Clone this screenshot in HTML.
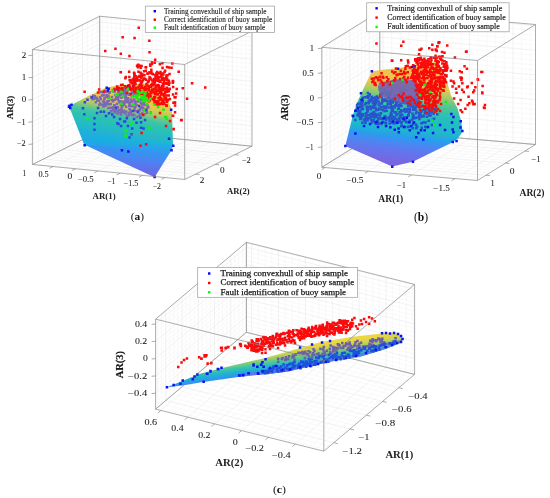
<!DOCTYPE html>
<html><head><meta charset="utf-8"><style>html,body{margin:0;padding:0;background:#fff;overflow:hidden}svg{display:block}</style></head><body>
<svg width="550" height="498" viewBox="0 0 550 498" font-family="&apos;Liberation Serif&apos;, &apos;DejaVu Serif&apos;, serif">
<rect width="550" height="498" fill="#fff"/>
<line x1="97.25" y1="132.41" x2="97.25" y2="17.41" stroke="#f1f1f1" stroke-width="0.4" />
<line x1="97.25" y1="132.41" x2="249.55" y2="147.41" stroke="#f1f1f1" stroke-width="0.4" />
<line x1="92.34" y1="134.84" x2="92.34" y2="19.84" stroke="#f1f1f1" stroke-width="0.4" />
<line x1="92.34" y1="134.84" x2="244.64" y2="149.84" stroke="#f1f1f1" stroke-width="0.4" />
<line x1="87.44" y1="137.27" x2="87.44" y2="22.27" stroke="#f1f1f1" stroke-width="0.4" />
<line x1="87.44" y1="137.27" x2="239.74" y2="152.27" stroke="#f1f1f1" stroke-width="0.4" />
<line x1="77.63" y1="142.12" x2="77.63" y2="27.12" stroke="#f1f1f1" stroke-width="0.4" />
<line x1="77.63" y1="142.12" x2="229.93" y2="157.12" stroke="#f1f1f1" stroke-width="0.4" />
<line x1="72.72" y1="144.55" x2="72.72" y2="29.55" stroke="#f1f1f1" stroke-width="0.4" />
<line x1="72.72" y1="144.55" x2="225.02" y2="159.55" stroke="#f1f1f1" stroke-width="0.4" />
<line x1="67.82" y1="146.98" x2="67.82" y2="31.98" stroke="#f1f1f1" stroke-width="0.4" />
<line x1="67.82" y1="146.98" x2="220.12" y2="161.98" stroke="#f1f1f1" stroke-width="0.4" />
<line x1="58.01" y1="151.83" x2="58.01" y2="36.83" stroke="#f1f1f1" stroke-width="0.4" />
<line x1="58.01" y1="151.83" x2="210.31" y2="166.83" stroke="#f1f1f1" stroke-width="0.4" />
<line x1="53.10" y1="154.26" x2="53.10" y2="39.26" stroke="#f1f1f1" stroke-width="0.4" />
<line x1="53.10" y1="154.26" x2="205.40" y2="169.26" stroke="#f1f1f1" stroke-width="0.4" />
<line x1="48.19" y1="156.68" x2="48.19" y2="41.68" stroke="#f1f1f1" stroke-width="0.4" />
<line x1="48.19" y1="156.68" x2="200.49" y2="171.68" stroke="#f1f1f1" stroke-width="0.4" />
<line x1="38.38" y1="161.54" x2="38.38" y2="46.54" stroke="#f1f1f1" stroke-width="0.4" />
<line x1="38.38" y1="161.54" x2="190.68" y2="176.54" stroke="#f1f1f1" stroke-width="0.4" />
<line x1="33.48" y1="163.97" x2="33.48" y2="48.97" stroke="#f1f1f1" stroke-width="0.4" />
<line x1="33.48" y1="163.97" x2="185.78" y2="178.97" stroke="#f1f1f1" stroke-width="0.4" />
<line x1="32.40" y1="161.84" x2="99.70" y2="128.54" stroke="#f1f1f1" stroke-width="0.4" />
<line x1="99.70" y1="128.54" x2="252.00" y2="143.54" stroke="#f1f1f1" stroke-width="0.4" />
<line x1="32.40" y1="157.40" x2="99.70" y2="124.10" stroke="#f1f1f1" stroke-width="0.4" />
<line x1="99.70" y1="124.10" x2="252.00" y2="139.10" stroke="#f1f1f1" stroke-width="0.4" />
<line x1="32.40" y1="152.96" x2="99.70" y2="119.66" stroke="#f1f1f1" stroke-width="0.4" />
<line x1="99.70" y1="119.66" x2="252.00" y2="134.66" stroke="#f1f1f1" stroke-width="0.4" />
<line x1="32.40" y1="148.52" x2="99.70" y2="115.22" stroke="#f1f1f1" stroke-width="0.4" />
<line x1="99.70" y1="115.22" x2="252.00" y2="130.22" stroke="#f1f1f1" stroke-width="0.4" />
<line x1="32.40" y1="139.64" x2="99.70" y2="106.34" stroke="#f1f1f1" stroke-width="0.4" />
<line x1="99.70" y1="106.34" x2="252.00" y2="121.34" stroke="#f1f1f1" stroke-width="0.4" />
<line x1="32.40" y1="135.19" x2="99.70" y2="101.89" stroke="#f1f1f1" stroke-width="0.4" />
<line x1="99.70" y1="101.89" x2="252.00" y2="116.89" stroke="#f1f1f1" stroke-width="0.4" />
<line x1="32.40" y1="130.75" x2="99.70" y2="97.45" stroke="#f1f1f1" stroke-width="0.4" />
<line x1="99.70" y1="97.45" x2="252.00" y2="112.45" stroke="#f1f1f1" stroke-width="0.4" />
<line x1="32.40" y1="126.31" x2="99.70" y2="93.01" stroke="#f1f1f1" stroke-width="0.4" />
<line x1="99.70" y1="93.01" x2="252.00" y2="108.01" stroke="#f1f1f1" stroke-width="0.4" />
<line x1="32.40" y1="117.43" x2="99.70" y2="84.13" stroke="#f1f1f1" stroke-width="0.4" />
<line x1="99.70" y1="84.13" x2="252.00" y2="99.13" stroke="#f1f1f1" stroke-width="0.4" />
<line x1="32.40" y1="112.99" x2="99.70" y2="79.69" stroke="#f1f1f1" stroke-width="0.4" />
<line x1="99.70" y1="79.69" x2="252.00" y2="94.69" stroke="#f1f1f1" stroke-width="0.4" />
<line x1="32.40" y1="108.55" x2="99.70" y2="75.25" stroke="#f1f1f1" stroke-width="0.4" />
<line x1="99.70" y1="75.25" x2="252.00" y2="90.25" stroke="#f1f1f1" stroke-width="0.4" />
<line x1="32.40" y1="104.11" x2="99.70" y2="70.81" stroke="#f1f1f1" stroke-width="0.4" />
<line x1="99.70" y1="70.81" x2="252.00" y2="85.81" stroke="#f1f1f1" stroke-width="0.4" />
<line x1="32.40" y1="95.23" x2="99.70" y2="61.93" stroke="#f1f1f1" stroke-width="0.4" />
<line x1="99.70" y1="61.93" x2="252.00" y2="76.93" stroke="#f1f1f1" stroke-width="0.4" />
<line x1="32.40" y1="90.79" x2="99.70" y2="57.49" stroke="#f1f1f1" stroke-width="0.4" />
<line x1="99.70" y1="57.49" x2="252.00" y2="72.49" stroke="#f1f1f1" stroke-width="0.4" />
<line x1="32.40" y1="86.35" x2="99.70" y2="53.05" stroke="#f1f1f1" stroke-width="0.4" />
<line x1="99.70" y1="53.05" x2="252.00" y2="68.05" stroke="#f1f1f1" stroke-width="0.4" />
<line x1="32.40" y1="81.91" x2="99.70" y2="48.61" stroke="#f1f1f1" stroke-width="0.4" />
<line x1="99.70" y1="48.61" x2="252.00" y2="63.61" stroke="#f1f1f1" stroke-width="0.4" />
<line x1="32.40" y1="73.03" x2="99.70" y2="39.73" stroke="#f1f1f1" stroke-width="0.4" />
<line x1="99.70" y1="39.73" x2="252.00" y2="54.73" stroke="#f1f1f1" stroke-width="0.4" />
<line x1="32.40" y1="68.59" x2="99.70" y2="35.29" stroke="#f1f1f1" stroke-width="0.4" />
<line x1="99.70" y1="35.29" x2="252.00" y2="50.29" stroke="#f1f1f1" stroke-width="0.4" />
<line x1="32.40" y1="64.15" x2="99.70" y2="30.85" stroke="#f1f1f1" stroke-width="0.4" />
<line x1="99.70" y1="30.85" x2="252.00" y2="45.85" stroke="#f1f1f1" stroke-width="0.4" />
<line x1="32.40" y1="59.71" x2="99.70" y2="26.41" stroke="#f1f1f1" stroke-width="0.4" />
<line x1="99.70" y1="26.41" x2="252.00" y2="41.41" stroke="#f1f1f1" stroke-width="0.4" />
<line x1="32.40" y1="50.83" x2="99.70" y2="17.53" stroke="#f1f1f1" stroke-width="0.4" />
<line x1="99.70" y1="17.53" x2="252.00" y2="32.53" stroke="#f1f1f1" stroke-width="0.4" />
<line x1="250.25" y1="146.03" x2="250.25" y2="31.03" stroke="#f1f1f1" stroke-width="0.4" />
<line x1="182.95" y1="179.33" x2="250.25" y2="146.03" stroke="#f1f1f1" stroke-width="0.4" />
<line x1="245.78" y1="145.59" x2="245.78" y2="30.59" stroke="#f1f1f1" stroke-width="0.4" />
<line x1="178.48" y1="178.89" x2="245.78" y2="145.59" stroke="#f1f1f1" stroke-width="0.4" />
<line x1="241.30" y1="145.15" x2="241.30" y2="30.15" stroke="#f1f1f1" stroke-width="0.4" />
<line x1="174.00" y1="178.45" x2="241.30" y2="145.15" stroke="#f1f1f1" stroke-width="0.4" />
<line x1="236.82" y1="144.70" x2="236.82" y2="29.70" stroke="#f1f1f1" stroke-width="0.4" />
<line x1="169.52" y1="178.00" x2="236.82" y2="144.70" stroke="#f1f1f1" stroke-width="0.4" />
<line x1="227.86" y1="143.82" x2="227.86" y2="28.82" stroke="#f1f1f1" stroke-width="0.4" />
<line x1="160.56" y1="177.12" x2="227.86" y2="143.82" stroke="#f1f1f1" stroke-width="0.4" />
<line x1="223.38" y1="143.38" x2="223.38" y2="28.38" stroke="#f1f1f1" stroke-width="0.4" />
<line x1="156.08" y1="176.68" x2="223.38" y2="143.38" stroke="#f1f1f1" stroke-width="0.4" />
<line x1="218.91" y1="142.94" x2="218.91" y2="27.94" stroke="#f1f1f1" stroke-width="0.4" />
<line x1="151.61" y1="176.24" x2="218.91" y2="142.94" stroke="#f1f1f1" stroke-width="0.4" />
<line x1="214.43" y1="142.50" x2="214.43" y2="27.50" stroke="#f1f1f1" stroke-width="0.4" />
<line x1="147.13" y1="175.80" x2="214.43" y2="142.50" stroke="#f1f1f1" stroke-width="0.4" />
<line x1="205.47" y1="141.62" x2="205.47" y2="26.62" stroke="#f1f1f1" stroke-width="0.4" />
<line x1="138.17" y1="174.92" x2="205.47" y2="141.62" stroke="#f1f1f1" stroke-width="0.4" />
<line x1="200.99" y1="141.18" x2="200.99" y2="26.18" stroke="#f1f1f1" stroke-width="0.4" />
<line x1="133.69" y1="174.48" x2="200.99" y2="141.18" stroke="#f1f1f1" stroke-width="0.4" />
<line x1="196.52" y1="140.74" x2="196.52" y2="25.74" stroke="#f1f1f1" stroke-width="0.4" />
<line x1="129.22" y1="174.04" x2="196.52" y2="140.74" stroke="#f1f1f1" stroke-width="0.4" />
<line x1="192.04" y1="140.29" x2="192.04" y2="25.29" stroke="#f1f1f1" stroke-width="0.4" />
<line x1="124.74" y1="173.59" x2="192.04" y2="140.29" stroke="#f1f1f1" stroke-width="0.4" />
<line x1="183.08" y1="139.41" x2="183.08" y2="24.41" stroke="#f1f1f1" stroke-width="0.4" />
<line x1="115.78" y1="172.71" x2="183.08" y2="139.41" stroke="#f1f1f1" stroke-width="0.4" />
<line x1="178.60" y1="138.97" x2="178.60" y2="23.97" stroke="#f1f1f1" stroke-width="0.4" />
<line x1="111.30" y1="172.27" x2="178.60" y2="138.97" stroke="#f1f1f1" stroke-width="0.4" />
<line x1="174.13" y1="138.53" x2="174.13" y2="23.53" stroke="#f1f1f1" stroke-width="0.4" />
<line x1="106.83" y1="171.83" x2="174.13" y2="138.53" stroke="#f1f1f1" stroke-width="0.4" />
<line x1="169.65" y1="138.09" x2="169.65" y2="23.09" stroke="#f1f1f1" stroke-width="0.4" />
<line x1="102.35" y1="171.39" x2="169.65" y2="138.09" stroke="#f1f1f1" stroke-width="0.4" />
<line x1="160.69" y1="137.21" x2="160.69" y2="22.21" stroke="#f1f1f1" stroke-width="0.4" />
<line x1="93.39" y1="170.51" x2="160.69" y2="137.21" stroke="#f1f1f1" stroke-width="0.4" />
<line x1="156.21" y1="136.77" x2="156.21" y2="21.77" stroke="#f1f1f1" stroke-width="0.4" />
<line x1="88.91" y1="170.07" x2="156.21" y2="136.77" stroke="#f1f1f1" stroke-width="0.4" />
<line x1="151.74" y1="136.32" x2="151.74" y2="21.32" stroke="#f1f1f1" stroke-width="0.4" />
<line x1="84.44" y1="169.62" x2="151.74" y2="136.32" stroke="#f1f1f1" stroke-width="0.4" />
<line x1="147.26" y1="135.88" x2="147.26" y2="20.88" stroke="#f1f1f1" stroke-width="0.4" />
<line x1="79.96" y1="169.18" x2="147.26" y2="135.88" stroke="#f1f1f1" stroke-width="0.4" />
<line x1="138.30" y1="135.00" x2="138.30" y2="20.00" stroke="#f1f1f1" stroke-width="0.4" />
<line x1="71.00" y1="168.30" x2="138.30" y2="135.00" stroke="#f1f1f1" stroke-width="0.4" />
<line x1="133.82" y1="134.56" x2="133.82" y2="19.56" stroke="#f1f1f1" stroke-width="0.4" />
<line x1="66.52" y1="167.86" x2="133.82" y2="134.56" stroke="#f1f1f1" stroke-width="0.4" />
<line x1="129.34" y1="134.12" x2="129.34" y2="19.12" stroke="#f1f1f1" stroke-width="0.4" />
<line x1="62.04" y1="167.42" x2="129.34" y2="134.12" stroke="#f1f1f1" stroke-width="0.4" />
<line x1="124.87" y1="133.68" x2="124.87" y2="18.68" stroke="#f1f1f1" stroke-width="0.4" />
<line x1="57.57" y1="166.98" x2="124.87" y2="133.68" stroke="#f1f1f1" stroke-width="0.4" />
<line x1="115.91" y1="132.80" x2="115.91" y2="17.80" stroke="#f1f1f1" stroke-width="0.4" />
<line x1="48.61" y1="166.10" x2="115.91" y2="132.80" stroke="#f1f1f1" stroke-width="0.4" />
<line x1="111.43" y1="132.36" x2="111.43" y2="17.36" stroke="#f1f1f1" stroke-width="0.4" />
<line x1="44.13" y1="165.66" x2="111.43" y2="132.36" stroke="#f1f1f1" stroke-width="0.4" />
<line x1="106.95" y1="131.91" x2="106.95" y2="16.91" stroke="#f1f1f1" stroke-width="0.4" />
<line x1="39.65" y1="165.21" x2="106.95" y2="131.91" stroke="#f1f1f1" stroke-width="0.4" />
<line x1="102.48" y1="131.47" x2="102.48" y2="16.47" stroke="#f1f1f1" stroke-width="0.4" />
<line x1="35.18" y1="164.77" x2="102.48" y2="131.47" stroke="#f1f1f1" stroke-width="0.4" />
<line x1="43.29" y1="159.11" x2="43.29" y2="44.11" stroke="#e4e4e4" stroke-width="0.5" />
<line x1="43.29" y1="159.11" x2="195.59" y2="174.11" stroke="#e4e4e4" stroke-width="0.5" />
<line x1="62.91" y1="149.40" x2="62.91" y2="34.40" stroke="#e4e4e4" stroke-width="0.5" />
<line x1="62.91" y1="149.40" x2="215.21" y2="164.40" stroke="#e4e4e4" stroke-width="0.5" />
<line x1="82.53" y1="139.69" x2="82.53" y2="24.69" stroke="#e4e4e4" stroke-width="0.5" />
<line x1="82.53" y1="139.69" x2="234.83" y2="154.69" stroke="#e4e4e4" stroke-width="0.5" />
<line x1="32.40" y1="144.08" x2="99.70" y2="110.78" stroke="#e4e4e4" stroke-width="0.5" />
<line x1="99.70" y1="110.78" x2="252.00" y2="125.78" stroke="#e4e4e4" stroke-width="0.5" />
<line x1="32.40" y1="121.87" x2="99.70" y2="88.57" stroke="#e4e4e4" stroke-width="0.5" />
<line x1="99.70" y1="88.57" x2="252.00" y2="103.57" stroke="#e4e4e4" stroke-width="0.5" />
<line x1="32.40" y1="99.67" x2="99.70" y2="66.37" stroke="#e4e4e4" stroke-width="0.5" />
<line x1="99.70" y1="66.37" x2="252.00" y2="81.37" stroke="#e4e4e4" stroke-width="0.5" />
<line x1="32.40" y1="77.47" x2="99.70" y2="44.17" stroke="#e4e4e4" stroke-width="0.5" />
<line x1="99.70" y1="44.17" x2="252.00" y2="59.17" stroke="#e4e4e4" stroke-width="0.5" />
<line x1="32.40" y1="55.27" x2="99.70" y2="21.97" stroke="#e4e4e4" stroke-width="0.5" />
<line x1="99.70" y1="21.97" x2="252.00" y2="36.97" stroke="#e4e4e4" stroke-width="0.5" />
<line x1="120.39" y1="133.24" x2="120.39" y2="18.24" stroke="#e4e4e4" stroke-width="0.5" />
<line x1="53.09" y1="166.54" x2="120.39" y2="133.24" stroke="#e4e4e4" stroke-width="0.5" />
<line x1="142.78" y1="135.44" x2="142.78" y2="20.44" stroke="#e4e4e4" stroke-width="0.5" />
<line x1="75.48" y1="168.74" x2="142.78" y2="135.44" stroke="#e4e4e4" stroke-width="0.5" />
<line x1="165.17" y1="137.65" x2="165.17" y2="22.65" stroke="#e4e4e4" stroke-width="0.5" />
<line x1="97.87" y1="170.95" x2="165.17" y2="137.65" stroke="#e4e4e4" stroke-width="0.5" />
<line x1="187.56" y1="139.85" x2="187.56" y2="24.85" stroke="#e4e4e4" stroke-width="0.5" />
<line x1="120.26" y1="173.15" x2="187.56" y2="139.85" stroke="#e4e4e4" stroke-width="0.5" />
<line x1="209.95" y1="142.06" x2="209.95" y2="27.06" stroke="#e4e4e4" stroke-width="0.5" />
<line x1="142.65" y1="175.36" x2="209.95" y2="142.06" stroke="#e4e4e4" stroke-width="0.5" />
<line x1="232.34" y1="144.26" x2="232.34" y2="29.26" stroke="#e4e4e4" stroke-width="0.5" />
<line x1="165.04" y1="177.56" x2="232.34" y2="144.26" stroke="#e4e4e4" stroke-width="0.5" />
<line x1="99.70" y1="131.20" x2="99.70" y2="16.20" stroke="#8a8a8a" stroke-width="0.7" />
<line x1="32.40" y1="164.50" x2="99.70" y2="131.20" stroke="#8a8a8a" stroke-width="0.7" />
<line x1="99.70" y1="131.20" x2="252.00" y2="146.20" stroke="#8a8a8a" stroke-width="0.7" />
<line x1="377.07" y1="132.99" x2="377.07" y2="12.99" stroke="#f1f1f1" stroke-width="0.4" />
<line x1="377.07" y1="132.99" x2="532.77" y2="146.19" stroke="#f1f1f1" stroke-width="0.4" />
<line x1="373.17" y1="135.41" x2="373.17" y2="15.41" stroke="#f1f1f1" stroke-width="0.4" />
<line x1="373.17" y1="135.41" x2="528.87" y2="148.61" stroke="#f1f1f1" stroke-width="0.4" />
<line x1="365.38" y1="140.25" x2="365.38" y2="20.25" stroke="#f1f1f1" stroke-width="0.4" />
<line x1="365.38" y1="140.25" x2="521.08" y2="153.45" stroke="#f1f1f1" stroke-width="0.4" />
<line x1="361.48" y1="142.67" x2="361.48" y2="22.67" stroke="#f1f1f1" stroke-width="0.4" />
<line x1="361.48" y1="142.67" x2="517.18" y2="155.87" stroke="#f1f1f1" stroke-width="0.4" />
<line x1="357.58" y1="145.09" x2="357.58" y2="25.09" stroke="#f1f1f1" stroke-width="0.4" />
<line x1="357.58" y1="145.09" x2="513.28" y2="158.29" stroke="#f1f1f1" stroke-width="0.4" />
<line x1="353.68" y1="147.51" x2="353.68" y2="27.51" stroke="#f1f1f1" stroke-width="0.4" />
<line x1="353.68" y1="147.51" x2="509.38" y2="160.71" stroke="#f1f1f1" stroke-width="0.4" />
<line x1="345.89" y1="152.35" x2="345.89" y2="32.35" stroke="#f1f1f1" stroke-width="0.4" />
<line x1="345.89" y1="152.35" x2="501.59" y2="165.55" stroke="#f1f1f1" stroke-width="0.4" />
<line x1="341.99" y1="154.77" x2="341.99" y2="34.77" stroke="#f1f1f1" stroke-width="0.4" />
<line x1="341.99" y1="154.77" x2="497.69" y2="167.97" stroke="#f1f1f1" stroke-width="0.4" />
<line x1="338.09" y1="157.19" x2="338.09" y2="37.19" stroke="#f1f1f1" stroke-width="0.4" />
<line x1="338.09" y1="157.19" x2="493.79" y2="170.39" stroke="#f1f1f1" stroke-width="0.4" />
<line x1="334.20" y1="159.61" x2="334.20" y2="39.61" stroke="#f1f1f1" stroke-width="0.4" />
<line x1="334.20" y1="159.61" x2="489.90" y2="172.81" stroke="#f1f1f1" stroke-width="0.4" />
<line x1="326.40" y1="164.45" x2="326.40" y2="44.45" stroke="#f1f1f1" stroke-width="0.4" />
<line x1="326.40" y1="164.45" x2="482.10" y2="177.65" stroke="#f1f1f1" stroke-width="0.4" />
<line x1="322.50" y1="166.86" x2="322.50" y2="46.86" stroke="#f1f1f1" stroke-width="0.4" />
<line x1="322.50" y1="166.86" x2="478.20" y2="180.06" stroke="#f1f1f1" stroke-width="0.4" />
<line x1="321.80" y1="166.81" x2="379.80" y2="130.81" stroke="#f1f1f1" stroke-width="0.4" />
<line x1="379.80" y1="130.81" x2="535.50" y2="144.01" stroke="#f1f1f1" stroke-width="0.4" />
<line x1="321.80" y1="161.87" x2="379.80" y2="125.87" stroke="#f1f1f1" stroke-width="0.4" />
<line x1="379.80" y1="125.87" x2="535.50" y2="139.07" stroke="#f1f1f1" stroke-width="0.4" />
<line x1="321.80" y1="156.93" x2="379.80" y2="120.93" stroke="#f1f1f1" stroke-width="0.4" />
<line x1="379.80" y1="120.93" x2="535.50" y2="134.13" stroke="#f1f1f1" stroke-width="0.4" />
<line x1="321.80" y1="151.99" x2="379.80" y2="115.99" stroke="#f1f1f1" stroke-width="0.4" />
<line x1="379.80" y1="115.99" x2="535.50" y2="129.19" stroke="#f1f1f1" stroke-width="0.4" />
<line x1="321.80" y1="142.11" x2="379.80" y2="106.11" stroke="#f1f1f1" stroke-width="0.4" />
<line x1="379.80" y1="106.11" x2="535.50" y2="119.31" stroke="#f1f1f1" stroke-width="0.4" />
<line x1="321.80" y1="137.18" x2="379.80" y2="101.18" stroke="#f1f1f1" stroke-width="0.4" />
<line x1="379.80" y1="101.18" x2="535.50" y2="114.38" stroke="#f1f1f1" stroke-width="0.4" />
<line x1="321.80" y1="132.24" x2="379.80" y2="96.24" stroke="#f1f1f1" stroke-width="0.4" />
<line x1="379.80" y1="96.24" x2="535.50" y2="109.44" stroke="#f1f1f1" stroke-width="0.4" />
<line x1="321.80" y1="127.30" x2="379.80" y2="91.30" stroke="#f1f1f1" stroke-width="0.4" />
<line x1="379.80" y1="91.30" x2="535.50" y2="104.50" stroke="#f1f1f1" stroke-width="0.4" />
<line x1="321.80" y1="117.42" x2="379.80" y2="81.42" stroke="#f1f1f1" stroke-width="0.4" />
<line x1="379.80" y1="81.42" x2="535.50" y2="94.62" stroke="#f1f1f1" stroke-width="0.4" />
<line x1="321.80" y1="112.49" x2="379.80" y2="76.49" stroke="#f1f1f1" stroke-width="0.4" />
<line x1="379.80" y1="76.49" x2="535.50" y2="89.69" stroke="#f1f1f1" stroke-width="0.4" />
<line x1="321.80" y1="107.55" x2="379.80" y2="71.55" stroke="#f1f1f1" stroke-width="0.4" />
<line x1="379.80" y1="71.55" x2="535.50" y2="84.75" stroke="#f1f1f1" stroke-width="0.4" />
<line x1="321.80" y1="102.61" x2="379.80" y2="66.61" stroke="#f1f1f1" stroke-width="0.4" />
<line x1="379.80" y1="66.61" x2="535.50" y2="79.81" stroke="#f1f1f1" stroke-width="0.4" />
<line x1="321.80" y1="92.73" x2="379.80" y2="56.73" stroke="#f1f1f1" stroke-width="0.4" />
<line x1="379.80" y1="56.73" x2="535.50" y2="69.93" stroke="#f1f1f1" stroke-width="0.4" />
<line x1="321.80" y1="87.79" x2="379.80" y2="51.79" stroke="#f1f1f1" stroke-width="0.4" />
<line x1="379.80" y1="51.79" x2="535.50" y2="64.99" stroke="#f1f1f1" stroke-width="0.4" />
<line x1="321.80" y1="82.86" x2="379.80" y2="46.86" stroke="#f1f1f1" stroke-width="0.4" />
<line x1="379.80" y1="46.86" x2="535.50" y2="60.06" stroke="#f1f1f1" stroke-width="0.4" />
<line x1="321.80" y1="77.92" x2="379.80" y2="41.92" stroke="#f1f1f1" stroke-width="0.4" />
<line x1="379.80" y1="41.92" x2="535.50" y2="55.12" stroke="#f1f1f1" stroke-width="0.4" />
<line x1="321.80" y1="68.04" x2="379.80" y2="32.04" stroke="#f1f1f1" stroke-width="0.4" />
<line x1="379.80" y1="32.04" x2="535.50" y2="45.24" stroke="#f1f1f1" stroke-width="0.4" />
<line x1="321.80" y1="63.10" x2="379.80" y2="27.10" stroke="#f1f1f1" stroke-width="0.4" />
<line x1="379.80" y1="27.10" x2="535.50" y2="40.30" stroke="#f1f1f1" stroke-width="0.4" />
<line x1="321.80" y1="58.16" x2="379.80" y2="22.16" stroke="#f1f1f1" stroke-width="0.4" />
<line x1="379.80" y1="22.16" x2="535.50" y2="35.36" stroke="#f1f1f1" stroke-width="0.4" />
<line x1="321.80" y1="53.23" x2="379.80" y2="17.23" stroke="#f1f1f1" stroke-width="0.4" />
<line x1="379.80" y1="17.23" x2="535.50" y2="30.43" stroke="#f1f1f1" stroke-width="0.4" />
<line x1="530.30" y1="144.06" x2="530.30" y2="24.06" stroke="#f1f1f1" stroke-width="0.4" />
<line x1="472.30" y1="180.06" x2="530.30" y2="144.06" stroke="#f1f1f1" stroke-width="0.4" />
<line x1="521.63" y1="143.32" x2="521.63" y2="23.32" stroke="#f1f1f1" stroke-width="0.4" />
<line x1="463.63" y1="179.32" x2="521.63" y2="143.32" stroke="#f1f1f1" stroke-width="0.4" />
<line x1="504.29" y1="141.85" x2="504.29" y2="21.85" stroke="#f1f1f1" stroke-width="0.4" />
<line x1="446.29" y1="177.85" x2="504.29" y2="141.85" stroke="#f1f1f1" stroke-width="0.4" />
<line x1="495.62" y1="141.12" x2="495.62" y2="21.12" stroke="#f1f1f1" stroke-width="0.4" />
<line x1="437.62" y1="177.12" x2="495.62" y2="141.12" stroke="#f1f1f1" stroke-width="0.4" />
<line x1="486.95" y1="140.38" x2="486.95" y2="20.38" stroke="#f1f1f1" stroke-width="0.4" />
<line x1="428.95" y1="176.38" x2="486.95" y2="140.38" stroke="#f1f1f1" stroke-width="0.4" />
<line x1="478.28" y1="139.65" x2="478.28" y2="19.65" stroke="#f1f1f1" stroke-width="0.4" />
<line x1="420.28" y1="175.65" x2="478.28" y2="139.65" stroke="#f1f1f1" stroke-width="0.4" />
<line x1="460.94" y1="138.18" x2="460.94" y2="18.18" stroke="#f1f1f1" stroke-width="0.4" />
<line x1="402.94" y1="174.18" x2="460.94" y2="138.18" stroke="#f1f1f1" stroke-width="0.4" />
<line x1="452.28" y1="137.44" x2="452.28" y2="17.44" stroke="#f1f1f1" stroke-width="0.4" />
<line x1="394.28" y1="173.44" x2="452.28" y2="137.44" stroke="#f1f1f1" stroke-width="0.4" />
<line x1="443.61" y1="136.71" x2="443.61" y2="16.71" stroke="#f1f1f1" stroke-width="0.4" />
<line x1="385.61" y1="172.71" x2="443.61" y2="136.71" stroke="#f1f1f1" stroke-width="0.4" />
<line x1="434.94" y1="135.97" x2="434.94" y2="15.97" stroke="#f1f1f1" stroke-width="0.4" />
<line x1="376.94" y1="171.97" x2="434.94" y2="135.97" stroke="#f1f1f1" stroke-width="0.4" />
<line x1="417.60" y1="134.50" x2="417.60" y2="14.50" stroke="#f1f1f1" stroke-width="0.4" />
<line x1="359.60" y1="170.50" x2="417.60" y2="134.50" stroke="#f1f1f1" stroke-width="0.4" />
<line x1="408.93" y1="133.77" x2="408.93" y2="13.77" stroke="#f1f1f1" stroke-width="0.4" />
<line x1="350.93" y1="169.77" x2="408.93" y2="133.77" stroke="#f1f1f1" stroke-width="0.4" />
<line x1="400.26" y1="133.03" x2="400.26" y2="13.03" stroke="#f1f1f1" stroke-width="0.4" />
<line x1="342.26" y1="169.03" x2="400.26" y2="133.03" stroke="#f1f1f1" stroke-width="0.4" />
<line x1="391.59" y1="132.30" x2="391.59" y2="12.30" stroke="#f1f1f1" stroke-width="0.4" />
<line x1="333.59" y1="168.30" x2="391.59" y2="132.30" stroke="#f1f1f1" stroke-width="0.4" />
<line x1="330.30" y1="162.03" x2="330.30" y2="42.03" stroke="#e4e4e4" stroke-width="0.5" />
<line x1="330.30" y1="162.03" x2="486.00" y2="175.23" stroke="#e4e4e4" stroke-width="0.5" />
<line x1="349.79" y1="149.93" x2="349.79" y2="29.93" stroke="#e4e4e4" stroke-width="0.5" />
<line x1="349.79" y1="149.93" x2="505.49" y2="163.13" stroke="#e4e4e4" stroke-width="0.5" />
<line x1="369.28" y1="137.83" x2="369.28" y2="17.83" stroke="#e4e4e4" stroke-width="0.5" />
<line x1="369.28" y1="137.83" x2="524.98" y2="151.03" stroke="#e4e4e4" stroke-width="0.5" />
<line x1="321.80" y1="147.05" x2="379.80" y2="111.05" stroke="#e4e4e4" stroke-width="0.5" />
<line x1="379.80" y1="111.05" x2="535.50" y2="124.25" stroke="#e4e4e4" stroke-width="0.5" />
<line x1="321.80" y1="122.36" x2="379.80" y2="86.36" stroke="#e4e4e4" stroke-width="0.5" />
<line x1="379.80" y1="86.36" x2="535.50" y2="99.56" stroke="#e4e4e4" stroke-width="0.5" />
<line x1="321.80" y1="97.67" x2="379.80" y2="61.67" stroke="#e4e4e4" stroke-width="0.5" />
<line x1="379.80" y1="61.67" x2="535.50" y2="74.87" stroke="#e4e4e4" stroke-width="0.5" />
<line x1="321.80" y1="72.98" x2="379.80" y2="36.98" stroke="#e4e4e4" stroke-width="0.5" />
<line x1="379.80" y1="36.98" x2="535.50" y2="50.18" stroke="#e4e4e4" stroke-width="0.5" />
<line x1="321.80" y1="48.29" x2="379.80" y2="12.29" stroke="#e4e4e4" stroke-width="0.5" />
<line x1="379.80" y1="12.29" x2="535.50" y2="25.49" stroke="#e4e4e4" stroke-width="0.5" />
<line x1="382.92" y1="131.56" x2="382.92" y2="11.56" stroke="#e4e4e4" stroke-width="0.5" />
<line x1="324.92" y1="167.56" x2="382.92" y2="131.56" stroke="#e4e4e4" stroke-width="0.5" />
<line x1="426.27" y1="135.24" x2="426.27" y2="15.24" stroke="#e4e4e4" stroke-width="0.5" />
<line x1="368.27" y1="171.24" x2="426.27" y2="135.24" stroke="#e4e4e4" stroke-width="0.5" />
<line x1="469.61" y1="138.91" x2="469.61" y2="18.91" stroke="#e4e4e4" stroke-width="0.5" />
<line x1="411.61" y1="174.91" x2="469.61" y2="138.91" stroke="#e4e4e4" stroke-width="0.5" />
<line x1="512.96" y1="142.59" x2="512.96" y2="22.59" stroke="#e4e4e4" stroke-width="0.5" />
<line x1="454.96" y1="178.59" x2="512.96" y2="142.59" stroke="#e4e4e4" stroke-width="0.5" />
<line x1="379.80" y1="131.30" x2="379.80" y2="11.30" stroke="#8a8a8a" stroke-width="0.7" />
<line x1="321.80" y1="167.30" x2="379.80" y2="131.30" stroke="#8a8a8a" stroke-width="0.7" />
<line x1="379.80" y1="131.30" x2="535.50" y2="144.50" stroke="#8a8a8a" stroke-width="0.7" />
<line x1="157.55" y1="407.45" x2="157.55" y2="317.45" stroke="#f1f1f1" stroke-width="0.4" />
<line x1="157.55" y1="407.45" x2="325.75" y2="449.55" stroke="#f1f1f1" stroke-width="0.4" />
<line x1="161.62" y1="404.01" x2="161.62" y2="314.01" stroke="#f1f1f1" stroke-width="0.4" />
<line x1="161.62" y1="404.01" x2="329.82" y2="446.11" stroke="#f1f1f1" stroke-width="0.4" />
<line x1="169.74" y1="397.14" x2="169.74" y2="307.14" stroke="#f1f1f1" stroke-width="0.4" />
<line x1="169.74" y1="397.14" x2="337.94" y2="439.24" stroke="#f1f1f1" stroke-width="0.4" />
<line x1="173.81" y1="393.70" x2="173.81" y2="303.70" stroke="#f1f1f1" stroke-width="0.4" />
<line x1="173.81" y1="393.70" x2="342.01" y2="435.80" stroke="#f1f1f1" stroke-width="0.4" />
<line x1="177.87" y1="390.26" x2="177.87" y2="300.26" stroke="#f1f1f1" stroke-width="0.4" />
<line x1="177.87" y1="390.26" x2="346.07" y2="432.36" stroke="#f1f1f1" stroke-width="0.4" />
<line x1="186.00" y1="383.39" x2="186.00" y2="293.39" stroke="#f1f1f1" stroke-width="0.4" />
<line x1="186.00" y1="383.39" x2="354.20" y2="425.49" stroke="#f1f1f1" stroke-width="0.4" />
<line x1="190.07" y1="379.95" x2="190.07" y2="289.95" stroke="#f1f1f1" stroke-width="0.4" />
<line x1="190.07" y1="379.95" x2="358.27" y2="422.05" stroke="#f1f1f1" stroke-width="0.4" />
<line x1="194.13" y1="376.51" x2="194.13" y2="286.51" stroke="#f1f1f1" stroke-width="0.4" />
<line x1="194.13" y1="376.51" x2="362.33" y2="418.61" stroke="#f1f1f1" stroke-width="0.4" />
<line x1="202.26" y1="369.63" x2="202.26" y2="279.63" stroke="#f1f1f1" stroke-width="0.4" />
<line x1="202.26" y1="369.63" x2="370.46" y2="411.73" stroke="#f1f1f1" stroke-width="0.4" />
<line x1="206.32" y1="366.20" x2="206.32" y2="276.20" stroke="#f1f1f1" stroke-width="0.4" />
<line x1="206.32" y1="366.20" x2="374.52" y2="408.30" stroke="#f1f1f1" stroke-width="0.4" />
<line x1="210.39" y1="362.76" x2="210.39" y2="272.76" stroke="#f1f1f1" stroke-width="0.4" />
<line x1="210.39" y1="362.76" x2="378.59" y2="404.86" stroke="#f1f1f1" stroke-width="0.4" />
<line x1="218.52" y1="355.88" x2="218.52" y2="265.88" stroke="#f1f1f1" stroke-width="0.4" />
<line x1="218.52" y1="355.88" x2="386.72" y2="397.98" stroke="#f1f1f1" stroke-width="0.4" />
<line x1="222.58" y1="352.45" x2="222.58" y2="262.45" stroke="#f1f1f1" stroke-width="0.4" />
<line x1="222.58" y1="352.45" x2="390.78" y2="394.55" stroke="#f1f1f1" stroke-width="0.4" />
<line x1="226.65" y1="349.01" x2="226.65" y2="259.01" stroke="#f1f1f1" stroke-width="0.4" />
<line x1="226.65" y1="349.01" x2="394.85" y2="391.11" stroke="#f1f1f1" stroke-width="0.4" />
<line x1="234.78" y1="342.13" x2="234.78" y2="252.13" stroke="#f1f1f1" stroke-width="0.4" />
<line x1="234.78" y1="342.13" x2="402.98" y2="384.23" stroke="#f1f1f1" stroke-width="0.4" />
<line x1="238.84" y1="338.69" x2="238.84" y2="248.69" stroke="#f1f1f1" stroke-width="0.4" />
<line x1="238.84" y1="338.69" x2="407.04" y2="380.79" stroke="#f1f1f1" stroke-width="0.4" />
<line x1="242.90" y1="335.26" x2="242.90" y2="245.26" stroke="#f1f1f1" stroke-width="0.4" />
<line x1="242.90" y1="335.26" x2="411.10" y2="377.36" stroke="#f1f1f1" stroke-width="0.4" />
<line x1="155.60" y1="406.24" x2="246.40" y2="329.44" stroke="#f1f1f1" stroke-width="0.4" />
<line x1="246.40" y1="329.44" x2="414.60" y2="371.54" stroke="#f1f1f1" stroke-width="0.4" />
<line x1="155.60" y1="401.92" x2="246.40" y2="325.12" stroke="#f1f1f1" stroke-width="0.4" />
<line x1="246.40" y1="325.12" x2="414.60" y2="367.22" stroke="#f1f1f1" stroke-width="0.4" />
<line x1="155.60" y1="397.59" x2="246.40" y2="320.79" stroke="#f1f1f1" stroke-width="0.4" />
<line x1="246.40" y1="320.79" x2="414.60" y2="362.89" stroke="#f1f1f1" stroke-width="0.4" />
<line x1="155.60" y1="388.94" x2="246.40" y2="312.14" stroke="#f1f1f1" stroke-width="0.4" />
<line x1="246.40" y1="312.14" x2="414.60" y2="354.24" stroke="#f1f1f1" stroke-width="0.4" />
<line x1="155.60" y1="384.61" x2="246.40" y2="307.81" stroke="#f1f1f1" stroke-width="0.4" />
<line x1="246.40" y1="307.81" x2="414.60" y2="349.91" stroke="#f1f1f1" stroke-width="0.4" />
<line x1="155.60" y1="380.28" x2="246.40" y2="303.48" stroke="#f1f1f1" stroke-width="0.4" />
<line x1="246.40" y1="303.48" x2="414.60" y2="345.58" stroke="#f1f1f1" stroke-width="0.4" />
<line x1="155.60" y1="371.63" x2="246.40" y2="294.83" stroke="#f1f1f1" stroke-width="0.4" />
<line x1="246.40" y1="294.83" x2="414.60" y2="336.93" stroke="#f1f1f1" stroke-width="0.4" />
<line x1="155.60" y1="367.30" x2="246.40" y2="290.50" stroke="#f1f1f1" stroke-width="0.4" />
<line x1="246.40" y1="290.50" x2="414.60" y2="332.60" stroke="#f1f1f1" stroke-width="0.4" />
<line x1="155.60" y1="362.98" x2="246.40" y2="286.18" stroke="#f1f1f1" stroke-width="0.4" />
<line x1="246.40" y1="286.18" x2="414.60" y2="328.27" stroke="#f1f1f1" stroke-width="0.4" />
<line x1="155.60" y1="354.32" x2="246.40" y2="277.52" stroke="#f1f1f1" stroke-width="0.4" />
<line x1="246.40" y1="277.52" x2="414.60" y2="319.62" stroke="#f1f1f1" stroke-width="0.4" />
<line x1="155.60" y1="349.99" x2="246.40" y2="273.19" stroke="#f1f1f1" stroke-width="0.4" />
<line x1="246.40" y1="273.19" x2="414.60" y2="315.29" stroke="#f1f1f1" stroke-width="0.4" />
<line x1="155.60" y1="345.67" x2="246.40" y2="268.87" stroke="#f1f1f1" stroke-width="0.4" />
<line x1="246.40" y1="268.87" x2="414.60" y2="310.97" stroke="#f1f1f1" stroke-width="0.4" />
<line x1="155.60" y1="337.01" x2="246.40" y2="260.21" stroke="#f1f1f1" stroke-width="0.4" />
<line x1="246.40" y1="260.21" x2="414.60" y2="302.31" stroke="#f1f1f1" stroke-width="0.4" />
<line x1="155.60" y1="332.69" x2="246.40" y2="255.89" stroke="#f1f1f1" stroke-width="0.4" />
<line x1="246.40" y1="255.89" x2="414.60" y2="297.99" stroke="#f1f1f1" stroke-width="0.4" />
<line x1="155.60" y1="328.36" x2="246.40" y2="251.56" stroke="#f1f1f1" stroke-width="0.4" />
<line x1="246.40" y1="251.56" x2="414.60" y2="293.66" stroke="#f1f1f1" stroke-width="0.4" />
<line x1="155.60" y1="319.71" x2="246.40" y2="242.91" stroke="#f1f1f1" stroke-width="0.4" />
<line x1="246.40" y1="242.91" x2="414.60" y2="285.01" stroke="#f1f1f1" stroke-width="0.4" />
<line x1="412.99" y1="374.00" x2="412.99" y2="284.00" stroke="#f1f1f1" stroke-width="0.4" />
<line x1="322.19" y1="450.80" x2="412.99" y2="374.00" stroke="#f1f1f1" stroke-width="0.4" />
<line x1="406.26" y1="372.31" x2="406.26" y2="282.31" stroke="#f1f1f1" stroke-width="0.4" />
<line x1="315.46" y1="449.11" x2="406.26" y2="372.31" stroke="#f1f1f1" stroke-width="0.4" />
<line x1="399.54" y1="370.63" x2="399.54" y2="280.63" stroke="#f1f1f1" stroke-width="0.4" />
<line x1="308.74" y1="447.43" x2="399.54" y2="370.63" stroke="#f1f1f1" stroke-width="0.4" />
<line x1="392.82" y1="368.95" x2="392.82" y2="278.95" stroke="#f1f1f1" stroke-width="0.4" />
<line x1="302.02" y1="445.75" x2="392.82" y2="368.95" stroke="#f1f1f1" stroke-width="0.4" />
<line x1="379.37" y1="365.58" x2="379.37" y2="275.58" stroke="#f1f1f1" stroke-width="0.4" />
<line x1="288.57" y1="442.38" x2="379.37" y2="365.58" stroke="#f1f1f1" stroke-width="0.4" />
<line x1="372.65" y1="363.90" x2="372.65" y2="273.90" stroke="#f1f1f1" stroke-width="0.4" />
<line x1="281.85" y1="440.70" x2="372.65" y2="363.90" stroke="#f1f1f1" stroke-width="0.4" />
<line x1="365.93" y1="362.22" x2="365.93" y2="272.22" stroke="#f1f1f1" stroke-width="0.4" />
<line x1="275.13" y1="439.02" x2="365.93" y2="362.22" stroke="#f1f1f1" stroke-width="0.4" />
<line x1="352.48" y1="358.85" x2="352.48" y2="268.85" stroke="#f1f1f1" stroke-width="0.4" />
<line x1="261.68" y1="435.65" x2="352.48" y2="358.85" stroke="#f1f1f1" stroke-width="0.4" />
<line x1="345.76" y1="357.17" x2="345.76" y2="267.17" stroke="#f1f1f1" stroke-width="0.4" />
<line x1="254.96" y1="433.97" x2="345.76" y2="357.17" stroke="#f1f1f1" stroke-width="0.4" />
<line x1="339.04" y1="355.49" x2="339.04" y2="265.49" stroke="#f1f1f1" stroke-width="0.4" />
<line x1="248.24" y1="432.29" x2="339.04" y2="355.49" stroke="#f1f1f1" stroke-width="0.4" />
<line x1="325.59" y1="352.12" x2="325.59" y2="262.12" stroke="#f1f1f1" stroke-width="0.4" />
<line x1="234.79" y1="428.92" x2="325.59" y2="352.12" stroke="#f1f1f1" stroke-width="0.4" />
<line x1="318.87" y1="350.44" x2="318.87" y2="260.44" stroke="#f1f1f1" stroke-width="0.4" />
<line x1="228.07" y1="427.24" x2="318.87" y2="350.44" stroke="#f1f1f1" stroke-width="0.4" />
<line x1="312.15" y1="348.76" x2="312.15" y2="258.76" stroke="#f1f1f1" stroke-width="0.4" />
<line x1="221.35" y1="425.56" x2="312.15" y2="348.76" stroke="#f1f1f1" stroke-width="0.4" />
<line x1="298.70" y1="345.39" x2="298.70" y2="255.39" stroke="#f1f1f1" stroke-width="0.4" />
<line x1="207.90" y1="422.19" x2="298.70" y2="345.39" stroke="#f1f1f1" stroke-width="0.4" />
<line x1="291.98" y1="343.71" x2="291.98" y2="253.71" stroke="#f1f1f1" stroke-width="0.4" />
<line x1="201.18" y1="420.51" x2="291.98" y2="343.71" stroke="#f1f1f1" stroke-width="0.4" />
<line x1="285.26" y1="342.03" x2="285.26" y2="252.03" stroke="#f1f1f1" stroke-width="0.4" />
<line x1="194.46" y1="418.83" x2="285.26" y2="342.03" stroke="#f1f1f1" stroke-width="0.4" />
<line x1="271.81" y1="338.66" x2="271.81" y2="248.66" stroke="#f1f1f1" stroke-width="0.4" />
<line x1="181.01" y1="415.46" x2="271.81" y2="338.66" stroke="#f1f1f1" stroke-width="0.4" />
<line x1="265.09" y1="336.98" x2="265.09" y2="246.98" stroke="#f1f1f1" stroke-width="0.4" />
<line x1="174.29" y1="413.78" x2="265.09" y2="336.98" stroke="#f1f1f1" stroke-width="0.4" />
<line x1="258.37" y1="335.30" x2="258.37" y2="245.30" stroke="#f1f1f1" stroke-width="0.4" />
<line x1="167.57" y1="412.10" x2="258.37" y2="335.30" stroke="#f1f1f1" stroke-width="0.4" />
<line x1="165.68" y1="400.57" x2="165.68" y2="310.57" stroke="#e4e4e4" stroke-width="0.5" />
<line x1="165.68" y1="400.57" x2="333.88" y2="442.67" stroke="#e4e4e4" stroke-width="0.5" />
<line x1="181.94" y1="386.82" x2="181.94" y2="296.82" stroke="#e4e4e4" stroke-width="0.5" />
<line x1="181.94" y1="386.82" x2="350.14" y2="428.92" stroke="#e4e4e4" stroke-width="0.5" />
<line x1="198.20" y1="373.07" x2="198.20" y2="283.07" stroke="#e4e4e4" stroke-width="0.5" />
<line x1="198.20" y1="373.07" x2="366.40" y2="415.17" stroke="#e4e4e4" stroke-width="0.5" />
<line x1="214.45" y1="359.32" x2="214.45" y2="269.32" stroke="#e4e4e4" stroke-width="0.5" />
<line x1="214.45" y1="359.32" x2="382.65" y2="401.42" stroke="#e4e4e4" stroke-width="0.5" />
<line x1="230.71" y1="345.57" x2="230.71" y2="255.57" stroke="#e4e4e4" stroke-width="0.5" />
<line x1="230.71" y1="345.57" x2="398.91" y2="387.67" stroke="#e4e4e4" stroke-width="0.5" />
<line x1="155.60" y1="393.26" x2="246.40" y2="316.46" stroke="#e4e4e4" stroke-width="0.5" />
<line x1="246.40" y1="316.46" x2="414.60" y2="358.56" stroke="#e4e4e4" stroke-width="0.5" />
<line x1="155.60" y1="375.96" x2="246.40" y2="299.16" stroke="#e4e4e4" stroke-width="0.5" />
<line x1="246.40" y1="299.16" x2="414.60" y2="341.26" stroke="#e4e4e4" stroke-width="0.5" />
<line x1="155.60" y1="358.65" x2="246.40" y2="281.85" stroke="#e4e4e4" stroke-width="0.5" />
<line x1="246.40" y1="281.85" x2="414.60" y2="323.95" stroke="#e4e4e4" stroke-width="0.5" />
<line x1="155.60" y1="341.34" x2="246.40" y2="264.54" stroke="#e4e4e4" stroke-width="0.5" />
<line x1="246.40" y1="264.54" x2="414.60" y2="306.64" stroke="#e4e4e4" stroke-width="0.5" />
<line x1="155.60" y1="324.03" x2="246.40" y2="247.23" stroke="#e4e4e4" stroke-width="0.5" />
<line x1="246.40" y1="247.23" x2="414.60" y2="289.33" stroke="#e4e4e4" stroke-width="0.5" />
<line x1="251.64" y1="333.61" x2="251.64" y2="243.61" stroke="#e4e4e4" stroke-width="0.5" />
<line x1="160.84" y1="410.41" x2="251.64" y2="333.61" stroke="#e4e4e4" stroke-width="0.5" />
<line x1="278.53" y1="340.34" x2="278.53" y2="250.34" stroke="#e4e4e4" stroke-width="0.5" />
<line x1="187.73" y1="417.14" x2="278.53" y2="340.34" stroke="#e4e4e4" stroke-width="0.5" />
<line x1="305.42" y1="347.07" x2="305.42" y2="257.07" stroke="#e4e4e4" stroke-width="0.5" />
<line x1="214.62" y1="423.87" x2="305.42" y2="347.07" stroke="#e4e4e4" stroke-width="0.5" />
<line x1="332.32" y1="353.80" x2="332.32" y2="263.80" stroke="#e4e4e4" stroke-width="0.5" />
<line x1="241.52" y1="430.60" x2="332.32" y2="353.80" stroke="#e4e4e4" stroke-width="0.5" />
<line x1="359.21" y1="360.53" x2="359.21" y2="270.53" stroke="#e4e4e4" stroke-width="0.5" />
<line x1="268.41" y1="437.33" x2="359.21" y2="360.53" stroke="#e4e4e4" stroke-width="0.5" />
<line x1="386.10" y1="367.27" x2="386.10" y2="277.27" stroke="#e4e4e4" stroke-width="0.5" />
<line x1="295.30" y1="444.07" x2="386.10" y2="367.27" stroke="#e4e4e4" stroke-width="0.5" />
<line x1="246.40" y1="332.30" x2="246.40" y2="242.30" stroke="#8a8a8a" stroke-width="0.7" />
<line x1="155.60" y1="409.10" x2="246.40" y2="332.30" stroke="#8a8a8a" stroke-width="0.7" />
<line x1="246.40" y1="332.30" x2="414.60" y2="374.40" stroke="#8a8a8a" stroke-width="0.7" />
<defs><linearGradient id="ga" gradientUnits="userSpaceOnUse" x1="120.00" y1="96.00" x2="109.71" y2="153.15"><stop offset="0.0000" stop-color="#f0c648"/><stop offset="0.1186" stop-color="#e2c84e"/><stop offset="0.2034" stop-color="#b0cb64"/><stop offset="0.2712" stop-color="#6cc88a"/><stop offset="0.3390" stop-color="#40c4a8"/><stop offset="0.4237" stop-color="#2cc2b2"/><stop offset="0.5763" stop-color="#22bcc4"/><stop offset="0.7119" stop-color="#1cb2da"/><stop offset="0.8475" stop-color="#1aaae6"/><stop offset="1.0000" stop-color="#22a4ec"/></linearGradient><linearGradient id="ga2" gradientUnits="userSpaceOnUse" x1="128.00" y1="143.00" x2="123.98" y2="176.52"><stop offset="0.0000" stop-color="#24a8ea"/><stop offset="0.2059" stop-color="#3494f0"/><stop offset="0.4412" stop-color="#4a84f2"/><stop offset="0.6765" stop-color="#5e72ec"/><stop offset="1.0000" stop-color="#7062dc"/></linearGradient></defs>
<polygon points="69.0,106.3 76.0,102.5 90.0,95.0 98.0,91.8 106.0,87.6 118.0,85.4 131.0,84.2 145.0,83.5 158.0,87.0 166.0,96.0 169.5,104.0 172.0,110.0 172.5,128.0 173.0,145.5 84.5,145.6" fill="url(#ga)" />
<polygon points="84.5,144.8 173.0,144.7 171.5,150.2 154.6,177.2" fill="url(#ga2)" />
<path fill="#7c68b4" d="M113.4 87.4h2.5v2.5h-2.5zM122.5 87.3h2.5v2.5h-2.5zM103.8 89.6h2.5v2.5h-2.5zM112.5 88.7h2.5v2.5h-2.5zM115.4 88.4h2.5v2.5h-2.5zM119.2 89.4h2.5v2.5h-2.5zM121.4 88.6h2.5v2.5h-2.5zM122.8 88.2h2.5v2.5h-2.5zM125.0 88.6h2.5v2.5h-2.5zM126.6 89.0h2.5v2.5h-2.5zM99.0 90.8h2.5v2.5h-2.5zM100.3 90.8h2.5v2.5h-2.5zM102.7 90.4h2.5v2.5h-2.5zM105.5 90.8h2.5v2.5h-2.5zM108.5 91.1h2.5v2.5h-2.5zM112.2 90.2h2.5v2.5h-2.5zM113.6 90.2h2.5v2.5h-2.5zM117.3 90.3h2.5v2.5h-2.5zM120.8 90.7h2.5v2.5h-2.5zM121.1 89.7h2.5v2.5h-2.5zM123.5 90.4h2.5v2.5h-2.5zM130.9 90.7h2.5v2.5h-2.5zM133.6 91.4h2.5v2.5h-2.5zM108.1 91.5h2.5v2.5h-2.5zM117.0 92.4h2.5v2.5h-2.5zM119.6 92.8h2.5v2.5h-2.5zM120.3 92.5h2.5v2.5h-2.5zM123.0 92.4h2.5v2.5h-2.5zM125.3 92.9h2.5v2.5h-2.5zM127.5 92.4h2.5v2.5h-2.5zM130.2 91.9h2.5v2.5h-2.5zM132.0 91.8h2.5v2.5h-2.5zM133.0 93.2h2.5v2.5h-2.5zM135.1 92.2h2.5v2.5h-2.5zM92.0 94.6h2.5v2.5h-2.5zM93.6 95.1h2.5v2.5h-2.5zM100.8 94.2h2.5v2.5h-2.5zM102.4 93.4h2.5v2.5h-2.5zM105.2 94.0h2.5v2.5h-2.5zM107.2 94.5h2.5v2.5h-2.5zM114.1 93.8h2.5v2.5h-2.5zM115.5 94.2h2.5v2.5h-2.5zM118.0 94.1h2.5v2.5h-2.5zM119.3 93.4h2.5v2.5h-2.5zM122.5 95.0h2.5v2.5h-2.5zM124.7 95.1h2.5v2.5h-2.5zM128.1 93.6h2.5v2.5h-2.5zM130.5 95.1h2.5v2.5h-2.5zM131.9 94.8h2.5v2.5h-2.5zM134.7 94.9h2.5v2.5h-2.5zM90.3 96.3h2.5v2.5h-2.5zM95.3 96.4h2.5v2.5h-2.5zM98.9 96.1h2.5v2.5h-2.5zM103.2 96.4h2.5v2.5h-2.5zM105.3 95.8h2.5v2.5h-2.5zM107.3 96.2h2.5v2.5h-2.5zM110.8 95.8h2.5v2.5h-2.5zM114.9 96.3h2.5v2.5h-2.5zM117.2 95.6h2.5v2.5h-2.5zM120.1 96.6h2.5v2.5h-2.5zM124.0 96.7h2.5v2.5h-2.5zM127.0 97.1h2.5v2.5h-2.5zM140.4 96.8h2.5v2.5h-2.5zM91.3 98.0h2.5v2.5h-2.5zM93.2 97.6h2.5v2.5h-2.5zM96.1 97.8h2.5v2.5h-2.5zM99.6 98.0h2.5v2.5h-2.5zM103.2 97.7h2.5v2.5h-2.5zM111.8 98.7h2.5v2.5h-2.5zM113.7 98.4h2.5v2.5h-2.5zM115.8 97.6h2.5v2.5h-2.5zM116.8 97.8h2.5v2.5h-2.5zM124.8 97.0h2.5v2.5h-2.5zM125.6 98.8h2.5v2.5h-2.5zM130.0 98.3h2.5v2.5h-2.5zM133.0 98.3h2.5v2.5h-2.5zM137.9 98.6h2.5v2.5h-2.5zM138.6 98.3h2.5v2.5h-2.5zM141.3 98.6h2.5v2.5h-2.5zM96.1 99.2h2.5v2.5h-2.5zM97.6 99.4h2.5v2.5h-2.5zM102.0 100.2h2.5v2.5h-2.5zM103.1 100.7h2.5v2.5h-2.5zM106.2 99.9h2.5v2.5h-2.5zM107.4 99.5h2.5v2.5h-2.5zM110.5 98.9h2.5v2.5h-2.5zM111.9 99.9h2.5v2.5h-2.5zM117.4 99.4h2.5v2.5h-2.5zM118.8 100.1h2.5v2.5h-2.5zM121.2 100.6h2.5v2.5h-2.5zM123.8 99.7h2.5v2.5h-2.5zM126.1 100.4h2.5v2.5h-2.5zM127.2 99.2h2.5v2.5h-2.5zM130.4 100.3h2.5v2.5h-2.5zM131.0 100.1h2.5v2.5h-2.5zM133.8 100.2h2.5v2.5h-2.5zM136.6 100.2h2.5v2.5h-2.5zM138.2 98.9h2.5v2.5h-2.5zM140.7 100.3h2.5v2.5h-2.5zM143.0 100.5h2.5v2.5h-2.5zM144.0 98.9h2.5v2.5h-2.5zM94.6 100.9h2.5v2.5h-2.5zM99.0 102.2h2.5v2.5h-2.5zM104.7 102.1h2.5v2.5h-2.5zM106.7 102.6h2.5v2.5h-2.5zM115.7 102.7h2.5v2.5h-2.5zM118.1 101.1h2.5v2.5h-2.5zM121.7 101.9h2.5v2.5h-2.5zM123.9 101.1h2.5v2.5h-2.5zM125.6 101.0h2.5v2.5h-2.5zM127.9 101.8h2.5v2.5h-2.5zM129.9 100.8h2.5v2.5h-2.5zM134.3 101.5h2.5v2.5h-2.5zM139.5 102.0h2.5v2.5h-2.5zM140.7 101.3h2.5v2.5h-2.5zM142.6 101.8h2.5v2.5h-2.5zM98.1 103.5h2.5v2.5h-2.5zM100.9 103.5h2.5v2.5h-2.5zM103.2 103.1h2.5v2.5h-2.5zM105.0 103.1h2.5v2.5h-2.5zM107.5 102.9h2.5v2.5h-2.5zM109.6 102.7h2.5v2.5h-2.5zM113.1 103.9h2.5v2.5h-2.5zM119.6 103.5h2.5v2.5h-2.5zM120.3 103.4h2.5v2.5h-2.5zM123.1 103.4h2.5v2.5h-2.5zM128.0 104.5h2.5v2.5h-2.5zM128.6 103.3h2.5v2.5h-2.5zM133.4 102.7h2.5v2.5h-2.5zM135.3 103.8h2.5v2.5h-2.5zM140.9 103.3h2.5v2.5h-2.5zM143.4 103.8h2.5v2.5h-2.5zM146.4 104.4h2.5v2.5h-2.5zM102.2 105.3h2.5v2.5h-2.5zM104.3 104.6h2.5v2.5h-2.5zM109.4 106.4h2.5v2.5h-2.5zM112.2 106.0h2.5v2.5h-2.5zM113.4 105.5h2.5v2.5h-2.5zM115.1 106.1h2.5v2.5h-2.5zM116.7 105.9h2.5v2.5h-2.5zM121.1 105.1h2.5v2.5h-2.5zM124.9 105.6h2.5v2.5h-2.5zM128.8 104.6h2.5v2.5h-2.5zM131.2 105.1h2.5v2.5h-2.5zM134.1 105.9h2.5v2.5h-2.5zM139.4 106.3h2.5v2.5h-2.5zM140.9 105.9h2.5v2.5h-2.5zM146.3 106.3h2.5v2.5h-2.5zM147.1 106.3h2.5v2.5h-2.5zM107.2 106.8h2.5v2.5h-2.5zM110.9 106.5h2.5v2.5h-2.5zM112.0 108.0h2.5v2.5h-2.5zM120.3 106.6h2.5v2.5h-2.5zM128.2 107.5h2.5v2.5h-2.5zM133.4 106.5h2.5v2.5h-2.5zM138.9 108.2h2.5v2.5h-2.5zM139.8 106.4h2.5v2.5h-2.5zM142.1 107.0h2.5v2.5h-2.5zM109.8 110.0h2.5v2.5h-2.5zM111.5 109.0h2.5v2.5h-2.5zM114.0 109.2h2.5v2.5h-2.5zM116.1 109.2h2.5v2.5h-2.5zM118.5 108.7h2.5v2.5h-2.5zM120.3 109.0h2.5v2.5h-2.5zM122.3 109.5h2.5v2.5h-2.5zM128.9 108.3h2.5v2.5h-2.5zM129.7 109.7h2.5v2.5h-2.5zM133.2 109.0h2.5v2.5h-2.5zM135.4 109.9h2.5v2.5h-2.5zM137.5 108.8h2.5v2.5h-2.5zM138.8 109.1h2.5v2.5h-2.5zM142.2 109.1h2.5v2.5h-2.5zM143.3 108.7h2.5v2.5h-2.5zM145.3 108.5h2.5v2.5h-2.5zM113.3 110.7h2.5v2.5h-2.5zM113.6 111.1h2.5v2.5h-2.5zM116.5 110.6h2.5v2.5h-2.5zM119.1 111.4h2.5v2.5h-2.5zM121.6 111.0h2.5v2.5h-2.5zM123.8 111.0h2.5v2.5h-2.5zM124.8 110.2h2.5v2.5h-2.5zM127.5 111.4h2.5v2.5h-2.5zM129.6 112.0h2.5v2.5h-2.5zM136.7 110.8h2.5v2.5h-2.5zM145.3 110.8h2.5v2.5h-2.5zM145.8 111.6h2.5v2.5h-2.5zM116.3 112.2h2.5v2.5h-2.5zM119.6 113.2h2.5v2.5h-2.5zM123.8 112.3h2.5v2.5h-2.5zM129.9 113.1h2.5v2.5h-2.5zM132.9 113.4h2.5v2.5h-2.5zM139.0 113.3h2.5v2.5h-2.5zM140.9 112.1h2.5v2.5h-2.5zM143.1 112.9h2.5v2.5h-2.5zM125.9 114.8h2.5v2.5h-2.5zM127.6 114.1h2.5v2.5h-2.5zM131.3 114.0h2.5v2.5h-2.5zM135.5 115.7h2.5v2.5h-2.5zM137.8 114.4h2.5v2.5h-2.5z"/>
<path fill="#0a14f0" d="M67.7 105.5h2.5v2.5h-2.5zM68.3 104.4h2.5v2.5h-2.5zM70.3 103.6h2.5v2.5h-2.5zM69.0 106.8h2.5v2.5h-2.5zM120.7 148.9h2.5v2.5h-2.5zM127.1 150.2h2.5v2.5h-2.5zM167.8 137.4h2.5v2.5h-2.5zM172.0 144.4h2.5v2.5h-2.5zM170.3 148.9h2.5v2.5h-2.5zM169.9 108.6h2.5v2.5h-2.5zM83.4 144.1h2.5v2.5h-2.5zM153.4 175.8h2.5v2.5h-2.5zM105.5 86.6h2.5v2.5h-2.5zM107.4 87.4h2.5v2.5h-2.5zM106.6 89.3h2.5v2.5h-2.5zM126.8 84.8h2.5v2.5h-2.5zM132.2 84.4h2.5v2.5h-2.5z"/>
<path fill="#2a48dc" d="M86.2 98.5h2.5v2.5h-2.5zM83.6 101.1h2.5v2.5h-2.5zM90.6 96.0h2.5v2.5h-2.5zM81.7 107.1h2.5v2.5h-2.5zM83.0 112.9h2.5v2.5h-2.5zM93.2 117.0h2.5v2.5h-2.5zM93.2 122.7h2.5v2.5h-2.5zM93.2 128.4h2.5v2.5h-2.5zM99.5 110.4h2.5v2.5h-2.5zM102.7 110.4h2.5v2.5h-2.5zM107.8 112.1h2.5v2.5h-2.5zM111.0 113.2h2.5v2.5h-2.5zM116.1 122.1h2.5v2.5h-2.5zM117.3 122.7h2.5v2.5h-2.5zM123.1 120.2h2.5v2.5h-2.5zM125.6 117.0h2.5v2.5h-2.5zM123.9 120.3h2.5v2.5h-2.5zM130.9 127.3h2.5v2.5h-2.5zM130.3 133.0h2.5v2.5h-2.5zM128.3 136.2h2.5v2.5h-2.5zM135.3 121.5h2.5v2.5h-2.5zM139.8 120.9h2.5v2.5h-2.5zM139.8 126.6h2.5v2.5h-2.5zM142.3 127.3h2.5v2.5h-2.5zM139.2 116.4h2.5v2.5h-2.5zM118.8 117.8h2.5v2.5h-2.5zM112.8 115.8h2.5v2.5h-2.5zM104.8 114.8h2.5v2.5h-2.5zM96.8 106.8h2.5v2.5h-2.5zM95.8 111.8h2.5v2.5h-2.5zM136.8 110.8h2.5v2.5h-2.5zM131.8 109.8h2.5v2.5h-2.5zM119.8 124.8h2.5v2.5h-2.5zM126.8 124.8h2.5v2.5h-2.5zM132.8 117.8h2.5v2.5h-2.5zM143.8 118.8h2.5v2.5h-2.5zM144.8 108.8h2.5v2.5h-2.5zM137.8 104.8h2.5v2.5h-2.5zM114.8 106.8h2.5v2.5h-2.5z"/>
<path fill="#fa0a0a" d="M153.4 61.5h2.5v2.5h-2.5zM148.9 63.2h2.5v2.5h-2.5zM158.6 63.0h2.5v2.5h-2.5zM161.2 62.1h2.5v2.5h-2.5zM135.8 64.8h2.5v2.5h-2.5zM138.9 64.5h2.5v2.5h-2.5zM140.3 64.7h2.5v2.5h-2.5zM149.1 64.6h2.5v2.5h-2.5zM136.7 66.1h2.5v2.5h-2.5zM144.8 66.1h2.5v2.5h-2.5zM142.9 69.9h2.5v2.5h-2.5zM144.5 69.4h2.5v2.5h-2.5zM150.1 68.6h2.5v2.5h-2.5zM132.8 71.5h2.5v2.5h-2.5zM137.2 70.5h2.5v2.5h-2.5zM139.4 71.4h2.5v2.5h-2.5zM159.3 70.7h2.5v2.5h-2.5zM146.8 72.4h2.5v2.5h-2.5zM156.9 75.5h2.5v2.5h-2.5zM124.1 77.0h2.5v2.5h-2.5zM131.5 78.3h2.5v2.5h-2.5zM142.5 77.2h2.5v2.5h-2.5zM152.7 77.7h2.5v2.5h-2.5zM156.1 76.4h2.5v2.5h-2.5zM161.4 76.5h2.5v2.5h-2.5zM164.9 77.0h2.5v2.5h-2.5zM138.6 79.3h2.5v2.5h-2.5zM159.2 80.6h2.5v2.5h-2.5zM165.5 79.1h2.5v2.5h-2.5zM140.6 81.0h2.5v2.5h-2.5zM150.7 82.4h2.5v2.5h-2.5zM162.9 82.2h2.5v2.5h-2.5zM132.3 86.1h2.5v2.5h-2.5zM143.5 88.9h2.5v2.5h-2.5zM175.5 87.7h2.5v2.5h-2.5zM121.1 89.0h2.5v2.5h-2.5zM133.5 90.7h2.5v2.5h-2.5zM138.5 90.2h2.5v2.5h-2.5zM153.1 91.1h2.5v2.5h-2.5zM160.1 90.6h2.5v2.5h-2.5zM125.6 91.4h2.5v2.5h-2.5zM129.5 93.1h2.5v2.5h-2.5zM137.3 93.0h2.5v2.5h-2.5zM154.0 91.6h2.5v2.5h-2.5zM142.1 93.5h2.5v2.5h-2.5zM171.8 93.3h2.5v2.5h-2.5zM141.3 97.2h2.5v2.5h-2.5zM146.4 96.4h2.5v2.5h-2.5zM153.2 96.8h2.5v2.5h-2.5zM173.3 96.1h2.5v2.5h-2.5zM142.1 97.9h2.5v2.5h-2.5zM166.3 99.2h2.5v2.5h-2.5zM168.6 97.8h2.5v2.5h-2.5zM147.7 100.0h2.5v2.5h-2.5zM153.6 101.5h2.5v2.5h-2.5zM156.0 100.2h2.5v2.5h-2.5zM155.1 103.1h2.5v2.5h-2.5zM162.0 102.8h2.5v2.5h-2.5zM172.2 101.5h2.5v2.5h-2.5zM173.4 101.6h2.5v2.5h-2.5zM165.4 104.5h2.5v2.5h-2.5z"/>
<path fill="#fa0a0a" d="M148.2 70.9h2.5v2.5h-2.5zM150.1 71.1h2.5v2.5h-2.5zM156.0 70.8h2.5v2.5h-2.5zM140.4 72.8h2.5v2.5h-2.5zM146.1 72.3h2.5v2.5h-2.5zM149.4 71.8h2.5v2.5h-2.5zM151.1 72.4h2.5v2.5h-2.5zM155.1 72.2h2.5v2.5h-2.5zM157.4 71.9h2.5v2.5h-2.5zM159.6 72.7h2.5v2.5h-2.5zM161.5 72.2h2.5v2.5h-2.5zM133.1 73.9h2.5v2.5h-2.5zM138.1 74.8h2.5v2.5h-2.5zM139.7 74.3h2.5v2.5h-2.5zM141.9 73.4h2.5v2.5h-2.5zM143.2 73.9h2.5v2.5h-2.5zM151.8 73.0h2.5v2.5h-2.5zM154.0 74.0h2.5v2.5h-2.5zM155.9 74.6h2.5v2.5h-2.5zM160.8 73.6h2.5v2.5h-2.5zM162.1 73.3h2.5v2.5h-2.5zM165.2 74.3h2.5v2.5h-2.5zM132.9 76.4h2.5v2.5h-2.5zM134.8 74.9h2.5v2.5h-2.5zM135.9 76.2h2.5v2.5h-2.5zM138.1 75.5h2.5v2.5h-2.5zM140.8 75.0h2.5v2.5h-2.5zM148.3 75.9h2.5v2.5h-2.5zM154.5 75.9h2.5v2.5h-2.5zM157.6 76.1h2.5v2.5h-2.5zM159.5 76.1h2.5v2.5h-2.5zM165.0 76.2h2.5v2.5h-2.5zM133.5 77.9h2.5v2.5h-2.5zM135.8 77.5h2.5v2.5h-2.5zM140.1 76.8h2.5v2.5h-2.5zM143.8 77.4h2.5v2.5h-2.5zM149.4 77.2h2.5v2.5h-2.5zM152.7 77.9h2.5v2.5h-2.5zM153.9 77.6h2.5v2.5h-2.5zM157.1 77.0h2.5v2.5h-2.5zM161.1 78.4h2.5v2.5h-2.5zM162.9 77.3h2.5v2.5h-2.5zM165.4 77.6h2.5v2.5h-2.5zM166.1 78.3h2.5v2.5h-2.5zM130.1 79.3h2.5v2.5h-2.5zM132.5 79.9h2.5v2.5h-2.5zM133.7 80.0h2.5v2.5h-2.5zM135.9 79.4h2.5v2.5h-2.5zM137.9 78.8h2.5v2.5h-2.5zM140.7 80.0h2.5v2.5h-2.5zM141.8 79.0h2.5v2.5h-2.5zM144.9 78.5h2.5v2.5h-2.5zM147.5 79.9h2.5v2.5h-2.5zM148.1 78.6h2.5v2.5h-2.5zM151.0 79.3h2.5v2.5h-2.5zM153.7 79.7h2.5v2.5h-2.5zM154.5 79.0h2.5v2.5h-2.5zM156.6 79.6h2.5v2.5h-2.5zM158.7 79.3h2.5v2.5h-2.5zM162.8 79.2h2.5v2.5h-2.5zM165.7 78.6h2.5v2.5h-2.5zM167.6 79.5h2.5v2.5h-2.5zM129.3 81.3h2.5v2.5h-2.5zM130.9 81.9h2.5v2.5h-2.5zM133.2 81.1h2.5v2.5h-2.5zM139.7 81.8h2.5v2.5h-2.5zM146.7 81.1h2.5v2.5h-2.5zM152.3 80.4h2.5v2.5h-2.5zM153.7 81.1h2.5v2.5h-2.5zM158.4 80.4h2.5v2.5h-2.5zM162.7 81.6h2.5v2.5h-2.5zM164.9 82.1h2.5v2.5h-2.5zM166.0 82.1h2.5v2.5h-2.5zM168.2 81.4h2.5v2.5h-2.5zM127.9 84.0h2.5v2.5h-2.5zM132.5 82.6h2.5v2.5h-2.5zM134.3 82.6h2.5v2.5h-2.5zM138.6 83.7h2.5v2.5h-2.5zM139.6 82.2h2.5v2.5h-2.5zM145.2 82.8h2.5v2.5h-2.5zM149.7 83.9h2.5v2.5h-2.5zM151.2 83.8h2.5v2.5h-2.5zM153.1 83.0h2.5v2.5h-2.5zM156.5 83.7h2.5v2.5h-2.5zM161.5 82.3h2.5v2.5h-2.5zM163.6 82.2h2.5v2.5h-2.5zM165.9 82.5h2.5v2.5h-2.5zM167.7 83.6h2.5v2.5h-2.5zM128.6 85.5h2.5v2.5h-2.5zM133.1 84.2h2.5v2.5h-2.5zM138.2 84.9h2.5v2.5h-2.5zM140.9 84.4h2.5v2.5h-2.5zM144.0 85.5h2.5v2.5h-2.5zM146.2 84.2h2.5v2.5h-2.5zM147.3 85.3h2.5v2.5h-2.5zM149.8 85.6h2.5v2.5h-2.5zM151.8 84.0h2.5v2.5h-2.5zM154.7 84.3h2.5v2.5h-2.5zM155.9 85.1h2.5v2.5h-2.5zM157.8 84.2h2.5v2.5h-2.5zM160.9 85.0h2.5v2.5h-2.5zM162.2 84.8h2.5v2.5h-2.5zM129.4 87.3h2.5v2.5h-2.5zM132.2 87.0h2.5v2.5h-2.5zM134.9 87.1h2.5v2.5h-2.5zM136.5 86.3h2.5v2.5h-2.5zM140.0 86.4h2.5v2.5h-2.5zM142.3 86.9h2.5v2.5h-2.5zM144.4 87.1h2.5v2.5h-2.5zM147.4 86.8h2.5v2.5h-2.5zM153.2 87.4h2.5v2.5h-2.5zM154.5 86.2h2.5v2.5h-2.5zM157.6 86.3h2.5v2.5h-2.5zM158.7 86.6h2.5v2.5h-2.5zM161.2 87.2h2.5v2.5h-2.5zM163.6 87.4h2.5v2.5h-2.5zM165.6 86.6h2.5v2.5h-2.5zM168.2 87.6h2.5v2.5h-2.5zM127.3 87.8h2.5v2.5h-2.5zM129.9 88.5h2.5v2.5h-2.5zM130.7 87.7h2.5v2.5h-2.5zM135.1 89.2h2.5v2.5h-2.5zM136.9 88.9h2.5v2.5h-2.5zM138.7 87.7h2.5v2.5h-2.5zM143.6 88.1h2.5v2.5h-2.5zM145.2 87.9h2.5v2.5h-2.5zM147.8 89.1h2.5v2.5h-2.5zM150.7 88.6h2.5v2.5h-2.5zM151.3 88.2h2.5v2.5h-2.5zM154.9 89.0h2.5v2.5h-2.5zM156.4 88.4h2.5v2.5h-2.5zM159.1 88.6h2.5v2.5h-2.5zM160.9 88.2h2.5v2.5h-2.5zM162.1 88.4h2.5v2.5h-2.5zM165.1 88.2h2.5v2.5h-2.5zM167.3 88.9h2.5v2.5h-2.5zM168.5 87.7h2.5v2.5h-2.5zM132.9 89.4h2.5v2.5h-2.5zM136.5 91.1h2.5v2.5h-2.5zM137.9 89.5h2.5v2.5h-2.5zM140.7 90.6h2.5v2.5h-2.5zM144.1 89.8h2.5v2.5h-2.5zM149.4 90.8h2.5v2.5h-2.5zM151.6 90.8h2.5v2.5h-2.5zM152.5 90.3h2.5v2.5h-2.5zM154.9 90.7h2.5v2.5h-2.5zM157.2 89.5h2.5v2.5h-2.5zM159.7 90.3h2.5v2.5h-2.5zM163.5 90.4h2.5v2.5h-2.5zM165.8 90.6h2.5v2.5h-2.5zM167.6 89.9h2.5v2.5h-2.5zM140.1 92.7h2.5v2.5h-2.5zM141.8 92.1h2.5v2.5h-2.5zM143.3 92.1h2.5v2.5h-2.5zM145.7 91.3h2.5v2.5h-2.5zM147.2 92.7h2.5v2.5h-2.5zM149.9 92.1h2.5v2.5h-2.5zM154.7 92.2h2.5v2.5h-2.5zM156.5 92.8h2.5v2.5h-2.5zM158.6 91.4h2.5v2.5h-2.5zM159.7 91.5h2.5v2.5h-2.5zM162.0 92.9h2.5v2.5h-2.5zM163.8 92.7h2.5v2.5h-2.5zM142.9 94.1h2.5v2.5h-2.5zM144.1 94.2h2.5v2.5h-2.5zM146.1 94.2h2.5v2.5h-2.5zM148.7 94.5h2.5v2.5h-2.5zM153.7 93.1h2.5v2.5h-2.5zM155.8 93.3h2.5v2.5h-2.5zM159.9 93.2h2.5v2.5h-2.5zM162.4 93.7h2.5v2.5h-2.5zM162.8 94.3h2.5v2.5h-2.5zM165.9 94.2h2.5v2.5h-2.5zM167.5 94.3h2.5v2.5h-2.5zM143.0 95.6h2.5v2.5h-2.5zM145.6 95.9h2.5v2.5h-2.5zM147.9 96.2h2.5v2.5h-2.5zM149.4 95.2h2.5v2.5h-2.5zM152.9 96.0h2.5v2.5h-2.5zM153.9 96.0h2.5v2.5h-2.5zM158.6 95.2h2.5v2.5h-2.5zM163.3 95.0h2.5v2.5h-2.5zM163.8 96.7h2.5v2.5h-2.5zM147.7 97.0h2.5v2.5h-2.5zM151.4 98.0h2.5v2.5h-2.5zM152.3 97.5h2.5v2.5h-2.5zM157.3 96.9h2.5v2.5h-2.5zM159.8 97.1h2.5v2.5h-2.5zM161.2 98.5h2.5v2.5h-2.5zM163.4 97.3h2.5v2.5h-2.5zM164.8 96.9h2.5v2.5h-2.5zM166.9 98.5h2.5v2.5h-2.5zM148.5 98.9h2.5v2.5h-2.5zM152.8 98.8h2.5v2.5h-2.5zM154.5 99.9h2.5v2.5h-2.5zM155.3 100.0h2.5v2.5h-2.5zM158.4 98.6h2.5v2.5h-2.5zM161.1 99.6h2.5v2.5h-2.5zM162.2 98.7h2.5v2.5h-2.5zM164.9 98.8h2.5v2.5h-2.5zM153.5 101.3h2.5v2.5h-2.5zM156.0 100.9h2.5v2.5h-2.5zM157.2 100.7h2.5v2.5h-2.5zM160.3 101.7h2.5v2.5h-2.5zM162.2 100.5h2.5v2.5h-2.5zM162.7 101.8h2.5v2.5h-2.5zM165.6 100.5h2.5v2.5h-2.5zM156.8 103.3h2.5v2.5h-2.5zM158.0 103.0h2.5v2.5h-2.5zM160.4 102.4h2.5v2.5h-2.5zM163.0 102.4h2.5v2.5h-2.5zM165.1 103.9h2.5v2.5h-2.5z"/>
<path fill="#fa0a0a" d="M121.4 83.5h2.5v2.5h-2.5zM115.9 85.3h2.5v2.5h-2.5zM119.9 83.7h2.5v2.5h-2.5zM123.7 85.0h2.5v2.5h-2.5zM115.9 87.5h2.5v2.5h-2.5zM117.8 86.8h2.5v2.5h-2.5zM120.9 87.1h2.5v2.5h-2.5zM124.9 86.5h2.5v2.5h-2.5zM125.2 86.3h2.5v2.5h-2.5zM112.2 89.3h2.5v2.5h-2.5zM113.2 88.2h2.5v2.5h-2.5zM117.1 88.9h2.5v2.5h-2.5zM120.2 87.8h2.5v2.5h-2.5z"/>
<path fill="#fa0a0a" d="M137.5 26.5h2.5v2.5h-2.5zM121.4 36.1h2.5v2.5h-2.5zM133.3 36.7h2.5v2.5h-2.5zM148.1 39.6h2.5v2.5h-2.5zM114.2 47.5h2.5v2.5h-2.5zM104.0 49.8h2.5v2.5h-2.5zM119.6 52.6h2.5v2.5h-2.5zM128.2 54.8h2.5v2.5h-2.5zM148.3 51.0h2.5v2.5h-2.5zM153.9 58.6h2.5v2.5h-2.5zM150.7 60.9h2.5v2.5h-2.5zM150.7 62.8h2.5v2.5h-2.5zM137.1 63.4h2.5v2.5h-2.5zM139.4 66.4h2.5v2.5h-2.5zM144.5 66.0h2.5v2.5h-2.5zM161.3 66.6h2.5v2.5h-2.5zM119.6 71.1h2.5v2.5h-2.5zM127.9 70.4h2.5v2.5h-2.5zM171.1 62.3h2.5v2.5h-2.5zM161.3 66.7h2.5v2.5h-2.5zM165.8 65.7h2.5v2.5h-2.5zM167.7 66.3h2.5v2.5h-2.5zM170.3 66.5h2.5v2.5h-2.5zM163.9 69.5h2.5v2.5h-2.5zM163.3 70.8h2.5v2.5h-2.5zM177.5 70.5h2.5v2.5h-2.5zM168.3 72.7h2.5v2.5h-2.5zM166.4 74.0h2.5v2.5h-2.5zM160.1 74.6h2.5v2.5h-2.5zM171.5 79.7h2.5v2.5h-2.5zM171.5 81.6h2.5v2.5h-2.5zM190.9 82.0h2.5v2.5h-2.5zM204.0 86.3h2.5v2.5h-2.5zM181.5 87.1h2.5v2.5h-2.5zM177.4 70.6h2.5v2.5h-2.5zM190.8 82.1h2.5v2.5h-2.5zM181.6 87.1h2.5v2.5h-2.5zM185.8 97.5h2.5v2.5h-2.5zM174.9 92.3h2.5v2.5h-2.5zM174.3 95.9h2.5v2.5h-2.5zM171.9 80.2h2.5v2.5h-2.5zM171.9 85.7h2.5v2.5h-2.5zM173.8 101.3h2.5v2.5h-2.5zM173.8 104.3h2.5v2.5h-2.5zM173.8 111.0h2.5v2.5h-2.5zM171.9 114.6h2.5v2.5h-2.5zM180.4 118.8h2.5v2.5h-2.5zM172.5 127.8h2.5v2.5h-2.5zM83.4 90.6h2.5v2.5h-2.5zM97.9 88.2h2.5v2.5h-2.5zM96.8 91.3h2.5v2.5h-2.5zM102.8 90.4h2.5v2.5h-2.5zM119.4 71.0h2.5v2.5h-2.5zM127.9 70.6h2.5v2.5h-2.5zM124.6 75.7h2.5v2.5h-2.5zM128.1 75.7h2.5v2.5h-2.5zM128.4 79.0h2.5v2.5h-2.5zM136.6 63.7h2.5v2.5h-2.5zM133.3 72.4h2.5v2.5h-2.5zM132.8 76.8h2.5v2.5h-2.5zM140.4 131.7h2.5v2.5h-2.5zM139.2 144.4h2.5v2.5h-2.5zM144.9 142.9h2.5v2.5h-2.5zM171.6 114.5h2.5v2.5h-2.5zM173.8 111.1h2.5v2.5h-2.5zM179.9 119.0h2.5v2.5h-2.5zM172.3 127.9h2.5v2.5h-2.5zM164.8 124.8h2.5v2.5h-2.5zM168.8 119.8h2.5v2.5h-2.5zM158.8 111.8h2.5v2.5h-2.5zM153.8 115.8h2.5v2.5h-2.5zM141.8 113.8h2.5v2.5h-2.5z"/>
<path fill="#14f014" d="M144.2 90.9h2.5v2.5h-2.5zM131.0 95.3h2.5v2.5h-2.5zM144.5 98.6h2.5v2.5h-2.5zM136.4 89.7h2.5v2.5h-2.5zM141.2 91.3h2.5v2.5h-2.5zM143.6 97.0h2.5v2.5h-2.5zM141.5 97.0h2.5v2.5h-2.5zM138.9 91.4h2.5v2.5h-2.5zM144.5 96.9h2.5v2.5h-2.5zM140.4 96.7h2.5v2.5h-2.5zM140.9 90.8h2.5v2.5h-2.5zM136.3 95.1h2.5v2.5h-2.5zM141.6 95.7h2.5v2.5h-2.5zM145.4 96.7h2.5v2.5h-2.5zM140.2 95.1h2.5v2.5h-2.5zM135.7 94.5h2.5v2.5h-2.5zM144.8 97.2h2.5v2.5h-2.5zM143.1 99.8h2.5v2.5h-2.5zM143.1 95.2h2.5v2.5h-2.5zM143.8 92.5h2.5v2.5h-2.5zM145.8 99.2h2.5v2.5h-2.5zM136.9 90.8h2.5v2.5h-2.5zM141.3 100.0h2.5v2.5h-2.5zM142.7 97.8h2.5v2.5h-2.5zM143.2 94.6h2.5v2.5h-2.5zM147.7 99.5h2.5v2.5h-2.5zM149.1 97.6h2.5v2.5h-2.5zM137.2 98.4h2.5v2.5h-2.5zM142.5 97.8h2.5v2.5h-2.5zM137.1 90.9h2.5v2.5h-2.5z"/>
<path fill="#14f014" d="M86.2 117.0h2.5v2.5h-2.5zM125.0 129.7h2.5v2.5h-2.5zM124.3 134.4h2.5v2.5h-2.5zM130.9 121.5h2.5v2.5h-2.5zM129.6 123.4h2.5v2.5h-2.5zM124.5 129.8h2.5v2.5h-2.5zM124.5 134.3h2.5v2.5h-2.5zM148.1 126.6h2.5v2.5h-2.5zM149.3 112.0h2.5v2.5h-2.5zM165.3 117.7h2.5v2.5h-2.5zM164.0 115.8h2.5v2.5h-2.5zM111.5 89.9h2.5v2.5h-2.5zM114.8 93.7h2.5v2.5h-2.5zM120.2 90.4h2.5v2.5h-2.5zM121.9 94.8h2.5v2.5h-2.5zM108.2 97.0h2.5v2.5h-2.5zM120.2 102.4h2.5v2.5h-2.5zM133.3 94.8h2.5v2.5h-2.5zM135.5 97.0h2.5v2.5h-2.5zM137.7 93.7h2.5v2.5h-2.5zM132.2 103.5h2.5v2.5h-2.5zM126.6 88.1h2.5v2.5h-2.5zM116.4 93.2h2.5v2.5h-2.5zM111.3 89.3h2.5v2.5h-2.5zM131.8 103.3h2.5v2.5h-2.5zM153.3 103.3h2.5v2.5h-2.5zM149.5 111.0h2.5v2.5h-2.5zM162.3 108.4h2.5v2.5h-2.5zM164.8 116.1h2.5v2.5h-2.5zM156.8 105.8h2.5v2.5h-2.5zM142.8 108.8h2.5v2.5h-2.5zM145.8 102.8h2.5v2.5h-2.5z"/>
<g opacity="0.35">
<line x1="99.70" y1="131.20" x2="99.70" y2="16.20" stroke="#8a8a8a" stroke-width="0.7" />
<line x1="32.40" y1="164.50" x2="99.70" y2="131.20" stroke="#8a8a8a" stroke-width="0.7" />
<line x1="99.70" y1="131.20" x2="252.00" y2="146.20" stroke="#8a8a8a" stroke-width="0.7" />
</g>
<defs><linearGradient id="gb" gradientUnits="userSpaceOnUse" x1="400.00" y1="70.00" x2="388.41" y2="166.61"><stop offset="0.0000" stop-color="#f0c24c"/><stop offset="0.1429" stop-color="#e8c852"/><stop offset="0.2245" stop-color="#a8cb66"/><stop offset="0.3061" stop-color="#58c88e"/><stop offset="0.3878" stop-color="#34c2ac"/><stop offset="0.4694" stop-color="#22bec0"/><stop offset="0.5816" stop-color="#20bac8"/><stop offset="0.6327" stop-color="#1cb0dc"/><stop offset="0.6837" stop-color="#2a9cee"/><stop offset="0.7449" stop-color="#4888f2"/><stop offset="0.8265" stop-color="#6276ee"/><stop offset="0.9286" stop-color="#7468e2"/><stop offset="1.0000" stop-color="#7a64dc"/></linearGradient><linearGradient id="gbp" gradientUnits="userSpaceOnUse" x1="400.00" y1="80.00" x2="397.62" y2="103.76"><stop offset="0.0000" stop-color="#7866a8"/><stop offset="0.3333" stop-color="#6e62aa"/><stop offset="0.6667" stop-color="#5a62b6"/><stop offset="1.0000" stop-color="#3e5ec4"/></linearGradient></defs>
<polygon points="371.8,71.2 385.0,69.5 397.3,68.3 410.0,66.0 425.0,63.0 437.0,62.0 443.0,70.0 447.0,81.8 451.0,95.6 457.6,108.4 461.1,121.1 462.6,131.6 458.3,138.0 452.7,142.2 412.7,161.8 392.2,166.6 345.3,145.9 352.7,116.0 356.5,104.5 361.0,93.7" fill="url(#gb)" />
<path fill="#2452d0" d="M366.7 91.8h2.5v2.5h-2.5zM368.5 93.0h2.5v2.5h-2.5zM379.1 93.0h2.5v2.5h-2.5zM380.4 93.2h2.5v2.5h-2.5zM367.7 94.8h2.5v2.5h-2.5zM375.6 95.2h2.5v2.5h-2.5zM361.5 96.6h2.5v2.5h-2.5zM370.8 96.6h2.5v2.5h-2.5zM387.1 96.5h2.5v2.5h-2.5zM391.0 96.7h2.5v2.5h-2.5zM370.4 99.0h2.5v2.5h-2.5zM373.0 99.7h2.5v2.5h-2.5zM374.9 97.9h2.5v2.5h-2.5zM389.0 99.2h2.5v2.5h-2.5zM390.3 98.3h2.5v2.5h-2.5zM360.6 101.3h2.5v2.5h-2.5zM364.8 101.8h2.5v2.5h-2.5zM373.0 100.5h2.5v2.5h-2.5zM391.8 100.4h2.5v2.5h-2.5zM395.3 101.2h2.5v2.5h-2.5zM395.8 100.7h2.5v2.5h-2.5zM403.2 100.1h2.5v2.5h-2.5zM413.1 101.3h2.5v2.5h-2.5zM414.4 100.1h2.5v2.5h-2.5zM424.4 101.5h2.5v2.5h-2.5zM356.6 102.6h2.5v2.5h-2.5zM360.8 103.3h2.5v2.5h-2.5zM367.4 102.1h2.5v2.5h-2.5zM372.6 101.9h2.5v2.5h-2.5zM377.8 102.8h2.5v2.5h-2.5zM386.5 102.7h2.5v2.5h-2.5zM399.4 102.2h2.5v2.5h-2.5zM355.8 104.2h2.5v2.5h-2.5zM382.3 105.2h2.5v2.5h-2.5zM385.3 105.2h2.5v2.5h-2.5zM394.1 104.1h2.5v2.5h-2.5zM421.3 104.4h2.5v2.5h-2.5zM367.3 106.3h2.5v2.5h-2.5zM371.0 105.7h2.5v2.5h-2.5zM377.6 107.6h2.5v2.5h-2.5zM384.8 106.5h2.5v2.5h-2.5zM397.0 107.7h2.5v2.5h-2.5zM408.8 107.6h2.5v2.5h-2.5zM411.9 105.9h2.5v2.5h-2.5zM413.0 107.2h2.5v2.5h-2.5zM419.0 105.7h2.5v2.5h-2.5zM423.8 106.2h2.5v2.5h-2.5zM427.8 107.8h2.5v2.5h-2.5zM431.7 107.2h2.5v2.5h-2.5zM366.5 109.0h2.5v2.5h-2.5zM391.5 109.0h2.5v2.5h-2.5zM399.8 108.9h2.5v2.5h-2.5zM406.3 107.9h2.5v2.5h-2.5zM412.6 107.9h2.5v2.5h-2.5zM414.3 108.3h2.5v2.5h-2.5zM423.3 107.7h2.5v2.5h-2.5zM426.3 107.9h2.5v2.5h-2.5zM430.8 108.0h2.5v2.5h-2.5zM434.1 107.9h2.5v2.5h-2.5zM358.0 111.2h2.5v2.5h-2.5zM390.1 111.6h2.5v2.5h-2.5zM393.3 111.3h2.5v2.5h-2.5zM398.4 110.9h2.5v2.5h-2.5zM404.2 110.4h2.5v2.5h-2.5zM429.6 111.1h2.5v2.5h-2.5zM356.9 113.3h2.5v2.5h-2.5zM359.7 112.9h2.5v2.5h-2.5zM361.9 113.0h2.5v2.5h-2.5zM369.3 112.8h2.5v2.5h-2.5zM371.7 113.0h2.5v2.5h-2.5zM373.9 112.5h2.5v2.5h-2.5zM376.0 113.4h2.5v2.5h-2.5zM389.6 112.7h2.5v2.5h-2.5zM396.0 113.0h2.5v2.5h-2.5zM407.5 112.0h2.5v2.5h-2.5zM418.2 112.2h2.5v2.5h-2.5zM419.3 112.5h2.5v2.5h-2.5zM432.4 112.4h2.5v2.5h-2.5zM436.0 113.0h2.5v2.5h-2.5zM365.1 114.8h2.5v2.5h-2.5zM372.2 114.4h2.5v2.5h-2.5zM375.0 115.4h2.5v2.5h-2.5zM383.9 114.9h2.5v2.5h-2.5zM389.1 115.0h2.5v2.5h-2.5zM390.4 114.2h2.5v2.5h-2.5zM399.1 113.9h2.5v2.5h-2.5zM407.2 114.2h2.5v2.5h-2.5zM420.7 115.1h2.5v2.5h-2.5zM422.4 114.6h2.5v2.5h-2.5zM428.3 114.1h2.5v2.5h-2.5zM429.1 114.1h2.5v2.5h-2.5zM359.1 117.5h2.5v2.5h-2.5zM366.1 117.3h2.5v2.5h-2.5zM371.1 115.8h2.5v2.5h-2.5zM376.9 117.0h2.5v2.5h-2.5zM380.3 117.6h2.5v2.5h-2.5zM385.3 116.7h2.5v2.5h-2.5zM388.0 117.2h2.5v2.5h-2.5zM392.3 116.2h2.5v2.5h-2.5zM393.7 116.6h2.5v2.5h-2.5zM400.8 116.7h2.5v2.5h-2.5zM403.2 115.9h2.5v2.5h-2.5zM413.1 117.1h2.5v2.5h-2.5zM415.0 116.4h2.5v2.5h-2.5zM417.6 115.8h2.5v2.5h-2.5zM432.8 117.5h2.5v2.5h-2.5zM354.1 118.8h2.5v2.5h-2.5zM363.8 117.9h2.5v2.5h-2.5zM376.1 119.7h2.5v2.5h-2.5zM384.9 118.7h2.5v2.5h-2.5zM393.2 118.1h2.5v2.5h-2.5zM395.8 118.3h2.5v2.5h-2.5zM398.7 119.7h2.5v2.5h-2.5zM427.4 119.6h2.5v2.5h-2.5zM431.3 118.6h2.5v2.5h-2.5zM361.1 121.4h2.5v2.5h-2.5zM364.2 121.5h2.5v2.5h-2.5zM372.2 119.9h2.5v2.5h-2.5zM391.0 121.2h2.5v2.5h-2.5zM397.2 119.8h2.5v2.5h-2.5zM398.6 120.3h2.5v2.5h-2.5zM400.4 120.9h2.5v2.5h-2.5zM405.0 120.7h2.5v2.5h-2.5zM412.1 121.5h2.5v2.5h-2.5zM422.1 121.2h2.5v2.5h-2.5zM424.3 121.2h2.5v2.5h-2.5zM374.7 122.4h2.5v2.5h-2.5zM377.1 122.4h2.5v2.5h-2.5zM380.1 122.7h2.5v2.5h-2.5zM411.9 123.0h2.5v2.5h-2.5zM414.9 123.4h2.5v2.5h-2.5zM420.2 122.1h2.5v2.5h-2.5zM430.6 123.8h2.5v2.5h-2.5zM399.9 125.0h2.5v2.5h-2.5zM400.6 124.3h2.5v2.5h-2.5zM403.5 125.7h2.5v2.5h-2.5zM407.7 125.4h2.5v2.5h-2.5zM415.9 125.6h2.5v2.5h-2.5zM424.0 125.5h2.5v2.5h-2.5zM406.6 125.8h2.5v2.5h-2.5zM411.4 126.9h2.5v2.5h-2.5zM414.8 126.8h2.5v2.5h-2.5zM415.2 126.9h2.5v2.5h-2.5zM420.5 126.6h2.5v2.5h-2.5zM425.1 125.9h2.5v2.5h-2.5z"/>
<path fill="#2a54cc" d="M363.9 96.0h2.5v2.5h-2.5zM366.3 95.0h2.5v2.5h-2.5zM370.4 95.5h2.5v2.5h-2.5zM373.8 96.2h2.5v2.5h-2.5zM377.3 96.5h2.5v2.5h-2.5zM380.5 95.7h2.5v2.5h-2.5zM361.0 98.0h2.5v2.5h-2.5zM366.7 96.6h2.5v2.5h-2.5zM368.5 98.2h2.5v2.5h-2.5zM371.9 97.0h2.5v2.5h-2.5zM374.4 98.5h2.5v2.5h-2.5zM376.0 98.1h2.5v2.5h-2.5zM381.2 98.3h2.5v2.5h-2.5zM382.8 98.2h2.5v2.5h-2.5zM385.0 98.4h2.5v2.5h-2.5zM359.7 98.8h2.5v2.5h-2.5zM367.4 100.1h2.5v2.5h-2.5zM368.6 100.3h2.5v2.5h-2.5zM370.4 98.9h2.5v2.5h-2.5zM374.4 99.4h2.5v2.5h-2.5zM374.8 98.9h2.5v2.5h-2.5zM383.1 99.4h2.5v2.5h-2.5zM385.0 99.7h2.5v2.5h-2.5zM385.9 99.8h2.5v2.5h-2.5zM388.6 100.1h2.5v2.5h-2.5zM390.7 99.5h2.5v2.5h-2.5zM397.4 100.0h2.5v2.5h-2.5zM359.2 101.8h2.5v2.5h-2.5zM361.5 100.5h2.5v2.5h-2.5zM368.0 100.5h2.5v2.5h-2.5zM371.5 101.7h2.5v2.5h-2.5zM374.7 101.4h2.5v2.5h-2.5zM377.4 100.6h2.5v2.5h-2.5zM378.3 102.0h2.5v2.5h-2.5zM381.0 100.5h2.5v2.5h-2.5zM389.7 101.1h2.5v2.5h-2.5zM391.6 101.3h2.5v2.5h-2.5zM395.0 101.9h2.5v2.5h-2.5zM398.6 101.3h2.5v2.5h-2.5zM410.3 102.3h2.5v2.5h-2.5zM359.3 104.1h2.5v2.5h-2.5zM363.9 103.1h2.5v2.5h-2.5zM374.0 103.6h2.5v2.5h-2.5zM377.5 103.6h2.5v2.5h-2.5zM380.7 102.3h2.5v2.5h-2.5zM387.0 102.4h2.5v2.5h-2.5zM389.5 103.2h2.5v2.5h-2.5zM398.0 104.0h2.5v2.5h-2.5zM407.3 103.1h2.5v2.5h-2.5zM410.2 103.3h2.5v2.5h-2.5zM412.1 104.1h2.5v2.5h-2.5zM414.8 103.4h2.5v2.5h-2.5zM359.0 105.6h2.5v2.5h-2.5zM361.2 104.4h2.5v2.5h-2.5zM365.5 105.6h2.5v2.5h-2.5zM368.5 105.2h2.5v2.5h-2.5zM370.9 105.4h2.5v2.5h-2.5zM372.8 104.3h2.5v2.5h-2.5zM378.7 104.8h2.5v2.5h-2.5zM380.3 106.1h2.5v2.5h-2.5zM384.3 105.7h2.5v2.5h-2.5zM384.8 105.7h2.5v2.5h-2.5zM390.3 105.7h2.5v2.5h-2.5zM391.8 105.2h2.5v2.5h-2.5zM396.0 104.5h2.5v2.5h-2.5zM399.3 104.5h2.5v2.5h-2.5zM400.3 104.8h2.5v2.5h-2.5zM406.9 105.0h2.5v2.5h-2.5zM409.7 105.0h2.5v2.5h-2.5zM414.9 105.8h2.5v2.5h-2.5zM415.5 104.7h2.5v2.5h-2.5zM418.2 105.1h2.5v2.5h-2.5zM422.5 104.9h2.5v2.5h-2.5zM424.6 106.2h2.5v2.5h-2.5zM356.5 106.9h2.5v2.5h-2.5zM360.4 107.1h2.5v2.5h-2.5zM361.8 107.4h2.5v2.5h-2.5zM365.9 107.6h2.5v2.5h-2.5zM371.8 106.4h2.5v2.5h-2.5zM374.3 106.6h2.5v2.5h-2.5zM378.4 107.5h2.5v2.5h-2.5zM379.3 107.9h2.5v2.5h-2.5zM383.2 106.8h2.5v2.5h-2.5zM387.9 106.3h2.5v2.5h-2.5zM390.7 107.1h2.5v2.5h-2.5zM393.4 106.2h2.5v2.5h-2.5zM397.7 106.8h2.5v2.5h-2.5zM404.0 107.8h2.5v2.5h-2.5zM407.7 108.1h2.5v2.5h-2.5zM424.0 106.6h2.5v2.5h-2.5zM426.3 107.0h2.5v2.5h-2.5zM355.5 108.9h2.5v2.5h-2.5zM356.2 109.5h2.5v2.5h-2.5zM358.4 109.5h2.5v2.5h-2.5zM360.4 108.1h2.5v2.5h-2.5zM366.1 109.0h2.5v2.5h-2.5zM369.4 108.1h2.5v2.5h-2.5zM374.8 109.0h2.5v2.5h-2.5zM376.7 108.6h2.5v2.5h-2.5zM381.7 109.1h2.5v2.5h-2.5zM383.5 109.8h2.5v2.5h-2.5zM385.3 109.6h2.5v2.5h-2.5zM390.5 109.2h2.5v2.5h-2.5zM391.8 109.6h2.5v2.5h-2.5zM401.5 109.7h2.5v2.5h-2.5zM402.9 108.4h2.5v2.5h-2.5zM405.7 109.9h2.5v2.5h-2.5zM408.4 110.0h2.5v2.5h-2.5zM408.8 109.8h2.5v2.5h-2.5zM412.1 108.6h2.5v2.5h-2.5zM421.2 109.1h2.5v2.5h-2.5zM422.9 108.8h2.5v2.5h-2.5zM424.2 109.7h2.5v2.5h-2.5zM428.1 108.9h2.5v2.5h-2.5zM428.7 109.3h2.5v2.5h-2.5zM356.7 110.1h2.5v2.5h-2.5zM359.0 110.1h2.5v2.5h-2.5zM364.8 111.9h2.5v2.5h-2.5zM366.2 110.6h2.5v2.5h-2.5zM372.2 110.9h2.5v2.5h-2.5zM372.6 110.7h2.5v2.5h-2.5zM379.7 111.9h2.5v2.5h-2.5zM394.8 111.1h2.5v2.5h-2.5zM399.4 111.1h2.5v2.5h-2.5zM408.7 110.6h2.5v2.5h-2.5zM415.3 110.5h2.5v2.5h-2.5zM417.9 111.8h2.5v2.5h-2.5zM419.9 110.4h2.5v2.5h-2.5zM424.1 110.7h2.5v2.5h-2.5zM426.0 111.4h2.5v2.5h-2.5zM431.2 110.8h2.5v2.5h-2.5zM356.3 113.7h2.5v2.5h-2.5zM359.0 112.5h2.5v2.5h-2.5zM361.8 113.2h2.5v2.5h-2.5zM365.4 113.4h2.5v2.5h-2.5zM371.4 112.0h2.5v2.5h-2.5zM377.0 113.8h2.5v2.5h-2.5zM378.4 112.5h2.5v2.5h-2.5zM389.9 113.3h2.5v2.5h-2.5zM401.0 113.5h2.5v2.5h-2.5zM411.3 112.6h2.5v2.5h-2.5zM414.8 111.9h2.5v2.5h-2.5zM417.9 113.1h2.5v2.5h-2.5zM423.5 112.1h2.5v2.5h-2.5zM425.5 112.3h2.5v2.5h-2.5zM427.8 112.3h2.5v2.5h-2.5zM428.8 113.9h2.5v2.5h-2.5zM357.6 114.8h2.5v2.5h-2.5zM359.3 115.1h2.5v2.5h-2.5zM361.6 114.2h2.5v2.5h-2.5zM364.5 115.7h2.5v2.5h-2.5zM367.8 114.0h2.5v2.5h-2.5zM369.5 115.0h2.5v2.5h-2.5zM374.2 114.7h2.5v2.5h-2.5zM378.7 115.0h2.5v2.5h-2.5zM383.5 114.9h2.5v2.5h-2.5zM392.0 115.2h2.5v2.5h-2.5zM395.2 114.1h2.5v2.5h-2.5zM399.1 115.6h2.5v2.5h-2.5zM406.7 114.4h2.5v2.5h-2.5zM411.8 115.3h2.5v2.5h-2.5zM412.5 114.4h2.5v2.5h-2.5zM418.1 114.5h2.5v2.5h-2.5zM420.2 115.6h2.5v2.5h-2.5zM422.4 114.9h2.5v2.5h-2.5zM425.6 115.6h2.5v2.5h-2.5zM428.6 114.5h2.5v2.5h-2.5zM359.6 116.9h2.5v2.5h-2.5zM360.6 115.8h2.5v2.5h-2.5zM366.1 116.8h2.5v2.5h-2.5zM368.7 116.9h2.5v2.5h-2.5zM373.3 116.3h2.5v2.5h-2.5zM378.8 116.3h2.5v2.5h-2.5zM381.9 117.3h2.5v2.5h-2.5zM383.9 116.4h2.5v2.5h-2.5zM384.7 117.1h2.5v2.5h-2.5zM388.1 115.9h2.5v2.5h-2.5zM389.3 116.7h2.5v2.5h-2.5zM397.9 116.7h2.5v2.5h-2.5zM401.9 116.9h2.5v2.5h-2.5zM411.6 115.9h2.5v2.5h-2.5zM359.3 117.7h2.5v2.5h-2.5zM362.7 118.8h2.5v2.5h-2.5zM366.4 119.1h2.5v2.5h-2.5zM370.0 118.8h2.5v2.5h-2.5zM370.6 119.0h2.5v2.5h-2.5zM372.5 119.0h2.5v2.5h-2.5zM377.9 117.8h2.5v2.5h-2.5zM389.8 117.8h2.5v2.5h-2.5zM391.1 118.0h2.5v2.5h-2.5zM396.1 118.9h2.5v2.5h-2.5zM398.2 118.4h2.5v2.5h-2.5zM402.8 119.3h2.5v2.5h-2.5zM404.4 118.8h2.5v2.5h-2.5zM408.3 119.6h2.5v2.5h-2.5zM410.9 118.6h2.5v2.5h-2.5zM418.2 117.7h2.5v2.5h-2.5zM363.8 120.0h2.5v2.5h-2.5zM370.8 121.0h2.5v2.5h-2.5zM375.3 121.5h2.5v2.5h-2.5zM376.8 121.2h2.5v2.5h-2.5zM381.7 120.6h2.5v2.5h-2.5zM384.2 121.4h2.5v2.5h-2.5zM388.4 119.6h2.5v2.5h-2.5zM393.9 120.8h2.5v2.5h-2.5zM397.0 120.3h2.5v2.5h-2.5zM406.6 121.0h2.5v2.5h-2.5zM374.1 121.5h2.5v2.5h-2.5zM378.0 121.9h2.5v2.5h-2.5zM384.8 122.1h2.5v2.5h-2.5zM388.5 122.3h2.5v2.5h-2.5zM392.6 122.3h2.5v2.5h-2.5zM395.2 121.8h2.5v2.5h-2.5zM399.8 121.6h2.5v2.5h-2.5z"/>
<polygon points="382.0,82.0 395.0,79.5 408.0,79.0 417.0,81.0 421.0,90.0 420.0,102.0 414.0,106.0 402.0,104.0 390.0,100.0 381.0,96.0 378.0,89.0" fill="url(#gbp)" opacity="0.92"/>
<path fill="#7c68b4" d="M401.4 77.5h2.5v2.5h-2.5zM394.4 79.6h2.5v2.5h-2.5zM399.0 78.9h2.5v2.5h-2.5zM402.8 79.4h2.5v2.5h-2.5zM386.7 81.1h2.5v2.5h-2.5zM406.4 80.9h2.5v2.5h-2.5zM409.3 81.1h2.5v2.5h-2.5zM412.2 80.4h2.5v2.5h-2.5zM413.2 81.2h2.5v2.5h-2.5zM378.8 82.5h2.5v2.5h-2.5zM381.3 83.5h2.5v2.5h-2.5zM390.3 83.8h2.5v2.5h-2.5zM394.2 81.8h2.5v2.5h-2.5zM417.5 83.6h2.5v2.5h-2.5zM377.9 85.5h2.5v2.5h-2.5zM383.5 85.7h2.5v2.5h-2.5zM385.5 83.9h2.5v2.5h-2.5zM388.8 84.4h2.5v2.5h-2.5zM401.0 84.2h2.5v2.5h-2.5zM414.2 84.2h2.5v2.5h-2.5zM415.6 84.7h2.5v2.5h-2.5zM392.3 86.5h2.5v2.5h-2.5zM394.5 87.2h2.5v2.5h-2.5zM405.7 86.6h2.5v2.5h-2.5zM419.5 86.4h2.5v2.5h-2.5zM380.3 89.8h2.5v2.5h-2.5zM385.7 88.1h2.5v2.5h-2.5zM388.4 88.0h2.5v2.5h-2.5zM394.7 87.9h2.5v2.5h-2.5zM396.8 88.8h2.5v2.5h-2.5zM407.7 88.3h2.5v2.5h-2.5zM413.1 88.7h2.5v2.5h-2.5zM416.4 87.9h2.5v2.5h-2.5zM393.0 90.5h2.5v2.5h-2.5zM395.3 90.9h2.5v2.5h-2.5zM396.6 90.1h2.5v2.5h-2.5zM404.5 91.5h2.5v2.5h-2.5zM407.1 91.5h2.5v2.5h-2.5zM409.6 90.0h2.5v2.5h-2.5zM412.4 91.2h2.5v2.5h-2.5zM422.8 90.7h2.5v2.5h-2.5zM391.8 92.4h2.5v2.5h-2.5zM394.7 91.8h2.5v2.5h-2.5zM405.9 92.5h2.5v2.5h-2.5zM409.9 93.2h2.5v2.5h-2.5zM412.5 93.7h2.5v2.5h-2.5zM418.3 92.1h2.5v2.5h-2.5zM380.1 94.7h2.5v2.5h-2.5zM383.0 94.5h2.5v2.5h-2.5zM390.4 95.7h2.5v2.5h-2.5zM391.5 94.6h2.5v2.5h-2.5zM396.4 95.0h2.5v2.5h-2.5zM398.7 94.3h2.5v2.5h-2.5zM400.6 94.6h2.5v2.5h-2.5zM411.7 95.5h2.5v2.5h-2.5zM415.4 95.6h2.5v2.5h-2.5zM419.2 95.7h2.5v2.5h-2.5zM385.0 96.0h2.5v2.5h-2.5zM390.1 95.9h2.5v2.5h-2.5zM399.3 97.5h2.5v2.5h-2.5zM407.0 96.1h2.5v2.5h-2.5zM418.2 97.2h2.5v2.5h-2.5zM396.0 98.2h2.5v2.5h-2.5zM400.8 98.6h2.5v2.5h-2.5zM399.2 100.2h2.5v2.5h-2.5zM420.0 101.0h2.5v2.5h-2.5zM412.6 101.9h2.5v2.5h-2.5zM416.6 102.6h2.5v2.5h-2.5z"/>
<path fill="#0a14f0" d="M370.6 70.0h2.5v2.5h-2.5zM359.7 91.9h2.5v2.5h-2.5zM354.1 109.6h2.5v2.5h-2.5zM351.9 115.1h2.5v2.5h-2.5zM354.1 132.3h2.5v2.5h-2.5zM351.5 114.5h2.5v2.5h-2.5zM344.1 144.7h2.5v2.5h-2.5zM391.0 165.4h2.5v2.5h-2.5zM375.1 120.8h2.5v2.5h-2.5zM380.8 121.5h2.5v2.5h-2.5zM382.7 117.1h2.5v2.5h-2.5zM389.1 126.0h2.5v2.5h-2.5zM393.5 128.5h2.5v2.5h-2.5zM397.3 127.3h2.5v2.5h-2.5zM397.6 131.1h2.5v2.5h-2.5zM391.6 120.3h2.5v2.5h-2.5zM396.1 121.5h2.5v2.5h-2.5zM402.4 117.7h2.5v2.5h-2.5zM405.6 116.4h2.5v2.5h-2.5zM408.2 120.9h2.5v2.5h-2.5zM459.5 119.9h2.5v2.5h-2.5zM459.2 126.2h2.5v2.5h-2.5zM461.1 129.7h2.5v2.5h-2.5zM451.5 140.7h2.5v2.5h-2.5zM455.3 139.8h2.5v2.5h-2.5zM411.7 160.4h2.5v2.5h-2.5zM450.8 121.3h2.5v2.5h-2.5zM451.5 128.3h2.5v2.5h-2.5zM452.2 131.1h2.5v2.5h-2.5zM450.1 112.8h2.5v2.5h-2.5zM452.2 115.7h2.5v2.5h-2.5zM412.8 121.3h2.5v2.5h-2.5zM408.6 129.0h2.5v2.5h-2.5zM415.0 136.1h2.5v2.5h-2.5zM422.0 138.2h2.5v2.5h-2.5zM417.1 131.8h2.5v2.5h-2.5zM423.4 129.0h2.5v2.5h-2.5zM419.8 129.0h2.5v2.5h-2.5zM410.0 124.8h2.5v2.5h-2.5zM426.8 125.8h2.5v2.5h-2.5zM431.8 131.8h2.5v2.5h-2.5zM438.8 123.8h2.5v2.5h-2.5zM443.8 128.8h2.5v2.5h-2.5zM402.8 125.8h2.5v2.5h-2.5zM384.8 124.8h2.5v2.5h-2.5zM376.8 125.8h2.5v2.5h-2.5zM368.8 122.8h2.5v2.5h-2.5zM362.8 124.8h2.5v2.5h-2.5zM396.8 67.6h2.5v2.5h-2.5zM410.8 65.7h2.5v2.5h-2.5zM413.3 65.1h2.5v2.5h-2.5zM423.3 63.2h2.5v2.5h-2.5zM360.8 98.8h2.5v2.5h-2.5zM356.8 106.8h2.5v2.5h-2.5z"/>
<path fill="#fa0a0a" d="M404.6 65.1h2.5v2.5h-2.5zM406.4 64.4h2.5v2.5h-2.5zM394.7 67.2h2.5v2.5h-2.5zM404.1 67.5h2.5v2.5h-2.5zM408.6 66.2h2.5v2.5h-2.5zM399.6 69.6h2.5v2.5h-2.5zM391.0 70.3h2.5v2.5h-2.5zM392.7 71.7h2.5v2.5h-2.5zM394.1 71.0h2.5v2.5h-2.5zM402.9 70.6h2.5v2.5h-2.5zM406.5 70.9h2.5v2.5h-2.5zM396.7 73.2h2.5v2.5h-2.5zM400.9 72.7h2.5v2.5h-2.5zM404.0 72.2h2.5v2.5h-2.5zM411.6 73.4h2.5v2.5h-2.5zM395.4 74.0h2.5v2.5h-2.5zM403.0 75.8h2.5v2.5h-2.5zM410.7 75.2h2.5v2.5h-2.5zM394.0 76.9h2.5v2.5h-2.5zM398.8 77.8h2.5v2.5h-2.5zM402.3 77.0h2.5v2.5h-2.5zM406.8 76.6h2.5v2.5h-2.5zM410.0 76.6h2.5v2.5h-2.5zM392.8 79.3h2.5v2.5h-2.5zM393.8 78.8h2.5v2.5h-2.5zM404.7 78.6h2.5v2.5h-2.5zM413.3 79.6h2.5v2.5h-2.5zM405.5 80.9h2.5v2.5h-2.5z"/>
<path fill="#fa0a0a" d="M434.3 54.6h2.5v2.5h-2.5zM429.5 56.0h2.5v2.5h-2.5zM434.9 56.2h2.5v2.5h-2.5zM437.7 55.5h2.5v2.5h-2.5zM417.3 57.1h2.5v2.5h-2.5zM419.6 56.5h2.5v2.5h-2.5zM423.1 57.5h2.5v2.5h-2.5zM427.2 58.1h2.5v2.5h-2.5zM429.4 57.1h2.5v2.5h-2.5zM432.3 56.6h2.5v2.5h-2.5zM434.7 57.1h2.5v2.5h-2.5zM435.4 57.1h2.5v2.5h-2.5zM438.7 57.3h2.5v2.5h-2.5zM439.8 58.0h2.5v2.5h-2.5zM414.1 59.2h2.5v2.5h-2.5zM415.7 59.2h2.5v2.5h-2.5zM417.7 59.1h2.5v2.5h-2.5zM420.4 58.4h2.5v2.5h-2.5zM423.2 59.1h2.5v2.5h-2.5zM424.6 59.5h2.5v2.5h-2.5zM426.0 60.0h2.5v2.5h-2.5zM430.2 59.1h2.5v2.5h-2.5zM434.2 59.5h2.5v2.5h-2.5zM436.4 60.1h2.5v2.5h-2.5zM439.9 58.4h2.5v2.5h-2.5zM441.1 59.3h2.5v2.5h-2.5zM443.3 60.1h2.5v2.5h-2.5zM415.3 61.3h2.5v2.5h-2.5zM416.3 60.9h2.5v2.5h-2.5zM419.1 61.8h2.5v2.5h-2.5zM420.7 61.8h2.5v2.5h-2.5zM423.4 61.5h2.5v2.5h-2.5zM426.1 61.8h2.5v2.5h-2.5zM427.4 60.1h2.5v2.5h-2.5zM429.4 61.3h2.5v2.5h-2.5zM435.8 61.0h2.5v2.5h-2.5zM437.5 60.7h2.5v2.5h-2.5zM445.1 60.9h2.5v2.5h-2.5zM416.5 63.1h2.5v2.5h-2.5zM420.0 63.7h2.5v2.5h-2.5zM423.8 62.8h2.5v2.5h-2.5zM426.7 62.2h2.5v2.5h-2.5zM428.8 63.4h2.5v2.5h-2.5zM430.4 62.9h2.5v2.5h-2.5zM431.9 62.9h2.5v2.5h-2.5zM435.1 63.2h2.5v2.5h-2.5zM436.4 63.3h2.5v2.5h-2.5zM441.1 62.3h2.5v2.5h-2.5zM443.1 63.1h2.5v2.5h-2.5zM445.2 62.6h2.5v2.5h-2.5zM412.0 64.0h2.5v2.5h-2.5zM417.7 65.6h2.5v2.5h-2.5zM421.0 64.2h2.5v2.5h-2.5zM423.0 65.6h2.5v2.5h-2.5zM425.0 64.6h2.5v2.5h-2.5zM426.6 63.9h2.5v2.5h-2.5zM429.8 63.9h2.5v2.5h-2.5zM435.9 65.6h2.5v2.5h-2.5zM437.7 64.7h2.5v2.5h-2.5zM442.4 65.4h2.5v2.5h-2.5zM444.5 65.5h2.5v2.5h-2.5zM445.9 64.7h2.5v2.5h-2.5zM413.1 67.0h2.5v2.5h-2.5zM416.9 67.3h2.5v2.5h-2.5zM418.7 66.2h2.5v2.5h-2.5zM419.5 65.9h2.5v2.5h-2.5zM421.5 65.8h2.5v2.5h-2.5zM423.9 66.7h2.5v2.5h-2.5zM426.4 66.1h2.5v2.5h-2.5zM429.4 67.0h2.5v2.5h-2.5zM430.9 66.1h2.5v2.5h-2.5zM431.9 67.1h2.5v2.5h-2.5zM435.2 66.5h2.5v2.5h-2.5zM437.7 65.8h2.5v2.5h-2.5zM439.2 66.9h2.5v2.5h-2.5zM444.1 66.5h2.5v2.5h-2.5zM446.2 66.8h2.5v2.5h-2.5zM411.6 69.3h2.5v2.5h-2.5zM413.7 68.5h2.5v2.5h-2.5zM414.4 69.3h2.5v2.5h-2.5zM416.3 69.0h2.5v2.5h-2.5zM423.6 68.5h2.5v2.5h-2.5zM424.7 68.4h2.5v2.5h-2.5zM428.9 68.8h2.5v2.5h-2.5zM432.4 67.6h2.5v2.5h-2.5zM433.0 68.3h2.5v2.5h-2.5zM435.2 68.6h2.5v2.5h-2.5zM437.4 69.0h2.5v2.5h-2.5zM439.4 69.0h2.5v2.5h-2.5zM442.4 69.0h2.5v2.5h-2.5zM444.1 68.1h2.5v2.5h-2.5zM445.6 68.2h2.5v2.5h-2.5zM411.5 69.6h2.5v2.5h-2.5zM413.9 69.9h2.5v2.5h-2.5zM416.1 70.9h2.5v2.5h-2.5zM419.8 70.6h2.5v2.5h-2.5zM422.4 69.3h2.5v2.5h-2.5zM424.2 70.4h2.5v2.5h-2.5zM425.9 69.7h2.5v2.5h-2.5zM428.3 70.8h2.5v2.5h-2.5zM429.9 70.7h2.5v2.5h-2.5zM432.7 71.0h2.5v2.5h-2.5zM436.8 69.7h2.5v2.5h-2.5zM438.3 70.3h2.5v2.5h-2.5zM442.0 69.3h2.5v2.5h-2.5zM444.2 69.4h2.5v2.5h-2.5zM445.4 69.3h2.5v2.5h-2.5zM412.0 71.6h2.5v2.5h-2.5zM414.2 71.8h2.5v2.5h-2.5zM416.7 72.7h2.5v2.5h-2.5zM419.3 71.9h2.5v2.5h-2.5zM421.1 71.7h2.5v2.5h-2.5zM422.6 71.8h2.5v2.5h-2.5zM426.0 71.9h2.5v2.5h-2.5zM428.9 72.0h2.5v2.5h-2.5zM432.1 71.9h2.5v2.5h-2.5zM434.2 71.1h2.5v2.5h-2.5zM435.5 71.3h2.5v2.5h-2.5zM437.6 71.6h2.5v2.5h-2.5zM440.6 72.9h2.5v2.5h-2.5zM441.7 71.7h2.5v2.5h-2.5zM411.5 73.6h2.5v2.5h-2.5zM414.4 74.7h2.5v2.5h-2.5zM416.1 73.3h2.5v2.5h-2.5zM417.4 73.2h2.5v2.5h-2.5zM420.8 73.1h2.5v2.5h-2.5zM422.7 73.8h2.5v2.5h-2.5zM425.1 73.5h2.5v2.5h-2.5zM429.2 73.9h2.5v2.5h-2.5zM430.9 73.8h2.5v2.5h-2.5zM433.2 73.9h2.5v2.5h-2.5zM439.5 73.0h2.5v2.5h-2.5zM443.9 73.7h2.5v2.5h-2.5zM445.3 74.3h2.5v2.5h-2.5zM413.0 75.4h2.5v2.5h-2.5zM414.1 76.1h2.5v2.5h-2.5zM416.6 75.8h2.5v2.5h-2.5zM418.3 75.2h2.5v2.5h-2.5zM422.1 75.8h2.5v2.5h-2.5zM422.6 74.8h2.5v2.5h-2.5zM427.5 75.0h2.5v2.5h-2.5zM429.7 76.3h2.5v2.5h-2.5zM432.3 76.4h2.5v2.5h-2.5zM434.6 76.4h2.5v2.5h-2.5zM436.4 76.2h2.5v2.5h-2.5zM438.6 76.1h2.5v2.5h-2.5zM439.6 76.3h2.5v2.5h-2.5zM442.1 76.0h2.5v2.5h-2.5zM445.1 75.3h2.5v2.5h-2.5zM412.0 76.6h2.5v2.5h-2.5zM414.1 76.7h2.5v2.5h-2.5zM416.3 77.9h2.5v2.5h-2.5zM417.4 77.8h2.5v2.5h-2.5zM420.3 77.1h2.5v2.5h-2.5zM421.7 77.1h2.5v2.5h-2.5zM424.0 77.0h2.5v2.5h-2.5zM426.2 76.8h2.5v2.5h-2.5zM430.2 77.5h2.5v2.5h-2.5zM433.1 77.2h2.5v2.5h-2.5zM437.3 77.4h2.5v2.5h-2.5zM438.3 77.7h2.5v2.5h-2.5zM441.2 76.9h2.5v2.5h-2.5zM443.4 78.1h2.5v2.5h-2.5zM412.3 78.9h2.5v2.5h-2.5zM414.1 79.4h2.5v2.5h-2.5zM418.0 79.6h2.5v2.5h-2.5zM420.1 80.2h2.5v2.5h-2.5zM423.0 78.4h2.5v2.5h-2.5zM428.4 80.2h2.5v2.5h-2.5zM429.4 79.6h2.5v2.5h-2.5zM430.8 79.0h2.5v2.5h-2.5zM434.6 79.8h2.5v2.5h-2.5zM435.8 79.6h2.5v2.5h-2.5zM438.8 79.4h2.5v2.5h-2.5zM440.7 80.2h2.5v2.5h-2.5zM442.7 78.7h2.5v2.5h-2.5zM444.0 79.3h2.5v2.5h-2.5zM414.2 80.9h2.5v2.5h-2.5zM418.8 80.8h2.5v2.5h-2.5zM420.8 82.0h2.5v2.5h-2.5zM423.1 81.2h2.5v2.5h-2.5zM426.8 81.9h2.5v2.5h-2.5zM429.3 81.2h2.5v2.5h-2.5zM430.4 81.6h2.5v2.5h-2.5zM433.6 81.8h2.5v2.5h-2.5zM434.4 81.0h2.5v2.5h-2.5zM437.2 80.4h2.5v2.5h-2.5zM438.5 81.4h2.5v2.5h-2.5zM440.6 82.0h2.5v2.5h-2.5zM443.2 80.4h2.5v2.5h-2.5zM444.8 80.9h2.5v2.5h-2.5zM414.8 83.9h2.5v2.5h-2.5zM416.8 83.4h2.5v2.5h-2.5zM419.5 82.4h2.5v2.5h-2.5zM421.0 83.6h2.5v2.5h-2.5zM425.3 83.4h2.5v2.5h-2.5zM427.6 82.7h2.5v2.5h-2.5zM430.0 83.6h2.5v2.5h-2.5zM433.3 83.5h2.5v2.5h-2.5zM435.5 83.4h2.5v2.5h-2.5zM438.5 83.9h2.5v2.5h-2.5zM440.3 82.2h2.5v2.5h-2.5zM442.4 83.0h2.5v2.5h-2.5zM418.0 84.2h2.5v2.5h-2.5zM419.5 84.8h2.5v2.5h-2.5zM425.0 85.6h2.5v2.5h-2.5zM426.5 85.0h2.5v2.5h-2.5zM429.4 84.1h2.5v2.5h-2.5zM430.4 85.7h2.5v2.5h-2.5zM432.2 84.7h2.5v2.5h-2.5zM434.3 85.3h2.5v2.5h-2.5zM438.9 84.2h2.5v2.5h-2.5zM440.4 84.9h2.5v2.5h-2.5zM443.1 85.2h2.5v2.5h-2.5zM415.8 85.7h2.5v2.5h-2.5zM416.7 87.5h2.5v2.5h-2.5zM418.7 87.1h2.5v2.5h-2.5zM423.8 87.5h2.5v2.5h-2.5zM425.7 86.2h2.5v2.5h-2.5zM427.9 85.8h2.5v2.5h-2.5zM429.1 87.0h2.5v2.5h-2.5zM432.2 87.3h2.5v2.5h-2.5zM434.7 86.2h2.5v2.5h-2.5zM435.3 87.0h2.5v2.5h-2.5zM438.7 86.6h2.5v2.5h-2.5zM442.9 85.7h2.5v2.5h-2.5zM414.5 89.3h2.5v2.5h-2.5zM416.3 89.1h2.5v2.5h-2.5zM418.0 88.9h2.5v2.5h-2.5zM420.4 89.0h2.5v2.5h-2.5zM421.8 88.5h2.5v2.5h-2.5zM424.1 87.9h2.5v2.5h-2.5zM427.0 89.3h2.5v2.5h-2.5zM427.8 88.7h2.5v2.5h-2.5zM430.4 88.6h2.5v2.5h-2.5zM434.9 88.2h2.5v2.5h-2.5zM436.5 87.8h2.5v2.5h-2.5zM439.4 87.8h2.5v2.5h-2.5zM441.4 89.1h2.5v2.5h-2.5zM418.0 90.5h2.5v2.5h-2.5zM419.0 89.8h2.5v2.5h-2.5zM423.8 89.5h2.5v2.5h-2.5zM426.1 90.5h2.5v2.5h-2.5zM431.3 89.4h2.5v2.5h-2.5zM433.1 89.7h2.5v2.5h-2.5zM436.7 89.4h2.5v2.5h-2.5zM442.5 89.6h2.5v2.5h-2.5zM419.0 92.1h2.5v2.5h-2.5zM420.6 92.0h2.5v2.5h-2.5zM422.2 91.6h2.5v2.5h-2.5zM424.8 92.0h2.5v2.5h-2.5zM426.4 91.7h2.5v2.5h-2.5zM428.0 91.5h2.5v2.5h-2.5zM433.5 91.6h2.5v2.5h-2.5zM435.4 92.0h2.5v2.5h-2.5zM438.9 91.4h2.5v2.5h-2.5zM415.8 93.2h2.5v2.5h-2.5zM420.0 93.1h2.5v2.5h-2.5zM422.1 93.9h2.5v2.5h-2.5zM423.1 94.5h2.5v2.5h-2.5zM425.9 94.9h2.5v2.5h-2.5zM428.4 93.4h2.5v2.5h-2.5zM430.0 93.0h2.5v2.5h-2.5zM432.2 94.7h2.5v2.5h-2.5zM434.7 94.0h2.5v2.5h-2.5zM435.7 93.9h2.5v2.5h-2.5zM438.6 94.2h2.5v2.5h-2.5zM417.6 95.2h2.5v2.5h-2.5zM420.6 96.2h2.5v2.5h-2.5zM421.6 94.9h2.5v2.5h-2.5zM424.7 96.1h2.5v2.5h-2.5zM427.3 95.5h2.5v2.5h-2.5zM427.9 95.5h2.5v2.5h-2.5zM431.1 95.9h2.5v2.5h-2.5zM433.6 95.3h2.5v2.5h-2.5zM434.4 96.0h2.5v2.5h-2.5zM438.9 95.9h2.5v2.5h-2.5zM417.4 96.8h2.5v2.5h-2.5zM418.7 96.7h2.5v2.5h-2.5zM420.6 97.5h2.5v2.5h-2.5zM423.7 97.0h2.5v2.5h-2.5zM427.4 97.2h2.5v2.5h-2.5zM429.3 98.2h2.5v2.5h-2.5zM432.6 96.7h2.5v2.5h-2.5zM433.1 98.5h2.5v2.5h-2.5zM438.4 98.4h2.5v2.5h-2.5zM424.2 98.5h2.5v2.5h-2.5zM426.4 98.6h2.5v2.5h-2.5zM428.6 99.8h2.5v2.5h-2.5zM432.0 100.2h2.5v2.5h-2.5zM435.5 99.8h2.5v2.5h-2.5zM437.0 100.2h2.5v2.5h-2.5zM424.0 101.3h2.5v2.5h-2.5zM426.0 102.1h2.5v2.5h-2.5zM427.5 100.9h2.5v2.5h-2.5zM433.2 100.3h2.5v2.5h-2.5zM436.3 101.3h2.5v2.5h-2.5zM424.7 102.3h2.5v2.5h-2.5zM427.4 103.2h2.5v2.5h-2.5zM428.3 103.7h2.5v2.5h-2.5zM431.2 103.0h2.5v2.5h-2.5zM432.4 102.2h2.5v2.5h-2.5zM434.0 103.3h2.5v2.5h-2.5zM428.1 105.1h2.5v2.5h-2.5zM429.0 104.1h2.5v2.5h-2.5zM432.0 104.6h2.5v2.5h-2.5zM434.7 105.6h2.5v2.5h-2.5zM428.1 106.0h2.5v2.5h-2.5z"/>
<path fill="#fa0a0a" d="M374.8 76.0h2.5v2.5h-2.5zM378.6 75.4h2.5v2.5h-2.5zM381.4 75.6h2.5v2.5h-2.5zM385.4 76.1h2.5v2.5h-2.5zM370.6 77.4h2.5v2.5h-2.5zM372.8 77.2h2.5v2.5h-2.5zM376.2 76.7h2.5v2.5h-2.5zM382.1 76.5h2.5v2.5h-2.5zM387.1 77.9h2.5v2.5h-2.5zM372.1 80.1h2.5v2.5h-2.5zM377.1 79.0h2.5v2.5h-2.5zM379.1 78.6h2.5v2.5h-2.5zM386.0 79.9h2.5v2.5h-2.5zM371.1 80.7h2.5v2.5h-2.5zM373.9 81.7h2.5v2.5h-2.5zM380.3 80.5h2.5v2.5h-2.5zM382.1 82.2h2.5v2.5h-2.5zM390.2 81.1h2.5v2.5h-2.5zM373.3 83.1h2.5v2.5h-2.5zM374.4 83.7h2.5v2.5h-2.5zM381.9 83.8h2.5v2.5h-2.5zM388.7 83.2h2.5v2.5h-2.5z"/>
<path fill="#fa0a0a" d="M437.4 41.8h2.5v2.5h-2.5zM431.1 43.4h2.5v2.5h-2.5zM446.0 44.3h2.5v2.5h-2.5zM418.3 48.4h2.5v2.5h-2.5zM420.2 47.5h2.5v2.5h-2.5zM428.0 47.1h2.5v2.5h-2.5zM431.1 48.5h2.5v2.5h-2.5zM419.1 48.6h2.5v2.5h-2.5zM441.3 54.9h2.5v2.5h-2.5zM438.7 56.0h2.5v2.5h-2.5zM439.5 55.5h2.5v2.5h-2.5zM418.4 57.9h2.5v2.5h-2.5z"/>
<path fill="#fa0a0a" d="M449.7 69.6h2.5v2.5h-2.5zM460.5 71.0h2.5v2.5h-2.5zM460.6 76.7h2.5v2.5h-2.5zM452.2 80.2h2.5v2.5h-2.5zM461.1 82.0h2.5v2.5h-2.5zM470.6 81.7h2.5v2.5h-2.5zM474.1 86.0h2.5v2.5h-2.5zM481.4 84.8h2.5v2.5h-2.5zM454.8 87.5h2.5v2.5h-2.5zM472.0 90.9h2.5v2.5h-2.5zM473.4 102.7h2.5v2.5h-2.5zM466.4 103.7h2.5v2.5h-2.5zM483.7 103.8h2.5v2.5h-2.5zM464.1 107.5h2.5v2.5h-2.5z"/>
<path fill="#fa0a0a" d="M402.4 92.6h2.5v2.5h-2.5zM397.5 94.1h2.5v2.5h-2.5zM400.6 94.9h2.5v2.5h-2.5zM409.3 95.7h2.5v2.5h-2.5zM399.2 95.8h2.5v2.5h-2.5zM401.6 97.4h2.5v2.5h-2.5zM405.4 96.6h2.5v2.5h-2.5zM406.8 96.2h2.5v2.5h-2.5zM411.0 97.5h2.5v2.5h-2.5zM401.8 99.3h2.5v2.5h-2.5zM408.8 99.5h2.5v2.5h-2.5zM412.6 98.9h2.5v2.5h-2.5zM406.4 101.6h2.5v2.5h-2.5zM417.1 101.2h2.5v2.5h-2.5zM419.2 101.2h2.5v2.5h-2.5zM413.4 101.8h2.5v2.5h-2.5zM415.8 102.9h2.5v2.5h-2.5zM417.4 103.6h2.5v2.5h-2.5zM418.8 102.3h2.5v2.5h-2.5zM420.9 105.0h2.5v2.5h-2.5zM423.7 104.9h2.5v2.5h-2.5zM424.8 105.2h2.5v2.5h-2.5zM418.0 105.9h2.5v2.5h-2.5zM423.5 107.5h2.5v2.5h-2.5zM426.5 106.2h2.5v2.5h-2.5zM430.6 106.0h2.5v2.5h-2.5zM428.6 109.6h2.5v2.5h-2.5zM431.6 108.2h2.5v2.5h-2.5zM435.3 109.6h2.5v2.5h-2.5zM434.1 110.6h2.5v2.5h-2.5z"/>
<path fill="#fa0a0a" d="M375.2 42.2h2.5v2.5h-2.5zM402.1 40.5h2.5v2.5h-2.5zM400.0 44.5h2.5v2.5h-2.5zM417.8 53.0h2.5v2.5h-2.5zM391.1 59.6h2.5v2.5h-2.5zM400.0 59.1h2.5v2.5h-2.5zM406.7 59.3h2.5v2.5h-2.5zM407.0 61.3h2.5v2.5h-2.5zM414.0 58.1h2.5v2.5h-2.5zM416.5 57.4h2.5v2.5h-2.5zM421.0 59.3h2.5v2.5h-2.5zM422.3 61.3h2.5v2.5h-2.5zM435.0 48.5h2.5v2.5h-2.5zM436.3 45.3h2.5v2.5h-2.5zM437.5 40.9h2.5v2.5h-2.5zM380.3 72.1h2.5v2.5h-2.5zM438.1 41.0h2.5v2.5h-2.5zM436.0 45.0h2.5v2.5h-2.5zM434.4 48.2h2.5v2.5h-2.5zM435.5 49.8h2.5v2.5h-2.5zM440.8 50.7h2.5v2.5h-2.5zM443.2 51.5h2.5v2.5h-2.5zM465.4 50.3h2.5v2.5h-2.5zM453.7 56.3h2.5v2.5h-2.5zM463.3 65.1h2.5v2.5h-2.5zM465.7 67.5h2.5v2.5h-2.5zM458.5 69.9h2.5v2.5h-2.5zM459.3 76.3h2.5v2.5h-2.5zM460.1 78.8h2.5v2.5h-2.5zM466.5 85.2h2.5v2.5h-2.5zM457.7 85.2h2.5v2.5h-2.5zM460.9 88.4h2.5v2.5h-2.5zM462.5 90.8h2.5v2.5h-2.5zM472.9 89.2h2.5v2.5h-2.5zM481.0 70.7h2.5v2.5h-2.5zM476.5 77.9h2.5v2.5h-2.5zM481.0 91.3h2.5v2.5h-2.5zM483.4 106.8h2.5v2.5h-2.5zM467.3 95.6h2.5v2.5h-2.5zM470.8 99.6h2.5v2.5h-2.5zM468.1 102.0h2.5v2.5h-2.5zM472.1 103.1h2.5v2.5h-2.5zM459.3 98.8h2.5v2.5h-2.5zM456.9 102.8h2.5v2.5h-2.5zM460.9 110.8h2.5v2.5h-2.5zM452.9 97.2h2.5v2.5h-2.5zM455.3 91.6h2.5v2.5h-2.5zM451.3 85.2h2.5v2.5h-2.5zM452.9 82.0h2.5v2.5h-2.5zM449.7 79.5h2.5v2.5h-2.5zM390.6 59.3h2.5v2.5h-2.5zM417.8 53.2h2.5v2.5h-2.5zM464.8 50.6h2.5v2.5h-2.5zM480.1 70.7h2.5v2.5h-2.5zM476.8 78.5h2.5v2.5h-2.5zM481.2 92.1h2.5v2.5h-2.5zM482.7 106.3h2.5v2.5h-2.5zM471.4 100.8h2.5v2.5h-2.5zM465.9 86.0h2.5v2.5h-2.5zM459.4 109.1h2.5v2.5h-2.5zM434.8 104.8h2.5v2.5h-2.5zM436.8 107.8h2.5v2.5h-2.5zM438.8 109.8h2.5v2.5h-2.5zM433.8 101.8h2.5v2.5h-2.5zM439.8 102.8h2.5v2.5h-2.5zM402.8 71.8h2.5v2.5h-2.5zM398.8 72.8h2.5v2.5h-2.5zM378.8 94.8h2.5v2.5h-2.5zM393.8 97.8h2.5v2.5h-2.5zM418.8 108.8h2.5v2.5h-2.5zM424.8 111.8h2.5v2.5h-2.5zM408.8 102.8h2.5v2.5h-2.5z"/>
<path fill="#14f014" d="M431.1 119.2h2.5v2.5h-2.5zM433.2 123.8h2.5v2.5h-2.5zM391.0 81.7h2.5v2.5h-2.5zM401.2 78.5h2.5v2.5h-2.5zM423.8 83.8h2.5v2.5h-2.5zM428.8 90.8h2.5v2.5h-2.5zM418.8 93.8h2.5v2.5h-2.5zM444.8 100.8h2.5v2.5h-2.5z"/>
<g opacity="0.35">
<line x1="379.80" y1="131.30" x2="379.80" y2="11.30" stroke="#8a8a8a" stroke-width="0.7" />
<line x1="321.80" y1="167.30" x2="379.80" y2="131.30" stroke="#8a8a8a" stroke-width="0.7" />
<line x1="379.80" y1="131.30" x2="535.50" y2="144.50" stroke="#8a8a8a" stroke-width="0.7" />
</g>
<defs><linearGradient id="gc" gradientUnits="userSpaceOnUse" x1="300.00" y1="347.00" x2="304.53" y2="379.37"><stop offset="0.0000" stop-color="#ecd644"/><stop offset="0.1515" stop-color="#c8d24e"/><stop offset="0.2727" stop-color="#7ccc7c"/><stop offset="0.3788" stop-color="#3cc4a8"/><stop offset="0.4848" stop-color="#1fb4d2"/><stop offset="0.5909" stop-color="#2a9cea"/><stop offset="0.6970" stop-color="#4784f0"/><stop offset="0.8182" stop-color="#5e72ec"/><stop offset="1.0000" stop-color="#6e68e4"/></linearGradient></defs>
<polygon points="166.4,387.4 185.4,379.8 200.0,373.7 221.0,368.2 238.2,364.2 264.3,358.2 288.2,351.5 320.0,342.2 352.7,336.8 382.2,333.6 396.9,333.6 401.8,336.0 402.8,339.3 401.8,342.5 385.5,349.1 360.9,356.5 336.4,360.6 320.0,364.0 288.2,371.5 270.0,373.7 238.2,376.9 200.0,382.6 185.4,385.0" fill="url(#gc)" />
<polygon points="401.8,342.5 385.5,349.1 360.9,356.5 336.4,360.6 320.0,364.0 288.2,371.5 270.0,373.7 238.2,376.9 238.2,373.7 270.0,370.5 288.2,368.3 320.0,360.8 336.4,357.4 360.9,353.3 385.5,345.9 401.8,339.3" fill="#6670e8" opacity="0.75"/>
<path fill="#6c60a8" d="M377.2 337.3h2.5v2.5h-2.5zM378.1 337.7h2.5v2.5h-2.5zM381.1 337.5h2.5v2.5h-2.5zM394.3 337.1h2.5v2.5h-2.5zM369.0 339.5h2.5v2.5h-2.5zM371.3 337.9h2.5v2.5h-2.5zM373.3 339.0h2.5v2.5h-2.5zM375.4 338.9h2.5v2.5h-2.5zM378.6 338.6h2.5v2.5h-2.5zM380.6 339.2h2.5v2.5h-2.5zM348.4 341.3h2.5v2.5h-2.5zM354.3 341.0h2.5v2.5h-2.5zM356.2 339.7h2.5v2.5h-2.5zM359.8 341.4h2.5v2.5h-2.5zM370.9 340.8h2.5v2.5h-2.5zM371.5 340.0h2.5v2.5h-2.5zM375.0 340.0h2.5v2.5h-2.5zM379.3 341.1h2.5v2.5h-2.5zM382.7 340.9h2.5v2.5h-2.5zM392.5 340.0h2.5v2.5h-2.5zM336.6 343.1h2.5v2.5h-2.5zM337.4 343.4h2.5v2.5h-2.5zM341.0 341.8h2.5v2.5h-2.5zM345.0 342.0h2.5v2.5h-2.5zM346.5 342.9h2.5v2.5h-2.5zM348.5 343.2h2.5v2.5h-2.5zM353.6 343.5h2.5v2.5h-2.5zM357.9 342.8h2.5v2.5h-2.5zM368.3 342.6h2.5v2.5h-2.5zM380.6 341.7h2.5v2.5h-2.5zM383.0 343.1h2.5v2.5h-2.5zM387.4 342.5h2.5v2.5h-2.5zM388.7 342.2h2.5v2.5h-2.5zM390.7 341.7h2.5v2.5h-2.5zM329.4 344.3h2.5v2.5h-2.5zM338.3 344.3h2.5v2.5h-2.5zM342.3 345.0h2.5v2.5h-2.5zM344.1 344.4h2.5v2.5h-2.5zM349.5 344.6h2.5v2.5h-2.5zM353.2 344.8h2.5v2.5h-2.5zM356.2 344.8h2.5v2.5h-2.5zM358.1 345.3h2.5v2.5h-2.5zM361.8 345.2h2.5v2.5h-2.5zM363.6 345.4h2.5v2.5h-2.5zM365.5 344.9h2.5v2.5h-2.5zM368.0 344.5h2.5v2.5h-2.5zM369.5 343.8h2.5v2.5h-2.5zM372.2 343.8h2.5v2.5h-2.5zM377.4 344.6h2.5v2.5h-2.5zM322.6 345.8h2.5v2.5h-2.5zM331.9 345.7h2.5v2.5h-2.5zM334.1 346.6h2.5v2.5h-2.5zM336.4 346.7h2.5v2.5h-2.5zM339.3 346.8h2.5v2.5h-2.5zM341.9 346.8h2.5v2.5h-2.5zM347.1 346.5h2.5v2.5h-2.5zM350.0 346.5h2.5v2.5h-2.5zM351.1 345.4h2.5v2.5h-2.5zM362.9 346.7h2.5v2.5h-2.5zM363.9 346.4h2.5v2.5h-2.5zM371.6 345.8h2.5v2.5h-2.5zM312.3 348.1h2.5v2.5h-2.5zM319.2 347.5h2.5v2.5h-2.5zM321.9 348.2h2.5v2.5h-2.5zM328.7 347.6h2.5v2.5h-2.5zM332.1 347.9h2.5v2.5h-2.5zM336.4 347.6h2.5v2.5h-2.5zM346.1 348.6h2.5v2.5h-2.5zM348.6 347.4h2.5v2.5h-2.5zM353.7 349.1h2.5v2.5h-2.5zM356.1 347.6h2.5v2.5h-2.5zM360.2 347.8h2.5v2.5h-2.5zM301.2 350.8h2.5v2.5h-2.5zM304.1 350.5h2.5v2.5h-2.5zM307.3 350.1h2.5v2.5h-2.5zM308.9 351.1h2.5v2.5h-2.5zM313.2 349.7h2.5v2.5h-2.5zM322.8 350.4h2.5v2.5h-2.5zM325.7 349.4h2.5v2.5h-2.5zM329.0 350.7h2.5v2.5h-2.5zM332.0 350.3h2.5v2.5h-2.5zM334.2 349.2h2.5v2.5h-2.5zM335.2 349.9h2.5v2.5h-2.5zM294.5 353.0h2.5v2.5h-2.5zM297.3 351.5h2.5v2.5h-2.5zM299.7 351.8h2.5v2.5h-2.5zM302.2 352.4h2.5v2.5h-2.5zM303.0 351.5h2.5v2.5h-2.5zM312.0 351.9h2.5v2.5h-2.5zM315.9 353.0h2.5v2.5h-2.5zM317.3 352.2h2.5v2.5h-2.5zM321.2 352.7h2.5v2.5h-2.5zM323.4 351.3h2.5v2.5h-2.5zM287.8 355.0h2.5v2.5h-2.5zM291.7 354.3h2.5v2.5h-2.5zM294.0 353.5h2.5v2.5h-2.5zM305.4 353.0h2.5v2.5h-2.5zM306.8 353.3h2.5v2.5h-2.5zM311.3 353.5h2.5v2.5h-2.5zM313.0 353.7h2.5v2.5h-2.5zM319.6 354.4h2.5v2.5h-2.5zM324.0 353.8h2.5v2.5h-2.5zM281.3 356.7h2.5v2.5h-2.5zM284.7 356.1h2.5v2.5h-2.5zM291.2 356.3h2.5v2.5h-2.5zM292.6 355.5h2.5v2.5h-2.5zM307.8 355.5h2.5v2.5h-2.5zM310.8 356.2h2.5v2.5h-2.5zM276.9 357.6h2.5v2.5h-2.5zM280.6 357.8h2.5v2.5h-2.5zM283.9 358.6h2.5v2.5h-2.5zM284.5 358.5h2.5v2.5h-2.5zM287.0 357.7h2.5v2.5h-2.5zM293.6 358.5h2.5v2.5h-2.5zM303.6 357.0h2.5v2.5h-2.5zM276.9 360.6h2.5v2.5h-2.5zM293.1 359.2h2.5v2.5h-2.5z"/>
<path fill="#1f50dc" d="M392.1 341.4h2.5v2.5h-2.5zM394.2 340.1h2.5v2.5h-2.5zM382.4 343.1h2.5v2.5h-2.5zM384.1 342.6h2.5v2.5h-2.5zM388.5 342.0h2.5v2.5h-2.5zM391.5 342.0h2.5v2.5h-2.5zM393.1 342.4h2.5v2.5h-2.5zM372.8 345.1h2.5v2.5h-2.5zM374.3 344.9h2.5v2.5h-2.5zM378.9 344.5h2.5v2.5h-2.5zM380.1 344.0h2.5v2.5h-2.5zM382.7 343.6h2.5v2.5h-2.5zM358.0 347.1h2.5v2.5h-2.5zM362.8 346.8h2.5v2.5h-2.5zM363.5 346.3h2.5v2.5h-2.5zM367.9 347.0h2.5v2.5h-2.5zM370.4 345.5h2.5v2.5h-2.5zM373.7 346.7h2.5v2.5h-2.5zM374.8 346.2h2.5v2.5h-2.5zM377.7 346.6h2.5v2.5h-2.5zM383.7 345.8h2.5v2.5h-2.5zM349.1 349.2h2.5v2.5h-2.5zM352.7 349.1h2.5v2.5h-2.5zM360.3 349.1h2.5v2.5h-2.5zM363.5 347.7h2.5v2.5h-2.5zM368.9 347.6h2.5v2.5h-2.5zM372.1 348.9h2.5v2.5h-2.5zM374.4 348.9h2.5v2.5h-2.5zM378.1 348.3h2.5v2.5h-2.5zM348.7 349.8h2.5v2.5h-2.5zM350.7 349.7h2.5v2.5h-2.5zM353.2 351.0h2.5v2.5h-2.5zM355.7 350.6h2.5v2.5h-2.5zM358.1 350.0h2.5v2.5h-2.5zM366.1 349.6h2.5v2.5h-2.5zM370.2 349.8h2.5v2.5h-2.5zM372.0 350.0h2.5v2.5h-2.5zM329.7 352.8h2.5v2.5h-2.5zM333.9 353.1h2.5v2.5h-2.5zM335.8 351.7h2.5v2.5h-2.5zM341.1 351.7h2.5v2.5h-2.5zM343.6 351.5h2.5v2.5h-2.5zM352.5 352.3h2.5v2.5h-2.5zM354.7 352.8h2.5v2.5h-2.5zM356.6 352.3h2.5v2.5h-2.5zM357.7 351.6h2.5v2.5h-2.5zM322.4 355.0h2.5v2.5h-2.5zM327.5 353.4h2.5v2.5h-2.5zM331.3 354.1h2.5v2.5h-2.5zM333.0 354.0h2.5v2.5h-2.5zM335.2 353.6h2.5v2.5h-2.5zM340.5 353.9h2.5v2.5h-2.5zM345.3 354.7h2.5v2.5h-2.5zM346.7 353.3h2.5v2.5h-2.5zM347.8 353.8h2.5v2.5h-2.5zM352.3 354.6h2.5v2.5h-2.5zM356.1 353.5h2.5v2.5h-2.5zM315.0 356.3h2.5v2.5h-2.5zM317.8 355.3h2.5v2.5h-2.5zM318.4 355.0h2.5v2.5h-2.5zM321.4 355.7h2.5v2.5h-2.5zM328.2 356.7h2.5v2.5h-2.5zM329.6 355.4h2.5v2.5h-2.5zM331.8 356.1h2.5v2.5h-2.5zM334.7 356.3h2.5v2.5h-2.5zM337.3 355.8h2.5v2.5h-2.5zM339.1 356.3h2.5v2.5h-2.5zM342.0 355.0h2.5v2.5h-2.5zM343.3 355.7h2.5v2.5h-2.5zM348.1 356.3h2.5v2.5h-2.5zM307.6 357.9h2.5v2.5h-2.5zM308.6 357.5h2.5v2.5h-2.5zM310.6 357.7h2.5v2.5h-2.5zM315.5 358.7h2.5v2.5h-2.5zM317.4 357.0h2.5v2.5h-2.5zM323.1 357.9h2.5v2.5h-2.5zM324.8 358.2h2.5v2.5h-2.5zM326.0 358.2h2.5v2.5h-2.5zM331.6 357.1h2.5v2.5h-2.5zM335.7 357.9h2.5v2.5h-2.5zM339.4 357.9h2.5v2.5h-2.5zM342.9 357.2h2.5v2.5h-2.5zM299.9 360.2h2.5v2.5h-2.5zM301.5 360.6h2.5v2.5h-2.5zM304.4 360.2h2.5v2.5h-2.5zM305.8 360.4h2.5v2.5h-2.5zM309.0 360.0h2.5v2.5h-2.5zM313.3 360.1h2.5v2.5h-2.5zM313.9 360.2h2.5v2.5h-2.5zM320.0 360.4h2.5v2.5h-2.5zM321.4 359.9h2.5v2.5h-2.5zM323.6 359.4h2.5v2.5h-2.5zM327.2 360.5h2.5v2.5h-2.5zM288.7 362.4h2.5v2.5h-2.5zM291.4 362.0h2.5v2.5h-2.5zM293.2 360.9h2.5v2.5h-2.5zM298.1 362.5h2.5v2.5h-2.5zM300.4 361.1h2.5v2.5h-2.5zM302.4 362.5h2.5v2.5h-2.5zM304.8 361.6h2.5v2.5h-2.5zM307.0 362.3h2.5v2.5h-2.5zM308.9 362.6h2.5v2.5h-2.5zM310.7 361.0h2.5v2.5h-2.5zM314.2 361.7h2.5v2.5h-2.5zM314.9 361.3h2.5v2.5h-2.5zM319.4 361.2h2.5v2.5h-2.5zM322.5 360.9h2.5v2.5h-2.5zM282.4 363.2h2.5v2.5h-2.5zM285.8 364.1h2.5v2.5h-2.5zM287.8 363.3h2.5v2.5h-2.5zM291.4 364.0h2.5v2.5h-2.5zM292.2 364.3h2.5v2.5h-2.5zM294.1 364.6h2.5v2.5h-2.5zM297.0 363.9h2.5v2.5h-2.5zM304.4 363.4h2.5v2.5h-2.5zM305.8 363.3h2.5v2.5h-2.5zM308.9 363.5h2.5v2.5h-2.5zM312.7 363.6h2.5v2.5h-2.5zM314.1 363.5h2.5v2.5h-2.5zM271.9 365.6h2.5v2.5h-2.5zM273.8 365.1h2.5v2.5h-2.5zM275.7 365.0h2.5v2.5h-2.5zM278.0 366.4h2.5v2.5h-2.5zM280.0 365.2h2.5v2.5h-2.5zM283.6 366.5h2.5v2.5h-2.5zM285.7 364.6h2.5v2.5h-2.5zM292.4 365.2h2.5v2.5h-2.5zM293.0 365.9h2.5v2.5h-2.5zM299.9 364.8h2.5v2.5h-2.5zM301.9 364.8h2.5v2.5h-2.5zM305.0 365.6h2.5v2.5h-2.5zM309.9 364.8h2.5v2.5h-2.5zM267.7 368.3h2.5v2.5h-2.5zM271.1 367.7h2.5v2.5h-2.5zM272.2 367.3h2.5v2.5h-2.5zM275.5 368.1h2.5v2.5h-2.5zM277.8 366.7h2.5v2.5h-2.5zM278.5 367.1h2.5v2.5h-2.5zM282.0 368.0h2.5v2.5h-2.5zM286.0 367.5h2.5v2.5h-2.5zM289.2 367.4h2.5v2.5h-2.5zM291.0 367.1h2.5v2.5h-2.5zM296.9 366.6h2.5v2.5h-2.5zM299.3 367.0h2.5v2.5h-2.5zM262.2 369.7h2.5v2.5h-2.5zM264.6 369.7h2.5v2.5h-2.5zM266.9 369.7h2.5v2.5h-2.5zM269.0 369.4h2.5v2.5h-2.5zM271.0 369.6h2.5v2.5h-2.5zM275.7 369.3h2.5v2.5h-2.5zM280.0 369.7h2.5v2.5h-2.5zM282.6 369.2h2.5v2.5h-2.5zM287.7 368.5h2.5v2.5h-2.5zM262.2 371.3h2.5v2.5h-2.5zM264.1 372.0h2.5v2.5h-2.5zM266.7 371.7h2.5v2.5h-2.5zM267.6 370.6h2.5v2.5h-2.5zM271.1 370.8h2.5v2.5h-2.5zM277.1 370.3h2.5v2.5h-2.5z"/>
<path fill="#0a14f0" d="M165.7 386.1h2.5v2.5h-2.5zM172.4 383.7h2.5v2.5h-2.5zM179.2 382.4h2.5v2.5h-2.5zM181.5 379.3h2.5v2.5h-2.5zM191.5 377.9h2.5v2.5h-2.5zM193.3 375.2h2.5v2.5h-2.5zM196.1 373.3h2.5v2.5h-2.5zM206.1 372.4h2.5v2.5h-2.5zM209.3 370.3h2.5v2.5h-2.5zM217.0 367.9h2.5v2.5h-2.5zM220.3 366.6h2.5v2.5h-2.5zM202.4 380.6h2.5v2.5h-2.5zM237.9 374.3h2.5v2.5h-2.5zM241.5 373.9h2.5v2.5h-2.5zM247.5 372.1h2.5v2.5h-2.5zM252.4 363.3h2.5v2.5h-2.5zM257.0 372.4h2.5v2.5h-2.5zM202.4 380.5h2.5v2.5h-2.5zM205.8 372.5h2.5v2.5h-2.5zM209.2 369.7h2.5v2.5h-2.5zM216.6 367.8h2.5v2.5h-2.5zM220.2 366.5h2.5v2.5h-2.5zM238.3 374.2h2.5v2.5h-2.5zM242.1 373.8h2.5v2.5h-2.5zM247.2 372.1h2.5v2.5h-2.5zM256.7 372.1h2.5v2.5h-2.5zM261.2 370.0h2.5v2.5h-2.5zM264.3 357.9h2.5v2.5h-2.5zM252.3 364.3h2.5v2.5h-2.5zM256.1 365.5h2.5v2.5h-2.5zM259.9 363.6h2.5v2.5h-2.5zM261.2 361.1h2.5v2.5h-2.5zM262.4 365.5h2.5v2.5h-2.5zM380.8 332.1h2.5v2.5h-2.5zM384.8 331.8h2.5v2.5h-2.5zM388.8 332.3h2.5v2.5h-2.5zM392.8 331.8h2.5v2.5h-2.5zM396.8 332.8h2.5v2.5h-2.5zM399.8 334.8h2.5v2.5h-2.5zM401.3 337.8h2.5v2.5h-2.5zM399.8 340.8h2.5v2.5h-2.5zM395.8 341.8h2.5v2.5h-2.5zM328.8 339.8h2.5v2.5h-2.5zM320.8 341.3h2.5v2.5h-2.5zM310.8 343.3h2.5v2.5h-2.5zM298.8 346.3h2.5v2.5h-2.5zM268.8 366.8h2.5v2.5h-2.5zM274.8 364.8h2.5v2.5h-2.5zM280.8 368.8h2.5v2.5h-2.5zM288.8 368.3h2.5v2.5h-2.5zM298.8 365.8h2.5v2.5h-2.5zM308.8 364.8h2.5v2.5h-2.5zM316.8 362.8h2.5v2.5h-2.5zM324.8 360.8h2.5v2.5h-2.5zM334.8 358.8h2.5v2.5h-2.5zM344.8 356.8h2.5v2.5h-2.5zM354.8 354.8h2.5v2.5h-2.5zM364.8 351.8h2.5v2.5h-2.5zM374.8 348.8h2.5v2.5h-2.5zM384.8 345.8h2.5v2.5h-2.5zM390.8 343.8h2.5v2.5h-2.5z"/>
<path fill="#fa0a0a" d="M338.3 319.1h2.5v2.5h-2.5zM339.7 319.6h2.5v2.5h-2.5zM342.5 319.4h2.5v2.5h-2.5zM343.5 319.5h2.5v2.5h-2.5zM345.3 319.9h2.5v2.5h-2.5zM351.0 318.6h2.5v2.5h-2.5zM325.9 321.2h2.5v2.5h-2.5zM331.5 321.6h2.5v2.5h-2.5zM332.5 321.4h2.5v2.5h-2.5zM337.0 321.5h2.5v2.5h-2.5zM339.3 321.6h2.5v2.5h-2.5zM341.4 320.1h2.5v2.5h-2.5zM343.6 320.4h2.5v2.5h-2.5zM345.0 321.0h2.5v2.5h-2.5zM346.7 319.9h2.5v2.5h-2.5zM349.9 321.4h2.5v2.5h-2.5zM321.6 323.5h2.5v2.5h-2.5zM325.9 322.3h2.5v2.5h-2.5zM327.6 322.8h2.5v2.5h-2.5zM329.8 323.2h2.5v2.5h-2.5zM332.5 322.0h2.5v2.5h-2.5zM334.4 322.4h2.5v2.5h-2.5zM335.7 322.3h2.5v2.5h-2.5zM340.4 322.3h2.5v2.5h-2.5zM343.0 322.0h2.5v2.5h-2.5zM344.9 322.8h2.5v2.5h-2.5zM345.4 321.9h2.5v2.5h-2.5zM349.1 322.4h2.5v2.5h-2.5zM350.4 321.7h2.5v2.5h-2.5zM351.7 322.2h2.5v2.5h-2.5zM314.8 324.8h2.5v2.5h-2.5zM318.4 324.4h2.5v2.5h-2.5zM321.1 324.3h2.5v2.5h-2.5zM325.1 325.2h2.5v2.5h-2.5zM326.0 324.0h2.5v2.5h-2.5zM328.8 323.6h2.5v2.5h-2.5zM330.7 324.4h2.5v2.5h-2.5zM332.2 324.8h2.5v2.5h-2.5zM334.5 323.6h2.5v2.5h-2.5zM337.2 324.6h2.5v2.5h-2.5zM341.9 323.5h2.5v2.5h-2.5zM342.2 323.9h2.5v2.5h-2.5zM347.3 324.0h2.5v2.5h-2.5zM350.1 324.6h2.5v2.5h-2.5zM350.9 324.9h2.5v2.5h-2.5zM307.4 326.4h2.5v2.5h-2.5zM310.9 325.7h2.5v2.5h-2.5zM314.0 326.5h2.5v2.5h-2.5zM314.5 325.7h2.5v2.5h-2.5zM317.9 326.7h2.5v2.5h-2.5zM319.6 326.2h2.5v2.5h-2.5zM322.1 326.1h2.5v2.5h-2.5zM324.3 327.0h2.5v2.5h-2.5zM325.5 326.6h2.5v2.5h-2.5zM328.4 326.1h2.5v2.5h-2.5zM330.6 326.6h2.5v2.5h-2.5zM331.2 326.3h2.5v2.5h-2.5zM334.6 327.0h2.5v2.5h-2.5zM336.0 326.9h2.5v2.5h-2.5zM337.1 326.3h2.5v2.5h-2.5zM339.5 326.3h2.5v2.5h-2.5zM342.1 326.6h2.5v2.5h-2.5zM344.6 325.8h2.5v2.5h-2.5zM345.6 325.5h2.5v2.5h-2.5zM349.0 325.5h2.5v2.5h-2.5zM349.6 325.4h2.5v2.5h-2.5zM300.3 327.5h2.5v2.5h-2.5zM302.6 328.1h2.5v2.5h-2.5zM303.9 328.7h2.5v2.5h-2.5zM306.9 328.3h2.5v2.5h-2.5zM308.0 328.6h2.5v2.5h-2.5zM310.8 328.2h2.5v2.5h-2.5zM312.8 327.2h2.5v2.5h-2.5zM315.2 327.4h2.5v2.5h-2.5zM316.2 328.6h2.5v2.5h-2.5zM318.6 327.7h2.5v2.5h-2.5zM320.6 327.9h2.5v2.5h-2.5zM322.1 327.5h2.5v2.5h-2.5zM325.5 328.4h2.5v2.5h-2.5zM326.3 327.6h2.5v2.5h-2.5zM329.1 327.6h2.5v2.5h-2.5zM330.6 327.8h2.5v2.5h-2.5zM332.8 327.3h2.5v2.5h-2.5zM335.7 328.0h2.5v2.5h-2.5zM336.9 327.3h2.5v2.5h-2.5zM339.6 328.7h2.5v2.5h-2.5zM341.1 328.5h2.5v2.5h-2.5zM342.3 328.3h2.5v2.5h-2.5zM345.7 328.8h2.5v2.5h-2.5zM346.9 328.7h2.5v2.5h-2.5zM287.6 329.6h2.5v2.5h-2.5zM288.2 329.7h2.5v2.5h-2.5zM291.5 330.5h2.5v2.5h-2.5zM292.1 328.9h2.5v2.5h-2.5zM295.3 329.0h2.5v2.5h-2.5zM297.3 329.4h2.5v2.5h-2.5zM299.1 329.7h2.5v2.5h-2.5zM300.2 330.5h2.5v2.5h-2.5zM302.8 328.9h2.5v2.5h-2.5zM304.3 329.5h2.5v2.5h-2.5zM306.4 330.2h2.5v2.5h-2.5zM308.5 329.4h2.5v2.5h-2.5zM310.5 329.8h2.5v2.5h-2.5zM313.0 330.5h2.5v2.5h-2.5zM316.2 329.4h2.5v2.5h-2.5zM317.0 329.8h2.5v2.5h-2.5zM319.6 329.5h2.5v2.5h-2.5zM322.2 330.3h2.5v2.5h-2.5zM324.2 328.9h2.5v2.5h-2.5zM325.1 330.6h2.5v2.5h-2.5zM327.9 329.3h2.5v2.5h-2.5zM329.1 330.4h2.5v2.5h-2.5zM332.5 329.3h2.5v2.5h-2.5zM333.6 329.4h2.5v2.5h-2.5zM336.5 329.6h2.5v2.5h-2.5zM337.2 329.0h2.5v2.5h-2.5zM345.0 329.0h2.5v2.5h-2.5zM346.4 329.5h2.5v2.5h-2.5zM282.2 331.8h2.5v2.5h-2.5zM283.7 332.3h2.5v2.5h-2.5zM286.2 331.4h2.5v2.5h-2.5zM287.8 332.0h2.5v2.5h-2.5zM290.1 330.8h2.5v2.5h-2.5zM291.4 332.2h2.5v2.5h-2.5zM296.4 332.2h2.5v2.5h-2.5zM297.9 332.1h2.5v2.5h-2.5zM299.6 330.7h2.5v2.5h-2.5zM303.0 330.8h2.5v2.5h-2.5zM303.8 331.5h2.5v2.5h-2.5zM305.9 332.2h2.5v2.5h-2.5zM308.6 332.4h2.5v2.5h-2.5zM309.9 331.5h2.5v2.5h-2.5zM311.8 330.6h2.5v2.5h-2.5zM314.5 332.4h2.5v2.5h-2.5zM315.9 332.3h2.5v2.5h-2.5zM317.8 332.1h2.5v2.5h-2.5zM319.9 331.5h2.5v2.5h-2.5zM321.9 331.8h2.5v2.5h-2.5zM325.0 331.9h2.5v2.5h-2.5zM326.0 332.2h2.5v2.5h-2.5zM330.7 331.6h2.5v2.5h-2.5zM333.6 331.2h2.5v2.5h-2.5zM337.6 331.3h2.5v2.5h-2.5zM339.8 330.9h2.5v2.5h-2.5zM340.4 331.4h2.5v2.5h-2.5zM275.2 333.0h2.5v2.5h-2.5zM275.7 332.5h2.5v2.5h-2.5zM278.4 333.5h2.5v2.5h-2.5zM280.0 332.7h2.5v2.5h-2.5zM282.4 332.8h2.5v2.5h-2.5zM287.5 333.7h2.5v2.5h-2.5zM288.3 333.8h2.5v2.5h-2.5zM292.3 333.1h2.5v2.5h-2.5zM294.5 333.8h2.5v2.5h-2.5zM296.6 333.8h2.5v2.5h-2.5zM299.5 333.0h2.5v2.5h-2.5zM301.1 332.6h2.5v2.5h-2.5zM302.9 333.8h2.5v2.5h-2.5zM305.6 334.1h2.5v2.5h-2.5zM306.3 332.9h2.5v2.5h-2.5zM309.6 333.0h2.5v2.5h-2.5zM313.5 333.8h2.5v2.5h-2.5zM315.3 333.0h2.5v2.5h-2.5zM317.7 334.0h2.5v2.5h-2.5zM319.0 332.7h2.5v2.5h-2.5zM322.3 333.5h2.5v2.5h-2.5zM323.0 332.5h2.5v2.5h-2.5zM328.3 332.8h2.5v2.5h-2.5zM332.1 332.4h2.5v2.5h-2.5zM333.2 333.2h2.5v2.5h-2.5zM262.3 335.8h2.5v2.5h-2.5zM264.3 336.0h2.5v2.5h-2.5zM268.9 336.0h2.5v2.5h-2.5zM271.5 334.7h2.5v2.5h-2.5zM274.6 335.6h2.5v2.5h-2.5zM277.3 334.6h2.5v2.5h-2.5zM279.3 334.3h2.5v2.5h-2.5zM286.6 335.0h2.5v2.5h-2.5zM292.7 334.7h2.5v2.5h-2.5zM296.7 334.7h2.5v2.5h-2.5zM298.8 335.9h2.5v2.5h-2.5zM300.5 335.3h2.5v2.5h-2.5zM302.6 335.8h2.5v2.5h-2.5zM304.4 335.3h2.5v2.5h-2.5zM306.2 334.5h2.5v2.5h-2.5zM308.7 334.5h2.5v2.5h-2.5zM310.1 335.4h2.5v2.5h-2.5zM312.2 335.0h2.5v2.5h-2.5zM313.9 334.6h2.5v2.5h-2.5zM262.1 336.2h2.5v2.5h-2.5zM266.0 337.1h2.5v2.5h-2.5zM267.9 337.3h2.5v2.5h-2.5zM271.1 337.5h2.5v2.5h-2.5zM271.6 337.1h2.5v2.5h-2.5zM274.3 336.4h2.5v2.5h-2.5zM277.0 337.7h2.5v2.5h-2.5zM278.5 336.4h2.5v2.5h-2.5zM280.8 337.4h2.5v2.5h-2.5zM283.4 337.2h2.5v2.5h-2.5zM283.8 336.4h2.5v2.5h-2.5zM287.6 337.7h2.5v2.5h-2.5zM289.0 336.0h2.5v2.5h-2.5zM291.0 336.2h2.5v2.5h-2.5zM297.5 336.7h2.5v2.5h-2.5zM299.7 336.8h2.5v2.5h-2.5zM300.4 337.2h2.5v2.5h-2.5zM302.8 336.9h2.5v2.5h-2.5zM250.5 339.2h2.5v2.5h-2.5zM255.5 338.0h2.5v2.5h-2.5zM256.6 338.1h2.5v2.5h-2.5zM259.5 337.8h2.5v2.5h-2.5zM261.1 339.5h2.5v2.5h-2.5zM263.3 338.0h2.5v2.5h-2.5zM265.7 338.9h2.5v2.5h-2.5zM266.3 338.9h2.5v2.5h-2.5zM269.1 338.1h2.5v2.5h-2.5zM271.6 337.9h2.5v2.5h-2.5zM272.5 338.0h2.5v2.5h-2.5zM275.7 339.3h2.5v2.5h-2.5zM277.2 338.6h2.5v2.5h-2.5zM279.0 338.0h2.5v2.5h-2.5zM282.0 339.5h2.5v2.5h-2.5zM283.9 338.7h2.5v2.5h-2.5zM285.2 338.9h2.5v2.5h-2.5zM288.5 339.4h2.5v2.5h-2.5zM291.5 339.1h2.5v2.5h-2.5zM293.1 339.2h2.5v2.5h-2.5zM250.5 340.0h2.5v2.5h-2.5zM255.3 339.7h2.5v2.5h-2.5zM257.2 339.7h2.5v2.5h-2.5zM260.6 340.6h2.5v2.5h-2.5zM262.0 340.5h2.5v2.5h-2.5zM264.8 340.6h2.5v2.5h-2.5zM266.1 341.1h2.5v2.5h-2.5zM267.7 341.1h2.5v2.5h-2.5zM271.2 339.9h2.5v2.5h-2.5zM272.4 340.1h2.5v2.5h-2.5zM279.0 340.6h2.5v2.5h-2.5zM279.7 340.5h2.5v2.5h-2.5zM286.2 341.0h2.5v2.5h-2.5zM289.7 340.9h2.5v2.5h-2.5zM290.4 340.1h2.5v2.5h-2.5zM292.2 340.1h2.5v2.5h-2.5zM247.3 341.8h2.5v2.5h-2.5zM250.3 342.6h2.5v2.5h-2.5zM253.0 341.9h2.5v2.5h-2.5zM254.1 343.1h2.5v2.5h-2.5zM257.0 342.8h2.5v2.5h-2.5zM261.5 342.3h2.5v2.5h-2.5zM263.9 342.6h2.5v2.5h-2.5zM265.6 341.9h2.5v2.5h-2.5zM267.5 342.1h2.5v2.5h-2.5zM268.8 341.3h2.5v2.5h-2.5zM271.9 341.9h2.5v2.5h-2.5zM272.5 342.1h2.5v2.5h-2.5zM276.1 342.1h2.5v2.5h-2.5zM279.2 342.4h2.5v2.5h-2.5zM281.2 341.8h2.5v2.5h-2.5zM283.0 342.0h2.5v2.5h-2.5zM247.9 343.7h2.5v2.5h-2.5zM250.6 343.1h2.5v2.5h-2.5zM251.1 344.2h2.5v2.5h-2.5zM256.1 344.7h2.5v2.5h-2.5zM260.1 343.1h2.5v2.5h-2.5zM262.6 344.5h2.5v2.5h-2.5zM269.0 343.5h2.5v2.5h-2.5zM270.2 343.3h2.5v2.5h-2.5zM275.0 343.4h2.5v2.5h-2.5zM276.1 343.1h2.5v2.5h-2.5zM278.4 343.2h2.5v2.5h-2.5zM248.3 345.1h2.5v2.5h-2.5zM250.5 345.4h2.5v2.5h-2.5zM252.9 345.9h2.5v2.5h-2.5zM255.1 345.5h2.5v2.5h-2.5zM257.6 345.1h2.5v2.5h-2.5zM259.9 345.8h2.5v2.5h-2.5zM260.4 344.9h2.5v2.5h-2.5zM268.0 345.1h2.5v2.5h-2.5zM269.2 345.2h2.5v2.5h-2.5zM271.8 345.1h2.5v2.5h-2.5zM250.2 348.0h2.5v2.5h-2.5zM252.3 346.7h2.5v2.5h-2.5zM253.3 348.0h2.5v2.5h-2.5zM255.9 348.2h2.5v2.5h-2.5zM258.5 347.7h2.5v2.5h-2.5zM264.2 347.9h2.5v2.5h-2.5zM250.2 349.0h2.5v2.5h-2.5zM252.5 349.4h2.5v2.5h-2.5zM255.2 349.5h2.5v2.5h-2.5zM257.3 349.2h2.5v2.5h-2.5zM261.0 348.6h2.5v2.5h-2.5z"/>
<path fill="#fa0a0a" d="M177.0 365.7h2.5v2.5h-2.5zM180.3 361.2h2.5v2.5h-2.5zM182.8 358.8h2.5v2.5h-2.5zM185.7 357.2h2.5v2.5h-2.5zM197.9 356.1h2.5v2.5h-2.5zM200.3 357.5h2.5v2.5h-2.5zM203.3 355.2h2.5v2.5h-2.5zM205.2 353.9h2.5v2.5h-2.5zM206.4 362.4h2.5v2.5h-2.5zM210.1 361.9h2.5v2.5h-2.5zM220.6 346.6h2.5v2.5h-2.5zM220.6 349.3h2.5v2.5h-2.5zM224.6 346.4h2.5v2.5h-2.5zM227.0 346.1h2.5v2.5h-2.5zM233.3 347.0h2.5v2.5h-2.5zM238.8 343.3h2.5v2.5h-2.5zM239.7 344.8h2.5v2.5h-2.5zM245.2 345.2h2.5v2.5h-2.5zM246.1 346.4h2.5v2.5h-2.5zM251.5 340.6h2.5v2.5h-2.5zM254.3 342.4h2.5v2.5h-2.5zM257.0 338.8h2.5v2.5h-2.5zM256.1 350.3h2.5v2.5h-2.5zM203.3 354.1h2.5v2.5h-2.5zM204.5 355.1h2.5v2.5h-2.5zM200.1 357.3h2.5v2.5h-2.5zM206.4 362.3h2.5v2.5h-2.5zM210.0 361.7h2.5v2.5h-2.5zM219.8 346.4h2.5v2.5h-2.5zM220.4 349.2h2.5v2.5h-2.5zM224.3 347.1h2.5v2.5h-2.5zM226.8 345.8h2.5v2.5h-2.5zM233.2 346.7h2.5v2.5h-2.5zM239.5 343.3h2.5v2.5h-2.5zM244.0 344.5h2.5v2.5h-2.5zM246.5 346.4h2.5v2.5h-2.5zM253.5 344.5h2.5v2.5h-2.5zM254.8 350.3h2.5v2.5h-2.5zM258.0 349.0h2.5v2.5h-2.5zM264.3 351.5h2.5v2.5h-2.5zM261.2 346.4h2.5v2.5h-2.5zM267.5 345.8h2.5v2.5h-2.5zM233.3 346.5h2.5v2.5h-2.5zM238.8 342.8h2.5v2.5h-2.5zM246.1 345.6h2.5v2.5h-2.5zM353.2 316.8h2.5v2.5h-2.5zM359.7 319.3h2.5v2.5h-2.5zM367.9 316.0h2.5v2.5h-2.5zM373.6 320.1h2.5v2.5h-2.5zM367.9 322.5h2.5v2.5h-2.5zM358.1 323.3h2.5v2.5h-2.5zM354.8 325.0h2.5v2.5h-2.5zM356.4 327.4h2.5v2.5h-2.5zM362.8 317.8h2.5v2.5h-2.5zM364.8 320.8h2.5v2.5h-2.5zM370.8 317.3h2.5v2.5h-2.5zM360.8 322.8h2.5v2.5h-2.5zM348.8 327.8h2.5v2.5h-2.5zM344.8 331.8h2.5v2.5h-2.5zM325.8 334.8h2.5v2.5h-2.5zM298.8 338.8h2.5v2.5h-2.5zM283.8 344.3h2.5v2.5h-2.5zM268.8 347.8h2.5v2.5h-2.5zM260.8 351.8h2.5v2.5h-2.5zM276.8 346.8h2.5v2.5h-2.5zM293.8 341.8h2.5v2.5h-2.5z"/>
<g opacity="0.35">
<line x1="246.40" y1="332.30" x2="246.40" y2="242.30" stroke="#8a8a8a" stroke-width="0.7" />
<line x1="155.60" y1="409.10" x2="246.40" y2="332.30" stroke="#8a8a8a" stroke-width="0.7" />
<line x1="246.40" y1="332.30" x2="414.60" y2="374.40" stroke="#8a8a8a" stroke-width="0.7" />
</g>
<line x1="32.40" y1="49.50" x2="184.70" y2="64.50" stroke="#8a8a8a" stroke-width="0.7" />
<line x1="184.70" y1="64.50" x2="252.00" y2="31.20" stroke="#8a8a8a" stroke-width="0.7" />
<line x1="252.00" y1="31.20" x2="99.70" y2="16.20" stroke="#8a8a8a" stroke-width="0.7" />
<line x1="99.70" y1="16.20" x2="32.40" y2="49.50" stroke="#8a8a8a" stroke-width="0.7" />
<line x1="32.40" y1="164.50" x2="32.40" y2="49.50" stroke="#8a8a8a" stroke-width="0.7" />
<line x1="184.70" y1="179.50" x2="184.70" y2="64.50" stroke="#8a8a8a" stroke-width="0.7" />
<line x1="252.00" y1="146.20" x2="252.00" y2="31.20" stroke="#8a8a8a" stroke-width="0.7" />
<line x1="32.40" y1="164.50" x2="184.70" y2="179.50" stroke="#8a8a8a" stroke-width="0.7" />
<line x1="184.70" y1="179.50" x2="252.00" y2="146.20" stroke="#8a8a8a" stroke-width="0.7" />
<line x1="32.40" y1="144.08" x2="28.40" y2="144.38" stroke="#8a8a8a" stroke-width="0.7" />
<line x1="32.40" y1="121.87" x2="28.40" y2="122.17" stroke="#8a8a8a" stroke-width="0.7" />
<line x1="32.40" y1="99.67" x2="28.40" y2="99.97" stroke="#8a8a8a" stroke-width="0.7" />
<line x1="32.40" y1="77.47" x2="28.40" y2="77.77" stroke="#8a8a8a" stroke-width="0.7" />
<line x1="32.40" y1="55.27" x2="28.40" y2="55.57" stroke="#8a8a8a" stroke-width="0.7" />
<line x1="53.09" y1="166.54" x2="49.50" y2="168.31" stroke="#8a8a8a" stroke-width="0.7" />
<line x1="75.48" y1="168.74" x2="71.89" y2="170.52" stroke="#8a8a8a" stroke-width="0.7" />
<line x1="97.87" y1="170.95" x2="94.28" y2="172.72" stroke="#8a8a8a" stroke-width="0.7" />
<line x1="120.26" y1="173.15" x2="116.68" y2="174.93" stroke="#8a8a8a" stroke-width="0.7" />
<line x1="142.65" y1="175.36" x2="139.07" y2="177.13" stroke="#8a8a8a" stroke-width="0.7" />
<line x1="165.04" y1="177.56" x2="161.46" y2="179.34" stroke="#8a8a8a" stroke-width="0.7" />
<line x1="195.59" y1="174.11" x2="199.57" y2="174.50" stroke="#8a8a8a" stroke-width="0.7" />
<line x1="215.21" y1="164.40" x2="219.19" y2="164.80" stroke="#8a8a8a" stroke-width="0.7" />
<line x1="234.83" y1="154.69" x2="238.81" y2="155.09" stroke="#8a8a8a" stroke-width="0.7" />
<line x1="321.80" y1="47.30" x2="477.50" y2="60.50" stroke="#8a8a8a" stroke-width="0.7" />
<line x1="477.50" y1="60.50" x2="535.50" y2="24.50" stroke="#8a8a8a" stroke-width="0.7" />
<line x1="535.50" y1="24.50" x2="379.80" y2="11.30" stroke="#8a8a8a" stroke-width="0.7" />
<line x1="379.80" y1="11.30" x2="321.80" y2="47.30" stroke="#8a8a8a" stroke-width="0.7" />
<line x1="321.80" y1="167.30" x2="321.80" y2="47.30" stroke="#8a8a8a" stroke-width="0.7" />
<line x1="477.50" y1="180.50" x2="477.50" y2="60.50" stroke="#8a8a8a" stroke-width="0.7" />
<line x1="535.50" y1="144.50" x2="535.50" y2="24.50" stroke="#8a8a8a" stroke-width="0.7" />
<line x1="321.80" y1="167.30" x2="477.50" y2="180.50" stroke="#8a8a8a" stroke-width="0.7" />
<line x1="477.50" y1="180.50" x2="535.50" y2="144.50" stroke="#8a8a8a" stroke-width="0.7" />
<line x1="321.80" y1="147.05" x2="317.80" y2="147.35" stroke="#8a8a8a" stroke-width="0.7" />
<line x1="321.80" y1="122.36" x2="317.80" y2="122.66" stroke="#8a8a8a" stroke-width="0.7" />
<line x1="321.80" y1="97.67" x2="317.80" y2="97.97" stroke="#8a8a8a" stroke-width="0.7" />
<line x1="321.80" y1="72.98" x2="317.80" y2="73.28" stroke="#8a8a8a" stroke-width="0.7" />
<line x1="321.80" y1="48.29" x2="317.80" y2="48.59" stroke="#8a8a8a" stroke-width="0.7" />
<line x1="324.92" y1="167.56" x2="321.52" y2="169.67" stroke="#8a8a8a" stroke-width="0.7" />
<line x1="368.27" y1="171.24" x2="364.87" y2="173.35" stroke="#8a8a8a" stroke-width="0.7" />
<line x1="411.61" y1="174.91" x2="408.22" y2="177.02" stroke="#8a8a8a" stroke-width="0.7" />
<line x1="454.96" y1="178.59" x2="451.56" y2="180.70" stroke="#8a8a8a" stroke-width="0.7" />
<line x1="486.00" y1="175.23" x2="489.98" y2="175.56" stroke="#8a8a8a" stroke-width="0.7" />
<line x1="505.49" y1="163.13" x2="509.47" y2="163.47" stroke="#8a8a8a" stroke-width="0.7" />
<line x1="524.98" y1="151.03" x2="528.96" y2="151.37" stroke="#8a8a8a" stroke-width="0.7" />
<line x1="155.60" y1="319.10" x2="323.80" y2="361.20" stroke="#8a8a8a" stroke-width="0.7" />
<line x1="323.80" y1="361.20" x2="414.60" y2="284.40" stroke="#8a8a8a" stroke-width="0.7" />
<line x1="414.60" y1="284.40" x2="246.40" y2="242.30" stroke="#8a8a8a" stroke-width="0.7" />
<line x1="246.40" y1="242.30" x2="155.60" y2="319.10" stroke="#8a8a8a" stroke-width="0.7" />
<line x1="155.60" y1="409.10" x2="155.60" y2="319.10" stroke="#8a8a8a" stroke-width="0.7" />
<line x1="323.80" y1="451.20" x2="323.80" y2="361.20" stroke="#8a8a8a" stroke-width="0.7" />
<line x1="414.60" y1="374.40" x2="414.60" y2="284.40" stroke="#8a8a8a" stroke-width="0.7" />
<line x1="155.60" y1="409.10" x2="323.80" y2="451.20" stroke="#8a8a8a" stroke-width="0.7" />
<line x1="323.80" y1="451.20" x2="414.60" y2="374.40" stroke="#8a8a8a" stroke-width="0.7" />
<line x1="155.60" y1="393.26" x2="151.60" y2="393.56" stroke="#8a8a8a" stroke-width="0.7" />
<line x1="155.60" y1="375.96" x2="151.60" y2="376.26" stroke="#8a8a8a" stroke-width="0.7" />
<line x1="155.60" y1="358.65" x2="151.60" y2="358.95" stroke="#8a8a8a" stroke-width="0.7" />
<line x1="155.60" y1="341.34" x2="151.60" y2="341.64" stroke="#8a8a8a" stroke-width="0.7" />
<line x1="155.60" y1="324.03" x2="151.60" y2="324.33" stroke="#8a8a8a" stroke-width="0.7" />
<line x1="160.84" y1="410.41" x2="157.79" y2="413.00" stroke="#8a8a8a" stroke-width="0.7" />
<line x1="187.73" y1="417.14" x2="184.68" y2="419.73" stroke="#8a8a8a" stroke-width="0.7" />
<line x1="214.62" y1="423.87" x2="211.57" y2="426.46" stroke="#8a8a8a" stroke-width="0.7" />
<line x1="241.52" y1="430.60" x2="238.46" y2="433.19" stroke="#8a8a8a" stroke-width="0.7" />
<line x1="268.41" y1="437.33" x2="265.35" y2="439.92" stroke="#8a8a8a" stroke-width="0.7" />
<line x1="295.30" y1="444.07" x2="292.24" y2="446.65" stroke="#8a8a8a" stroke-width="0.7" />
<line x1="333.88" y1="442.67" x2="337.76" y2="443.65" stroke="#8a8a8a" stroke-width="0.7" />
<line x1="350.14" y1="428.92" x2="354.02" y2="429.89" stroke="#8a8a8a" stroke-width="0.7" />
<line x1="366.40" y1="415.17" x2="370.28" y2="416.14" stroke="#8a8a8a" stroke-width="0.7" />
<line x1="382.65" y1="401.42" x2="386.53" y2="402.39" stroke="#8a8a8a" stroke-width="0.7" />
<line x1="398.91" y1="387.67" x2="402.79" y2="388.64" stroke="#8a8a8a" stroke-width="0.7" />
<text x="21.70" y="58.25" font-size="7.5" font-weight="normal" fill="#222" stroke="#222" stroke-width="0.06" textLength="4.50" lengthAdjust="spacingAndGlyphs">2</text>
<text x="21.70" y="79.85" font-size="7.5" font-weight="normal" fill="#222" stroke="#222" stroke-width="0.06" textLength="4.50" lengthAdjust="spacingAndGlyphs">1</text>
<text x="21.70" y="101.55" font-size="7.5" font-weight="normal" fill="#222" stroke="#222" stroke-width="0.06" textLength="4.50" lengthAdjust="spacingAndGlyphs">0</text>
<text x="16.80" y="124.55" font-size="7.5" font-weight="normal" fill="#222" stroke="#222" stroke-width="0.06" textLength="8.80" lengthAdjust="spacingAndGlyphs">−1</text>
<text x="16.80" y="146.15" font-size="7.5" font-weight="normal" fill="#222" stroke="#222" stroke-width="0.06" textLength="8.80" lengthAdjust="spacingAndGlyphs">−2</text>
<text x="22.40" y="175.55" font-size="7.5" font-weight="normal" fill="#222" stroke="#222" stroke-width="0.06" textLength="3.70" lengthAdjust="spacingAndGlyphs">1</text>
<text x="38.40" y="177.15" font-size="7.5" font-weight="normal" fill="#222" stroke="#222" stroke-width="0.06" textLength="10.30" lengthAdjust="spacingAndGlyphs">0.5</text>
<text x="67.40" y="179.35" font-size="7.5" font-weight="normal" fill="#222" stroke="#222" stroke-width="0.06" textLength="4.80" lengthAdjust="spacingAndGlyphs">0</text>
<text x="77.70" y="181.75" font-size="7.5" font-weight="normal" fill="#222" stroke="#222" stroke-width="0.06" textLength="15.90" lengthAdjust="spacingAndGlyphs">−0.5</text>
<text x="107.20" y="184.35" font-size="7.5" font-weight="normal" fill="#222" stroke="#222" stroke-width="0.06" textLength="8.30" lengthAdjust="spacingAndGlyphs">−1</text>
<text x="123.60" y="186.15" font-size="7.5" font-weight="normal" fill="#222" stroke="#222" stroke-width="0.06" textLength="14.60" lengthAdjust="spacingAndGlyphs">−1.5</text>
<text x="152.70" y="188.95" font-size="7.5" font-weight="normal" fill="#222" stroke="#222" stroke-width="0.06" textLength="8.30" lengthAdjust="spacingAndGlyphs">−2</text>
<text x="199.80" y="183.45" font-size="7.5" font-weight="normal" fill="#222" stroke="#222" stroke-width="0.06" textLength="4.60" lengthAdjust="spacingAndGlyphs">2</text>
<text x="219.90" y="173.35" font-size="7.5" font-weight="normal" fill="#222" stroke="#222" stroke-width="0.06" textLength="4.60" lengthAdjust="spacingAndGlyphs">0</text>
<text x="241.80" y="163.05" font-size="7.5" font-weight="normal" fill="#222" stroke="#222" stroke-width="0.06" textLength="9.00" lengthAdjust="spacingAndGlyphs">−2</text>
<text x="92.50" y="198.60" font-size="8.0" font-weight="bold" fill="#222" textLength="23.10" lengthAdjust="spacingAndGlyphs">AR(1)</text>
<text x="227.00" y="194.00" font-size="8.0" font-weight="bold" fill="#222" textLength="22.60" lengthAdjust="spacingAndGlyphs">AR(2)</text>
<text transform="translate(12.52,119.20) rotate(-90)" x="0" y="0" font-size="8.0" font-weight="bold" fill="#1a1a1a" stroke="#111" stroke-width="0.15" textLength="23.50" lengthAdjust="spacingAndGlyphs">AR(3)</text>
<text x="309.80" y="51.39" font-size="8.8" font-weight="normal" fill="#222" stroke="#222" stroke-width="0.06" textLength="4.30" lengthAdjust="spacingAndGlyphs">1</text>
<text x="302.60" y="76.19" font-size="8.8" font-weight="normal" fill="#222" stroke="#222" stroke-width="0.06" textLength="10.90" lengthAdjust="spacingAndGlyphs">0.5</text>
<text x="309.80" y="100.69" font-size="8.8" font-weight="normal" fill="#222" stroke="#222" stroke-width="0.06" textLength="4.30" lengthAdjust="spacingAndGlyphs">0</text>
<text x="296.60" y="125.49" font-size="8.8" font-weight="normal" fill="#222" stroke="#222" stroke-width="0.06" textLength="16.90" lengthAdjust="spacingAndGlyphs">−0.5</text>
<text x="306.00" y="149.99" font-size="8.8" font-weight="normal" fill="#222" stroke="#222" stroke-width="0.06" textLength="7.50" lengthAdjust="spacingAndGlyphs">−1</text>
<text x="316.70" y="179.39" font-size="8.8" font-weight="normal" fill="#222" stroke="#222" stroke-width="0.06" textLength="4.60" lengthAdjust="spacingAndGlyphs">0</text>
<text x="346.40" y="183.49" font-size="8.8" font-weight="normal" fill="#222" stroke="#222" stroke-width="0.06" textLength="17.20" lengthAdjust="spacingAndGlyphs">−0.5</text>
<text x="396.90" y="187.59" font-size="8.8" font-weight="normal" fill="#222" stroke="#222" stroke-width="0.06" textLength="9.10" lengthAdjust="spacingAndGlyphs">−1</text>
<text x="433.30" y="190.89" font-size="8.8" font-weight="normal" fill="#222" stroke="#222" stroke-width="0.06" textLength="16.50" lengthAdjust="spacingAndGlyphs">−1.5</text>
<text x="490.40" y="185.99" font-size="8.8" font-weight="normal" fill="#222" stroke="#222" stroke-width="0.06" textLength="4.20" lengthAdjust="spacingAndGlyphs">1</text>
<text x="509.80" y="173.99" font-size="8.8" font-weight="normal" fill="#222" stroke="#222" stroke-width="0.06" textLength="4.80" lengthAdjust="spacingAndGlyphs">0</text>
<text x="531.40" y="161.99" font-size="8.8" font-weight="normal" fill="#222" stroke="#222" stroke-width="0.06" textLength="9.20" lengthAdjust="spacingAndGlyphs">−1</text>
<text x="378.30" y="201.60" font-size="10" font-weight="bold" fill="#222" textLength="25.00" lengthAdjust="spacingAndGlyphs">AR(1)</text>
<text x="519.50" y="196.40" font-size="10" font-weight="bold" fill="#222" textLength="25.00" lengthAdjust="spacingAndGlyphs">AR(2)</text>
<text transform="translate(288.30,120.60) rotate(-90)" x="0" y="0" font-size="10" font-weight="bold" fill="#1a1a1a" stroke="#111" stroke-width="0.15" textLength="26.00" lengthAdjust="spacingAndGlyphs">AR(3)</text>
<text x="134.90" y="326.96" font-size="8.7" font-weight="normal" fill="#222" stroke="#222" stroke-width="0.06" textLength="12.30" lengthAdjust="spacingAndGlyphs">0.4</text>
<text x="134.90" y="344.06" font-size="8.7" font-weight="normal" fill="#222" stroke="#222" stroke-width="0.06" textLength="12.30" lengthAdjust="spacingAndGlyphs">0.2</text>
<text x="143.00" y="361.16" font-size="8.7" font-weight="normal" fill="#222" stroke="#222" stroke-width="0.06" textLength="4.80" lengthAdjust="spacingAndGlyphs">0</text>
<text x="128.10" y="378.86" font-size="8.7" font-weight="normal" fill="#222" stroke="#222" stroke-width="0.06" textLength="19.10" lengthAdjust="spacingAndGlyphs">−0.2</text>
<text x="128.10" y="396.26" font-size="8.7" font-weight="normal" fill="#222" stroke="#222" stroke-width="0.06" textLength="19.10" lengthAdjust="spacingAndGlyphs">−0.4</text>
<text x="144.40" y="424.76" font-size="8.7" font-weight="normal" fill="#222" stroke="#222" stroke-width="0.06" textLength="12.80" lengthAdjust="spacingAndGlyphs">0.6</text>
<text x="171.30" y="431.46" font-size="8.7" font-weight="normal" fill="#222" stroke="#222" stroke-width="0.06" textLength="12.30" lengthAdjust="spacingAndGlyphs">0.4</text>
<text x="198.20" y="437.86" font-size="8.7" font-weight="normal" fill="#222" stroke="#222" stroke-width="0.06" textLength="12.30" lengthAdjust="spacingAndGlyphs">0.2</text>
<text x="232.80" y="444.56" font-size="8.7" font-weight="normal" fill="#222" stroke="#222" stroke-width="0.06" textLength="5.00" lengthAdjust="spacingAndGlyphs">0</text>
<text x="245.40" y="450.96" font-size="8.7" font-weight="normal" fill="#222" stroke="#222" stroke-width="0.06" textLength="18.60" lengthAdjust="spacingAndGlyphs">−0.2</text>
<text x="272.00" y="457.96" font-size="8.7" font-weight="normal" fill="#222" stroke="#222" stroke-width="0.06" textLength="18.60" lengthAdjust="spacingAndGlyphs">−0.4</text>
<text x="342.40" y="453.96" font-size="8.7" font-weight="normal" fill="#222" stroke="#222" stroke-width="0.06" textLength="19.60" lengthAdjust="spacingAndGlyphs">−1.2</text>
<text x="358.40" y="439.96" font-size="8.7" font-weight="normal" fill="#222" stroke="#222" stroke-width="0.06" textLength="11.20" lengthAdjust="spacingAndGlyphs">−1</text>
<text x="375.40" y="425.96" font-size="8.7" font-weight="normal" fill="#222" stroke="#222" stroke-width="0.06" textLength="19.80" lengthAdjust="spacingAndGlyphs">−0.8</text>
<text x="392.00" y="411.96" font-size="8.7" font-weight="normal" fill="#222" stroke="#222" stroke-width="0.06" textLength="19.60" lengthAdjust="spacingAndGlyphs">−0.6</text>
<text x="408.40" y="398.56" font-size="8.7" font-weight="normal" fill="#222" stroke="#222" stroke-width="0.06" textLength="19.20" lengthAdjust="spacingAndGlyphs">−0.4</text>
<text x="385.40" y="458.30" font-size="9.3" font-weight="bold" fill="#222" textLength="27.80" lengthAdjust="spacingAndGlyphs">AR(1)</text>
<text x="215.30" y="466.40" font-size="9.3" font-weight="bold" fill="#222" textLength="28.00" lengthAdjust="spacingAndGlyphs">AR(2)</text>
<text transform="translate(122.76,378.20) rotate(-90)" x="0" y="0" font-size="9.3" font-weight="bold" fill="#1a1a1a" stroke="#111" stroke-width="0.15" textLength="27.20" lengthAdjust="spacingAndGlyphs">AR(3)</text>
<rect x="145.3" y="6.1" width="129.10" height="26.40" fill="#fff" stroke="#9a9a9a" stroke-width="0.7"/>
<rect x="153.60" y="10.00" width="2.4" height="2.4" fill="#0000ff"/>
<text x="163.90" y="13.80" font-size="7.6" fill="#1a1a1a" stroke="#1a1a1a" stroke-width="0.12" textLength="102.50" lengthAdjust="spacingAndGlyphs">Training convexhull of ship sample</text>
<rect x="153.60" y="18.50" width="2.4" height="2.4" fill="#ff0000"/>
<text x="163.90" y="22.20" font-size="7.6" fill="#1a1a1a" stroke="#1a1a1a" stroke-width="0.12" textLength="108.30" lengthAdjust="spacingAndGlyphs">Correct identification of buoy sample</text>
<rect x="153.60" y="26.50" width="2.4" height="2.4" fill="#00ff00"/>
<text x="163.90" y="30.40" font-size="7.6" fill="#1a1a1a" stroke="#1a1a1a" stroke-width="0.12" textLength="101.20" lengthAdjust="spacingAndGlyphs">Fault identification of buoy sample</text>
<rect x="366.7" y="2.8" width="142.40" height="29.00" fill="#fff" stroke="#9a9a9a" stroke-width="0.7"/>
<rect x="375.40" y="7.10" width="2.4" height="2.4" fill="#0000ff"/>
<text x="387.20" y="11.20" font-size="8.0" fill="#1a1a1a" stroke="#1a1a1a" stroke-width="0.18" textLength="115.20" lengthAdjust="spacingAndGlyphs">Training convexhull of ship sample</text>
<rect x="375.40" y="16.40" width="2.4" height="2.4" fill="#ff0000"/>
<text x="387.20" y="20.40" font-size="8.0" fill="#1a1a1a" stroke="#1a1a1a" stroke-width="0.18" textLength="118.50" lengthAdjust="spacingAndGlyphs">Correct identification of buoy sample</text>
<rect x="375.40" y="25.80" width="2.4" height="2.4" fill="#00ff00"/>
<text x="387.20" y="29.40" font-size="8.0" fill="#1a1a1a" stroke="#1a1a1a" stroke-width="0.18" textLength="112.70" lengthAdjust="spacingAndGlyphs">Fault identification of buoy sample</text>
<rect x="197.7" y="267.6" width="159.90" height="29.70" fill="#fff" stroke="#9a9a9a" stroke-width="0.7"/>
<rect x="208.00" y="272.30" width="2.4" height="2.4" fill="#0000ff"/>
<text x="220.60" y="276.00" font-size="7.9" fill="#1a1a1a" stroke="#1a1a1a" stroke-width="0.25" textLength="127.40" lengthAdjust="spacingAndGlyphs">Training convexhull of ship sample</text>
<rect x="208.00" y="281.80" width="2.4" height="2.4" fill="#ff0000"/>
<text x="220.60" y="285.40" font-size="7.9" fill="#1a1a1a" stroke="#1a1a1a" stroke-width="0.25" textLength="133.50" lengthAdjust="spacingAndGlyphs">Correct identification of buoy sample</text>
<rect x="208.00" y="291.10" width="2.4" height="2.4" fill="#00ff00"/>
<text x="220.60" y="294.70" font-size="7.9" fill="#1a1a1a" stroke="#1a1a1a" stroke-width="0.25" textLength="125.50" lengthAdjust="spacingAndGlyphs">Fault identification of buoy sample</text>
<text x="130.70" y="220.44" font-size="10.95" fill="#111" textLength="13.30" lengthAdjust="spacingAndGlyphs">(<tspan font-weight="bold">a</tspan>)</text>
<text x="414.00" y="220.66" font-size="12.00" fill="#111" textLength="14.20" lengthAdjust="spacingAndGlyphs">(<tspan font-weight="bold">b</tspan>)</text>
<text x="272.90" y="493.20" font-size="11.16" fill="#111" textLength="13.10" lengthAdjust="spacingAndGlyphs">(<tspan font-weight="bold">c</tspan>)</text>
</svg>
</body></html>
